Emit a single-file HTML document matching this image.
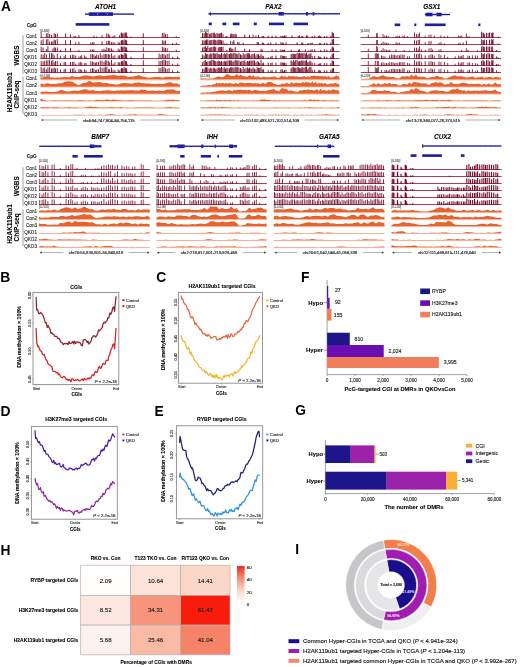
<!DOCTYPE html>
<html><head><meta charset="utf-8"><style>
html,body{margin:0;padding:0;background:#fff;overflow:hidden;}
svg{display:block;font-family:"Liberation Sans", sans-serif;}
</style></head><body>
<svg width="520" height="667" viewBox="0 0 520 667">
<defs><filter id="bl" x="0" y="0" width="1" height="1"><feGaussianBlur stdDeviation="0.5"/></filter></defs>
<rect width="520" height="667" fill="#fff"/>
<g filter="url(#bl)">
<text x="0.9" y="10.9" font-size="13.8" font-weight="bold">A</text><text x="26.8" y="26.9" font-size="4.7" font-weight="bold" fill="#111" stroke="#111" stroke-width="0.08">CpG</text><text x="37" y="38.3" font-size="4.6" text-anchor="end" fill="#111" stroke="#111" stroke-width="0.08">Con1</text><text x="37" y="80.3" font-size="4.6" text-anchor="end" fill="#111" stroke="#111" stroke-width="0.08">Con1</text><text x="37" y="45.25" font-size="4.6" text-anchor="end" fill="#111" stroke="#111" stroke-width="0.08">Con2</text><text x="37" y="87.4" font-size="4.6" text-anchor="end" fill="#111" stroke="#111" stroke-width="0.08">Con2</text><text x="37" y="52.2" font-size="4.6" text-anchor="end" fill="#111" stroke="#111" stroke-width="0.08">Con3</text><text x="37" y="94.5" font-size="4.6" text-anchor="end" fill="#111" stroke="#111" stroke-width="0.08">Con3</text><text x="37" y="59.15" font-size="4.6" text-anchor="end" fill="#111" stroke="#111" stroke-width="0.08">QKO1</text><text x="37" y="101.6" font-size="4.6" text-anchor="end" fill="#111" stroke="#111" stroke-width="0.08">QKO1</text><text x="37" y="66.1" font-size="4.6" text-anchor="end" fill="#111" stroke="#111" stroke-width="0.08">QKO2</text><text x="37" y="108.7" font-size="4.6" text-anchor="end" fill="#111" stroke="#111" stroke-width="0.08">QKO2</text><text x="37" y="73.05" font-size="4.6" text-anchor="end" fill="#111" stroke="#111" stroke-width="0.08">QKO3</text><text x="37" y="115.8" font-size="4.6" text-anchor="end" fill="#111" stroke="#111" stroke-width="0.08">QKO3</text><line x1="23" y1="35.3" x2="23" y2="73.95" stroke="#a0a0a0" stroke-width="1"/><line x1="23" y1="76.6" x2="23" y2="114.2" stroke="#a0a0a0" stroke-width="1"/><text x="18.7" y="55.5" font-size="6.4" text-anchor="middle" font-weight="bold" stroke="#000" stroke-width="0.08" transform="rotate(-90 18.7 55.5)">WGBS</text><text x="11.6" y="92.3" font-size="6.5" text-anchor="middle" font-weight="bold" stroke="#000" stroke-width="0.08" transform="rotate(-90 11.6 92.3)">H2AK119ub1</text><text x="19" y="94.5" font-size="6.5" text-anchor="middle" font-weight="bold" stroke="#000" stroke-width="0.08" transform="rotate(-90 19 94.5)">ChIP-seq</text><text x="105.6" y="8.7" font-size="6.4" text-anchor="middle" font-weight="bold" font-style="italic" stroke="#000" stroke-width="0.08">ATOH1</text><rect x="85" y="13.42" width="49" height="1.35" fill="#1c1c9c"/><rect x="88.8" y="12.3" width="24.2" height="3.6" fill="#1c1c9c"/><path d="M97.3 13.3l0.9 0.8l-0.9 0.8" stroke="#fff" stroke-width="0.5" fill="none"/><path d="M106.8 13.3l0.9 0.8l-0.9 0.8" stroke="#fff" stroke-width="0.5" fill="none"/><rect x="75.7" y="23.1" width="33.6" height="2.6" fill="#1c1c9c"/><text x="40.5" y="32" font-size="2.8" fill="#666" stroke="#666" stroke-width="0.14">[0-100]</text><text x="40.5" y="76.8" font-size="2.8" fill="#666" stroke="#666" stroke-width="0.14">[0-2.00]</text><line x1="40.5" y1="37.5" x2="180" y2="37.5" stroke="#b03c50" stroke-width="1"/><path d="M41.2 38v-5.7M46.4 38v-4.5M47.9 38v-5.1M49.6 38v-4M51.5 38v-3.3M54.2 38v-4.7M55.5 38v-4M57.3 38v-4.4M65.6 38v-4.7M70.5 38v-3.8M73.9 38v-2M75.7 38v-2M78.9 38v-2.8M93.9 38v-2.4M96.7 38v-1.6M102.1 38v-2.9M106.8 38v-4.7M108.4 38v-4.1M109.7 38v-2.9M113.1 38v-2.1M114.9 38v-2.8M119.6 38v-2.8M121.2 38v-5.4M122.7 38v-4.6M124.2 38v-5.3M125.9 38v-5.9M127.3 38v-1.7M131 38v-1.3M162.4 38v-4.9M164 38v-5.3M165.5 38v-3.8M167.2 38v-3.8M176.3 38v-1.7M143.3 38v-4.8M121.6 38v-5.2M122.9 38v-4M125.6 38v-5M126.6 38v-4.6" stroke="#740f2a" stroke-width="0.9" fill="none"/><line x1="40.5" y1="44.5" x2="180" y2="44.5" stroke="#b03c50" stroke-width="1"/><path d="M41.2 45v-4.6M43.1 45v-5.7M46.4 45v-5.6M47.9 45v-6.2M49.6 45v-3.5M51.5 45v-3.3M52.9 45v-3.7M54.2 45v-5.5M55.5 45v-4.7M57.3 45v-6M65.6 45v-4.9M70.5 45v-5M75.7 45v-2.7M78.9 45v-3.2M90.8 45v-2.6M92.5 45v-2.6M93.9 45v-2.8M102.1 45v-3.6M106.8 45v-4M108.4 45v-4.3M109.7 45v-4.2M111.5 45v-2.8M113.1 45v-2.9M114.9 45v-2.5M118.2 45v-2.8M119.6 45v-2.2M121.2 45v-4.2M122.7 45v-4.8M124.2 45v-5.6M125.9 45v-5.4M127.3 45v-1.2M162.4 45v-4.7M164 45v-4.3M165.5 45v-4.6M172.6 45v-2M176.3 45v-2.4M143.3 45v-4.9M121.6 45v-4.8M122.9 45v-4.4M125.6 45v-5M126.6 45v-4.1" stroke="#740f2a" stroke-width="0.9" fill="none"/><line x1="40.5" y1="51.5" x2="180" y2="51.5" stroke="#b03c50" stroke-width="1"/><path d="M41.2 52v-5.2M43.1 52v-4.4M46.4 52v-3M47.9 52v-5.9M52.9 52v-3.5M54.2 52v-4.8M55.5 52v-4.4M57.3 52v-4.5M60.5 52v-2M65.6 52v-3.8M70.5 52v-4M78.9 52v-2M90.8 52v-2.5M92.5 52v-2.6M93.9 52v-2.6M102.1 52v-2.6M104 52v-3.3M105.4 52v-2.1M106.8 52v-4.7M108.4 52v-3.8M109.7 52v-3.9M111.5 52v-3.5M113.1 52v-2.3M118.2 52v-3.4M119.6 52v-2.6M121.2 52v-5.6M122.7 52v-5.3M124.2 52v-5.7M125.9 52v-4.4M127.3 52v-1.5M131 52v-1.1M162.4 52v-5.1M164 52v-4.5M165.5 52v-4.2M167.2 52v-3.7M176.3 52v-2.2M143.3 52v-4.8M121.6 52v-5.1M122.9 52v-4.4M125.6 52v-5M126.6 52v-4.4" stroke="#740f2a" stroke-width="0.9" fill="none"/><line x1="40.5" y1="58.5" x2="180" y2="58.5" stroke="#b03c50" stroke-width="1"/><path d="M41.2 59v-4.6M43.1 59v-4.3M44.7 59v-5.9M46.4 59v-4.6M49.6 59v-6.2M51.5 59v-5.9M52.9 59v-5.4M54.2 59v-3.6M57.3 59v-5.3M60.5 59v-3.2M64.1 59v-2.8M65.6 59v-4.2M70.5 59v-3.9M72.4 59v-4.2M73.9 59v-4.3M75.7 59v-3.4M78.9 59v-2.3M80.3 59v-3.1M81.7 59v-3.7M84.4 59v-3.6M86 59v-2.4M90.8 59v-4.9M92.5 59v-5M93.9 59v-4.3M95.4 59v-3M96.7 59v-4.4M98.4 59v-3.9M100.3 59v-5.8M102.1 59v-3.6M104 59v-4.8M105.4 59v-4.9M106.8 59v-5M108.4 59v-5M109.7 59v-4.3M111.5 59v-5.4M113.1 59v-3.2M114.9 59v-3.8M118.2 59v-3.5M119.6 59v-3.8M121.2 59v-5.1M122.7 59v-4.1M124.2 59v-5.9M125.9 59v-5.6M127.3 59v-1.2M131 59v-2.4M159.1 59v-5.4M160.9 59v-4.4M162.4 59v-5.3M164 59v-5M165.5 59v-3.8M167.2 59v-5.1M169.1 59v-5.4M172.6 59v-2.2M177.7 59v-2.5M143.3 59v-5.5M121.6 59v-4.7M122.9 59v-4M125.6 59v-5.4M126.6 59v-4.5" stroke="#740f2a" stroke-width="0.9" fill="none"/><line x1="40.5" y1="65.5" x2="180" y2="65.5" stroke="#b03c50" stroke-width="1"/><path d="M41.2 66v-4.7M43.1 66v-4.7M44.7 66v-4.9M46.4 66v-5.6M47.9 66v-5.7M49.6 66v-6.2M51.5 66v-5.1M52.9 66v-5.9M54.2 66v-3.7M55.5 66v-5.1M57.3 66v-5M60.5 66v-2.8M64.1 66v-4M65.6 66v-4M70.5 66v-4M72.4 66v-4M73.9 66v-4.5M75.7 66v-2.3M78.9 66v-3.3M80.3 66v-4.2M81.7 66v-3.3M84.4 66v-2.8M86 66v-3.1M90.8 66v-4.9M92.5 66v-4.3M93.9 66v-4.1M95.4 66v-3.3M96.7 66v-3.9M98.4 66v-4.1M100.3 66v-5.4M102.1 66v-5.2M104 66v-4.3M105.4 66v-5.7M106.8 66v-5.8M108.4 66v-5M109.7 66v-3.6M111.5 66v-6.1M113.1 66v-2.4M114.9 66v-3.7M118.2 66v-3.9M119.6 66v-3.6M121.2 66v-4.1M122.7 66v-5.3M124.2 66v-6.2M125.9 66v-5M127.3 66v-1.6M131 66v-2.1M159.1 66v-5.1M160.9 66v-5.2M162.4 66v-5.7M164 66v-6.2M165.5 66v-5.7M167.2 66v-5M169.1 66v-5.5M172.6 66v-2.2M177.7 66v-2.5M143.3 66v-5.6M121.6 66v-4.9M122.9 66v-4M125.6 66v-4.9M126.6 66v-4.4" stroke="#740f2a" stroke-width="0.9" fill="none"/><line x1="40.5" y1="72.5" x2="180" y2="72.5" stroke="#b03c50" stroke-width="1"/><path d="M41.2 73v-6.1M43.1 73v-4.8M44.7 73v-5.5M46.4 73v-3.7M47.9 73v-5.5M49.6 73v-6.2M51.5 73v-4.5M52.9 73v-4.6M54.2 73v-5.3M55.5 73v-4.5M57.3 73v-4.9M60.5 73v-3.4M64.1 73v-3.8M65.6 73v-4.3M70.5 73v-4.3M72.4 73v-4.3M73.9 73v-4.8M75.7 73v-2.6M78.9 73v-3.8M80.3 73v-3.6M81.7 73v-3.4M84.4 73v-3.7M86 73v-2.8M90.8 73v-4.3M92.5 73v-4.8M93.9 73v-4.4M95.4 73v-2.8M96.7 73v-3.3M98.4 73v-4M100.3 73v-6.1M102.1 73v-4.8M104 73v-5.4M105.4 73v-6.2M106.8 73v-6.2M108.4 73v-4M109.7 73v-3.8M111.5 73v-5.5M113.1 73v-3.3M114.9 73v-2.9M118.2 73v-3.7M119.6 73v-2.5M121.2 73v-4M122.7 73v-4.8M124.2 73v-6.2M125.9 73v-5M127.3 73v-1.3M131 73v-2.2M159.1 73v-5M160.9 73v-5.1M162.4 73v-6.2M164 73v-5.9M165.5 73v-4.7M167.2 73v-4.1M169.1 73v-5M172.6 73v-2.7M177.7 73v-2.4M143.3 73v-5M121.6 73v-4.9M122.9 73v-4.3M125.6 73v-5M126.6 73v-4.3" stroke="#740f2a" stroke-width="0.9" fill="none"/><path d="M40.5 79.6L40.5 78L41.2 77.9L41.9 77.7L42.6 77.5L43.3 77.3L44 77.1L44.7 77L45.4 77L46.1 76.9L46.8 76.9L47.5 76.8L48.2 76.8L48.9 76.9L49.6 77.1L50.3 77.3L51 77.4L51.7 77.4L52.4 77.5L53.1 77.5L53.8 77.6L54.5 77.6L55.2 77.7L55.9 77.7L56.6 77.6L57.3 77.6L58 77.6L58.7 77.5L59.4 77.5L60.1 77.5L60.8 77.4L61.5 77.3L62.2 77.2L62.9 77.2L63.6 77.1L64.3 77L65 76.9L65.7 77L66.4 77.1L67.1 77.2L67.8 77.3L68.5 77.3L69.2 77.2L69.9 77L70.6 76.6L71.3 76.3L72 76.1L72.7 76.2L73.4 76.5L74.1 76.7L74.8 76.9L75.5 77L76.2 77.1L76.9 77.1L77.6 77.2L78.3 77.1L79 76.9L79.7 76.7L80.4 76.5L81.1 76.2L81.8 76L82.5 75.9L83.2 75.7L83.9 75.6L84.6 75.4L85.3 75.4L86 75.5L86.7 75.6L87.4 75.6L88.1 75.7L88.8 75.8L89.5 75.8L90.2 75.9L90.9 76.1L91.6 76.3L92.3 76.4L93 76.4L93.7 76.3L94.4 76.2L95.1 76.1L95.8 76L96.5 75.9L97.2 75.8L97.9 75.6L98.6 75.5L99.3 75.4L100 75.4L100.7 75.4L101.4 75.6L102.1 75.8L102.8 75.9L103.5 76L104.2 76L104.9 75.9L105.6 75.8L106.3 75.7L107 75.6L107.7 75.6L108.4 75.5L109.1 75.4L109.8 75.2L110.5 75.2L111.2 75.3L111.9 75.2L112.6 75.1L113.3 75L114 75L114.7 75.1L115.4 75.3L116.1 75.4L116.8 75.6L117.5 75.7L118.2 75.7L118.9 75.7L119.6 75.6L120.3 75.6L121 75.6L121.7 75.5L122.4 75.5L123.1 75.5L123.8 75.6L124.5 75.6L125.2 75.7L125.9 76.1L126.6 76.4L127.3 76.7L128 76.8L128.7 76.9L129.4 76.8L130.1 76.7L130.8 76.6L131.5 76.6L132.2 76.5L132.9 76.5L133.6 76.4L134.3 76.3L135 76.2L135.7 76.1L136.4 75.9L137.1 75.6L137.8 75.4L138.5 75.2L139.2 75.3L139.9 75.5L140.6 75.9L141.3 76.2L142 76.5L142.7 76.6L143.4 76.7L144.1 76.8L144.8 76.9L145.5 77.1L146.2 77.3L146.9 77.4L147.6 77.6L148.3 77.7L149 77.7L149.7 77.7L150.4 77.6L151.1 77.5L151.8 77.4L152.5 77.3L153.2 77.2L153.9 77.2L154.6 77.1L155.3 77.1L156 77L156.7 77L157.4 77L158.1 77L158.8 77.1L159.5 77.1L160.2 77.1L160.9 77.2L161.6 77.4L162.3 77.5L163 77.5L163.7 77.4L164.4 77.3L165.1 77.1L165.8 76.9L166.5 76.8L167.2 76.8L167.9 76.8L168.6 76.7L169.3 76.7L170 76.7L170.7 76.7L171.4 76.9L172.1 77L172.8 77L173.5 77L174.2 77L174.9 77L175.6 77L176.3 77L177 77L177.7 76.9L178.4 76.8L179.1 76.8L179.8 76.7L180 79.6Z" fill="#e8622f"/><line x1="40.5" y1="79.9" x2="180" y2="79.9" stroke="#ee9272" stroke-width="0.6"/><path d="M40.5 86.7L40.5 83.6L41.2 83.6L41.9 83.8L42.6 84.1L43.3 84.2L44 84.3L44.7 84.2L45.4 83.9L46.1 83.6L46.8 83.3L47.5 83.2L48.2 83.3L48.9 83.5L49.6 83.8L50.3 83.9L51 84L51.7 84.1L52.4 84.1L53.1 84.1L53.8 84.1L54.5 84.1L55.2 84.1L55.9 84L56.6 83.8L57.3 83.6L58 83.5L58.7 83.4L59.4 83.3L60.1 83.3L60.8 83.3L61.5 83.2L62.2 83L62.9 82.7L63.6 82.3L64.3 81.9L65 81.7L65.7 81.7L66.4 81.6L67.1 81.5L67.8 81.4L68.5 81.3L69.2 81.3L69.9 81.4L70.6 81.5L71.3 81.6L72 81.6L72.7 82L73.4 82.4L74.1 82.9L74.8 83.3L75.5 83.6L76.2 84L76.9 84.4L77.6 84.7L78.3 84.9L79 84.9L79.7 84.7L80.4 84.5L81.1 84.1L81.8 83.7L82.5 83.3L83.2 83.1L83.9 83L84.6 82.9L85.3 82.9L86 82.8L86.7 82.6L87.4 82.1L88.1 81.6L88.8 81.1L89.5 80.9L90.2 81L90.9 81.4L91.6 81.9L92.3 82.3L93 82.5L93.7 82.5L94.4 82.4L95.1 82.3L95.8 82.2L96.5 82.2L97.2 82.3L97.9 82.2L98.6 82.1L99.3 82.1L100 82L100.7 82.2L101.4 82.5L102.1 82.8L102.8 83.1L103.5 83.3L104.2 83.3L104.9 83.2L105.6 83.1L106.3 83L107 83L107.7 83.2L108.4 83.4L109.1 83.6L109.8 83.8L110.5 83.9L111.2 84L111.9 84L112.6 84.1L113.3 84.2L114 84.3L114.7 84.3L115.4 84.4L116.1 84.4L116.8 84.4L117.5 84.5L118.2 84.5L118.9 84.2L119.6 83.9L120.3 83.6L121 83.4L121.7 83.3L122.4 83.2L123.1 83.2L123.8 83.1L124.5 83L125.2 82.9L125.9 83L126.6 83.1L127.3 83.2L128 83.2L128.7 83.2L129.4 83.4L130.1 83.5L130.8 83.6L131.5 83.7L132.2 83.6L132.9 83.4L133.6 83.2L134.3 83L135 82.9L135.7 82.8L136.4 82.7L137.1 82.6L137.8 82.5L138.5 82.4L139.2 82.5L139.9 82.6L140.6 82.9L141.3 83.1L142 83.3L142.7 83.3L143.4 83.3L144.1 83.3L144.8 83.3L145.5 83.4L146.2 83.5L146.9 83.5L147.6 83.5L148.3 83.5L149 83.3L149.7 83.4L150.4 83.6L151.1 83.9L151.8 84.1L152.5 84.1L153.2 84.1L153.9 84.1L154.6 84L155.3 84L156 84L156.7 84L157.4 83.9L158.1 83.8L158.8 83.8L159.5 83.8L160.2 83.8L160.9 83.9L161.6 84L162.3 84L163 84L163.7 83.8L164.4 83.7L165.1 83.4L165.8 83.2L166.5 83L167.2 82.9L167.9 82.7L168.6 82.5L169.3 82.3L170 82.2L170.7 82.3L171.4 82.6L172.1 82.9L172.8 83.2L173.5 83.4L174.2 83.5L174.9 83.5L175.6 83.5L176.3 83.5L177 83.6L177.7 83.8L178.4 84L179.1 84.2L179.8 84.3L180 86.7Z" fill="#e8622f"/><line x1="40.5" y1="87" x2="180" y2="87" stroke="#ee9272" stroke-width="0.6"/><path d="M40.5 93.8L40.5 92L41.2 91.9L41.9 91.8L42.6 91.8L43.3 91.7L44 91.7L44.7 91.7L45.4 91.6L46.1 91.5L46.8 91.5L47.5 91.4L48.2 91.5L48.9 91.7L49.6 91.9L50.3 92L51 92.1L51.7 92.1L52.4 92.1L53.1 92.1L53.8 92L54.5 92L55.2 91.9L55.9 91.7L56.6 91.6L57.3 91.4L58 91.2L58.7 91L59.4 90.7L60.1 90.3L60.8 90L61.5 89.8L62.2 89.9L62.9 90.2L63.6 90.5L64.3 90.8L65 91L65.7 91.1L66.4 91.2L67.1 91.4L67.8 91.5L68.5 91.6L69.2 91.6L69.9 91.4L70.6 91.2L71.3 91L72 90.8L72.7 90.8L73.4 90.7L74.1 90.7L74.8 90.6L75.5 90.6L76.2 90.6L76.9 90.7L77.6 90.9L78.3 90.9L79 90.6L79.7 90.4L80.4 90.2L81.1 90.1L81.8 90L82.5 89.8L83.2 89.7L83.9 89.5L84.6 89.3L85.3 89.2L86 89.2L86.7 89.4L87.4 89.7L88.1 90L88.8 90.3L89.5 90.4L90.2 90.4L90.9 90.3L91.6 90.2L92.3 90.1L93 90L93.7 90.2L94.4 90.4L95.1 90.7L95.8 90.9L96.5 91L97.2 91L97.9 91L98.6 91L99.3 91L100 91L100.7 91L101.4 90.8L102.1 90.7L102.8 90.6L103.5 90.5L104.2 90.5L104.9 90.4L105.6 90.4L106.3 90.3L107 90.3L107.7 90.3L108.4 90.3L109.1 90.4L109.8 90.4L110.5 90.5L111.2 90.6L111.9 90.7L112.6 90.9L113.3 91L114 91.1L114.7 91.1L115.4 90.9L116.1 90.7L116.8 90.5L117.5 90.4L118.2 90.4L118.9 90.4L119.6 90.4L120.3 90.4L121 90.3L121.7 90.3L122.4 90.3L123.1 90.4L123.8 90.4L124.5 90.4L125.2 90.4L125.9 90.3L126.6 90.3L127.3 90.3L128 90.2L128.7 90.2L129.4 90.2L130.1 90.2L130.8 90.1L131.5 90.1L132.2 90.2L132.9 90.2L133.6 90.3L134.3 90.4L135 90.4L135.7 90.4L136.4 90.5L137.1 90.5L137.8 90.6L138.5 90.6L139.2 90.5L139.9 90.2L140.6 89.8L141.3 89.6L142 89.5L142.7 89.7L143.4 89.8L144.1 89.9L144.8 90L145.5 90.1L146.2 90.3L146.9 90.5L147.6 90.7L148.3 90.9L149 90.9L149.7 90.8L150.4 90.7L151.1 90.5L151.8 90.4L152.5 90.4L153.2 90.4L153.9 90.6L154.6 90.7L155.3 90.9L156 90.9L156.7 90.9L157.4 90.8L158.1 90.6L158.8 90.5L159.5 90.4L160.2 90.5L160.9 90.7L161.6 90.9L162.3 91L163 91L163.7 90.9L164.4 90.6L165.1 90.3L165.8 89.9L166.5 89.7L167.2 89.6L167.9 89.6L168.6 89.6L169.3 89.6L170 89.6L170.7 89.6L171.4 89.5L172.1 89.4L172.8 89.3L173.5 89.4L174.2 89.6L174.9 90L175.6 90.5L176.3 90.9L177 91L177.7 91L178.4 90.9L179.1 90.6L179.8 90.5L180 93.8Z" fill="#e8622f"/><line x1="40.5" y1="94.1" x2="180" y2="94.1" stroke="#ee9272" stroke-width="0.6"/><path d="M40.5 100.9L40.5 98.6L41.2 98.7L41.9 99.1L42.6 99.6L43.3 99.9L44 100.1L44.7 100.3L45.4 100.4L46.1 100.5L46.8 100.6L47.5 100.7L48.2 100.7L48.9 100.7L49.6 100.7L50.3 100.7L51 100.7L51.7 100.6L52.4 100.6L53.1 100.5L53.8 100.4L54.5 100.4L55.2 100.4L55.9 100.4L56.6 100.4L57.3 100.4L58 100.4L58.7 100.4L59.4 100.5L60.1 100.6L60.8 100.6L61.5 100.7L62.2 100.6L62.9 100.6L63.6 100.5L64.3 100.4L65 100.4L65.7 100.4L66.4 100.4L67.1 100.5L67.8 100.6L68.5 100.6L69.2 100.6L69.9 100.6L70.6 100.5L71.3 100.5L72 100.5L72.7 100.5L73.4 100.6L74.1 100.6L74.8 100.6L75.5 100.6L76.2 100.6L76.9 100.5L77.6 100.4L78.3 100.3L79 100.3L79.7 100.3L80.4 100.3L81.1 100.2L81.8 100.2L82.5 100.2L83.2 100.3L83.9 100.4L84.6 100.6L85.3 100.6L86 100.7L86.7 100.7L87.4 100.6L88.1 100.6L88.8 100.6L89.5 100.5L90.2 100.6L90.9 100.6L91.6 100.6L92.3 100.7L93 100.7L93.7 100.6L94.4 100.5L95.1 100.3L95.8 100.1L96.5 99.8L97.2 99.8L97.9 99.8L98.6 100L99.3 100.1L100 100.1L100.7 100.1L101.4 100.1L102.1 100.1L102.8 100.1L103.5 100.1L104.2 100.1L104.9 99.9L105.6 99.7L106.3 99.5L107 99.4L107.7 99.5L108.4 99.7L109.1 99.9L109.8 100L110.5 100L111.2 100L111.9 99.8L112.6 99.7L113.3 99.6L114 99.6L114.7 99.7L115.4 99.8L116.1 99.9L116.8 100L117.5 100.1L118.2 100.1L118.9 100.2L119.6 100.3L120.3 100.3L121 100.3L121.7 100.4L122.4 100.4L123.1 100.5L123.8 100.6L124.5 100.6L125.2 100.6L125.9 100.5L126.6 100.5L127.3 100.4L128 100.4L128.7 100.3L129.4 100.3L130.1 100.3L130.8 100.2L131.5 100.2L132.2 100.2L132.9 100.3L133.6 100.4L134.3 100.4L135 100.4L135.7 100.4L136.4 100.4L137.1 100.5L137.8 100.5L138.5 100.5L139.2 100.5L139.9 100.5L140.6 100.4L141.3 100.4L142 100.4L142.7 100.5L143.4 100.5L144.1 100.5L144.8 100.6L145.5 100.6L146.2 100.6L146.9 100.6L147.6 100.6L148.3 100.5L149 100.5L149.7 100.5L150.4 100.6L151.1 100.6L151.8 100.7L152.5 100.7L153.2 100.7L153.9 100.7L154.6 100.7L155.3 100.7L156 100.7L156.7 100.7L157.4 100.7L158.1 100.7L158.8 100.7L159.5 100.7L160.2 100.7L160.9 100.6L161.6 100.6L162.3 100.5L163 100.5L163.7 100.5L164.4 100.4L165.1 100.3L165.8 100.1L166.5 99.9L167.2 99.8L167.9 99.8L168.6 99.8L169.3 99.8L170 99.8L170.7 99.8L171.4 99.7L172.1 99.7L172.8 99.6L173.5 99.7L174.2 99.8L174.9 99.9L175.6 99.9L176.3 100L177 100.1L177.7 100.2L178.4 100.3L179.1 100.4L179.8 100.4L180 100.9Z" fill="#e8622f"/><line x1="40.5" y1="101.2" x2="180" y2="101.2" stroke="#ee9272" stroke-width="0.6"/><path d="M40.5 108L40.5 107.1L41.2 107.1L41.9 107.1L42.6 107.2L43.3 107.2L44 107.2L44.7 107.2L45.4 107.2L46.1 107.2L46.8 107.2L47.5 107.2L48.2 107.2L48.9 107.3L49.6 107.4L50.3 107.5L51 107.5L51.7 107.5L52.4 107.4L53.1 107.3L53.8 107.2L54.5 107.2L55.2 107.2L55.9 107.3L56.6 107.3L57.3 107.3L58 107.4L58.7 107.5L59.4 107.6L60.1 107.7L60.8 107.8L61.5 107.8L62.2 107.8L62.9 107.8L63.6 107.7L64.3 107.6L65 107.6L65.7 107.5L66.4 107.5L67.1 107.4L67.8 107.2L68.5 107.2L69.2 107.2L69.9 107.2L70.6 107.3L71.3 107.4L72 107.5L72.7 107.5L73.4 107.4L74.1 107.4L74.8 107.4L75.5 107.4L76.2 107.5L76.9 107.6L77.6 107.6L78.3 107.7L79 107.7L79.7 107.7L80.4 107.8L81.1 107.8L81.8 107.8L82.5 107.8L83.2 107.8L83.9 107.7L84.6 107.6L85.3 107.5L86 107.3L86.7 107.2L87.4 107L88.1 106.8L88.8 106.7L89.5 106.5L90.2 106.5L90.9 106.6L91.6 106.8L92.3 107L93 107.1L93.7 107.1L94.4 107.1L95.1 107.1L95.8 107.1L96.5 107.2L97.2 107.3L97.9 107.3L98.6 107.4L99.3 107.4L100 107.4L100.7 107.4L101.4 107.4L102.1 107.5L102.8 107.5L103.5 107.5L104.2 107.5L104.9 107.5L105.6 107.5L106.3 107.5L107 107.5L107.7 107.5L108.4 107.4L109.1 107.3L109.8 107.3L110.5 107.2L111.2 107.2L111.9 107.3L112.6 107.3L113.3 107.3L114 107.3L114.7 107.4L115.4 107.4L116.1 107.4L116.8 107.4L117.5 107.5L118.2 107.4L118.9 107.4L119.6 107.3L120.3 107.2L121 107.1L121.7 107.2L122.4 107.4L123.1 107.6L123.8 107.7L124.5 107.7L125.2 107.7L125.9 107.7L126.6 107.7L127.3 107.6L128 107.6L128.7 107.7L129.4 107.7L130.1 107.8L130.8 107.8L131.5 107.8L132.2 107.8L132.9 107.8L133.6 107.7L134.3 107.7L135 107.6L135.7 107.6L136.4 107.6L137.1 107.6L137.8 107.6L138.5 107.6L139.2 107.6L139.9 107.5L140.6 107.5L141.3 107.4L142 107.5L142.7 107.5L143.4 107.4L144.1 107.4L144.8 107.4L145.5 107.4L146.2 107.4L146.9 107.5L147.6 107.5L148.3 107.5L149 107.5L149.7 107.5L150.4 107.5L151.1 107.5L151.8 107.5L152.5 107.5L153.2 107.6L153.9 107.6L154.6 107.7L155.3 107.7L156 107.8L156.7 107.8L157.4 107.7L158.1 107.7L158.8 107.7L159.5 107.7L160.2 107.7L160.9 107.7L161.6 107.7L162.3 107.7L163 107.7L163.7 107.7L164.4 107.6L165.1 107.5L165.8 107.4L166.5 107.3L167.2 107.2L167.9 107.2L168.6 107.1L169.3 107.1L170 107.1L170.7 107.1L171.4 107.3L172.1 107.4L172.8 107.5L173.5 107.6L174.2 107.6L174.9 107.6L175.6 107.6L176.3 107.6L177 107.6L177.7 107.7L178.4 107.7L179.1 107.7L179.8 107.7L180 108Z" fill="#e8622f"/><line x1="40.5" y1="108.3" x2="180" y2="108.3" stroke="#ee9272" stroke-width="0.6"/><path d="M40.5 115.1L40.5 114.9L41.2 114.9L41.9 114.9L42.6 114.9L43.3 114.9L44 114.9L44.7 114.9L45.4 114.9L46.1 114.9L46.8 114.9L47.5 114.9L48.2 114.9L48.9 114.9L49.6 114.9L50.3 114.9L51 115L51.7 114.9L52.4 114.9L53.1 114.9L53.8 114.9L54.5 114.9L55.2 114.9L55.9 114.9L56.6 115L57.3 115L58 115L58.7 115L59.4 114.9L60.1 114.9L60.8 114.9L61.5 114.8L62.2 114.9L62.9 114.9L63.6 114.9L64.3 115L65 115L65.7 114.9L66.4 114.9L67.1 114.9L67.8 114.9L68.5 114.9L69.2 114.9L69.9 114.9L70.6 114.9L71.3 114.9L72 114.9L72.7 114.9L73.4 114.8L74.1 114.8L74.8 114.7L75.5 114.7L76.2 114.7L76.9 114.7L77.6 114.7L78.3 114.7L79 114.7L79.7 114.7L80.4 114.7L81.1 114.7L81.8 114.7L82.5 114.7L83.2 114.7L83.9 114.8L84.6 114.9L85.3 114.9L86 114.9L86.7 114.9L87.4 114.9L88.1 114.9L88.8 114.8L89.5 114.8L90.2 114.8L90.9 114.8L91.6 114.8L92.3 114.8L93 114.9L93.7 114.9L94.4 114.9L95.1 114.9L95.8 114.9L96.5 114.9L97.2 114.9L97.9 114.9L98.6 114.8L99.3 114.7L100 114.7L100.7 114.8L101.4 114.8L102.1 114.9L102.8 114.9L103.5 114.9L104.2 114.9L104.9 114.9L105.6 114.8L106.3 114.7L107 114.6L107.7 114.6L108.4 114.5L109.1 114.4L109.8 114.3L110.5 114.2L111.2 114.2L111.9 114.2L112.6 114.2L113.3 114.3L114 114.4L114.7 114.5L115.4 114.7L116.1 114.8L116.8 114.9L117.5 115L118.2 115L118.9 115L119.6 114.9L120.3 114.9L121 114.9L121.7 114.9L122.4 114.9L123.1 114.9L123.8 114.8L124.5 114.7L125.2 114.7L125.9 114.7L126.6 114.8L127.3 114.8L128 114.7L128.7 114.7L129.4 114.6L130.1 114.6L130.8 114.5L131.5 114.5L132.2 114.5L132.9 114.4L133.6 114.3L134.3 114.2L135 114.2L135.7 114.3L136.4 114.5L137.1 114.7L137.8 114.8L138.5 114.8L139.2 114.8L139.9 114.8L140.6 114.8L141.3 114.8L142 114.7L142.7 114.8L143.4 114.8L144.1 114.8L144.8 114.8L145.5 114.8L146.2 114.8L146.9 114.8L147.6 114.8L148.3 114.8L149 114.8L149.7 114.8L150.4 114.8L151.1 114.8L151.8 114.8L152.5 114.8L153.2 114.8L153.9 114.8L154.6 114.8L155.3 114.8L156 114.8L156.7 114.7L157.4 114.6L158.1 114.4L158.8 114.2L159.5 114L160.2 114L160.9 114.1L161.6 114.2L162.3 114.3L163 114.4L163.7 114.5L164.4 114.5L165.1 114.6L165.8 114.7L166.5 114.7L167.2 114.8L167.9 114.8L168.6 114.9L169.3 114.9L170 114.9L170.7 114.9L171.4 114.9L172.1 114.9L172.8 114.9L173.5 114.9L174.2 114.9L174.9 114.9L175.6 114.9L176.3 114.9L177 114.9L177.7 114.9L178.4 114.9L179.1 114.9L179.8 114.9L180 115.1Z" fill="#e8622f"/><line x1="40.5" y1="115.4" x2="180" y2="115.4" stroke="#ee9272" stroke-width="0.6"/><line x1="42" y1="120" x2="77.1" y2="120" stroke="#8a8f8f" stroke-width="0.7"/><line x1="140.3" y1="120" x2="178.5" y2="120" stroke="#8a8f8f" stroke-width="0.7"/><path d="M41 120l2.2 -1.1v2.2z" fill="#333"/><path d="M179.5 120l-2.2 -1.1v2.2z" fill="#333"/><text x="108.7" y="121.6" font-size="4.15" text-anchor="middle" fill="#111" stroke="#111" stroke-width="0.14">chr4:94,747,904-94,754,115</text><text x="273.4" y="8.7" font-size="6.4" text-anchor="middle" font-weight="bold" font-style="italic" stroke="#000" stroke-width="0.08">PAX2</text><rect x="209" y="13.12" width="131" height="1.35" fill="#1c1c9c"/><rect x="278.6" y="12" width="5.2" height="3.6" fill="#1c1c9c"/><rect x="306" y="12" width="2" height="3.6" fill="#1c1c9c"/><rect x="312.6" y="12" width="1.7" height="3.6" fill="#1c1c9c"/><path d="M213.5 13l-1 0.8l1 0.8M218.5 13l-1 0.8l1 0.8M223.5 13l-1 0.8l1 0.8M228.5 13l-1 0.8l1 0.8M233.5 13l-1 0.8l1 0.8M238.5 13l-1 0.8l1 0.8M243.5 13l-1 0.8l1 0.8M248.5 13l-1 0.8l1 0.8M253.5 13l-1 0.8l1 0.8M258.5 13l-1 0.8l1 0.8M263.5 13l-1 0.8l1 0.8M268.5 13l-1 0.8l1 0.8M273.5 13l-1 0.8l1 0.8M278.5 13l-1 0.8l1 0.8M283.5 13l-1 0.8l1 0.8M288.5 13l-1 0.8l1 0.8M293.5 13l-1 0.8l1 0.8M298.5 13l-1 0.8l1 0.8M303.5 13l-1 0.8l1 0.8M308.5 13l-1 0.8l1 0.8M313.5 13l-1 0.8l1 0.8M318.5 13l-1 0.8l1 0.8M323.5 13l-1 0.8l1 0.8M328.5 13l-1 0.8l1 0.8M333.5 13l-1 0.8l1 0.8" stroke="#6a6ad8" stroke-width="0.45" fill="none"/><path d="M208 13.8l3 -1.9v3.8z" fill="#1c1c9c"/><rect x="208.7" y="22.6" width="3.1" height="2.6" fill="#1c1c9c"/><rect x="222.4" y="22.6" width="3.8" height="2.6" fill="#1c1c9c"/><rect x="232.8" y="22.6" width="6.7" height="2.6" fill="#1c1c9c"/><rect x="253.8" y="22.6" width="3" height="2.6" fill="#1c1c9c"/><rect x="269" y="22.6" width="15" height="2.6" fill="#1c1c9c"/><rect x="293.5" y="22.6" width="14.5" height="2.6" fill="#1c1c9c"/><text x="200.4" y="32" font-size="2.8" fill="#666" stroke="#666" stroke-width="0.14">[0-100]</text><text x="200.4" y="76.8" font-size="2.8" fill="#666" stroke="#666" stroke-width="0.14">[0-2.00]</text><line x1="200.4" y1="37.5" x2="339.6" y2="37.5" stroke="#b03c50" stroke-width="1"/><path d="M202.6 38v-5.1M204.1 38v-4.9M205.4 38v-6.2M206.5 38v-5.4M207.8 38v-5M209.3 38v-4.3M210.7 38v-4.4M211.8 38v-5.2M213.3 38v-5.2M214.6 38v-5.4M215.7 38v-3.7M217.1 38v-5M218.2 38v-4.3M219.3 38v-4.5M220.3 38v-4.8M221.5 38v-5.2M223 38v-4M225.5 38v-1.5M226.8 38v-2.1M230.7 38v-4.2M231.7 38v-4.2M232.9 38v-4.2M233.9 38v-3.6M235.2 38v-4.3M236.3 38v-3.5M244.7 38v-3.3M249.5 38v-2.8M253.1 38v-3.3M255.9 38v-2.4M258.5 38v-3M262.3 38v-2M263.6 38v-1.9M268.2 38v-2.3M272.1 38v-2.3M276 38v-2.4M280.9 38v-2.2M282.3 38v-2.1M283.4 38v-1.9M284.5 38v-2.6M286 38v-2.6M292.1 38v-2.5M298.4 38v-1.8M299.6 38v-2.8M301.8 38v-2.1M302.8 38v-2M306.5 38v-2.7M307.7 38v-2.4M312.2 38v-2M314.7 38v-2.2M318.3 38v-2.2M319.3 38v-2.5M320.7 38v-1.8M324.3 38v-2M326.8 38v-2.1M330.8 38v-2.2M332.2 38v-6.1M333.5 38v-4.8M333 38v-4.5" stroke="#740f2a" stroke-width="0.95" fill="none"/><line x1="200.4" y1="44.5" x2="339.6" y2="44.5" stroke="#b03c50" stroke-width="1"/><path d="M202.6 45v-4.8M204.1 45v-4.5M205.4 45v-4.7M206.5 45v-5.4M207.8 45v-5.5M209.3 45v-4.6M210.7 45v-5M211.8 45v-5M213.3 45v-5.2M214.6 45v-5.5M215.7 45v-4.8M217.1 45v-4.6M218.2 45v-5.3M219.3 45v-5.3M220.3 45v-5.1M221.5 45v-4.7M223 45v-4.5M224.3 45v-1.7M226.8 45v-1.7M230.7 45v-4.1M232.9 45v-3.3M233.9 45v-4.8M237.7 45v-3M239 45v-2.7M243.2 45v-2.4M257.2 45v-3M258.5 45v-2.5M262.3 45v-2.5M263.6 45v-2.2M268.2 45v-2.1M270.8 45v-2.6M276 45v-2.3M280.9 45v-2.8M282.3 45v-2.5M283.4 45v-1.9M286 45v-2.6M297.1 45v-2.6M301.8 45v-2.4M302.8 45v-2.2M307.7 45v-1.7M308.9 45v-1.7M310.9 45v-2.1M312.2 45v-2.4M319.3 45v-1.9M320.7 45v-1.9M324.3 45v-2.2M326.8 45v-2.2M330.8 45v-2.4M332.2 45v-5.7M333.5 45v-6.2M333 45v-5.1" stroke="#740f2a" stroke-width="0.95" fill="none"/><line x1="200.4" y1="51.5" x2="339.6" y2="51.5" stroke="#b03c50" stroke-width="1"/><path d="M202.6 52v-4.6M204.1 52v-5.2M205.4 52v-5.9M206.5 52v-4.2M207.8 52v-6M209.3 52v-4.2M210.7 52v-4.7M211.8 52v-4.9M213.3 52v-5.3M214.6 52v-5.7M215.7 52v-4.9M218.2 52v-4.4M219.3 52v-5M220.3 52v-5M221.5 52v-5.1M223 52v-5.3M226.8 52v-1.9M229.5 52v-4.1M230.7 52v-4.5M231.7 52v-3.1M232.9 52v-3.3M235.2 52v-4.8M244.7 52v-3.3M249.5 52v-2.8M261 52v-3.3M262.3 52v-2.5M272.1 52v-2.5M276 52v-2.6M280.9 52v-2.5M282.3 52v-2.3M283.4 52v-2M284.5 52v-2.3M291.1 52v-2.4M298.4 52v-2.2M299.6 52v-2.7M305.3 52v-2.6M308.9 52v-1.5M310.9 52v-2.4M312.2 52v-2.6M314.7 52v-2.6M320.7 52v-2.1M324.3 52v-2.5M326.8 52v-2.3M330.8 52v-2.7M332.2 52v-5.5M333.5 52v-4.4M333 52v-4.7" stroke="#740f2a" stroke-width="0.95" fill="none"/><line x1="200.4" y1="58.5" x2="339.6" y2="58.5" stroke="#b03c50" stroke-width="1"/><path d="M202.6 59v-4.5M204.1 59v-3.4M205.4 59v-6.2M206.5 59v-4.9M207.8 59v-5M209.3 59v-4.6M210.7 59v-5.6M211.8 59v-5.3M213.3 59v-6.2M214.6 59v-5.6M215.7 59v-5.3M217.1 59v-6.2M218.2 59v-4.6M219.3 59v-5M220.3 59v-4.3M221.5 59v-6.1M223 59v-5M224.3 59v-6M225.5 59v-4.7M226.8 59v-6.2M228 59v-4.8M229.5 59v-5M230.7 59v-5.9M231.7 59v-5.3M232.9 59v-5.5M233.9 59v-6.1M235.2 59v-5.9M236.3 59v-5.2M237.7 59v-4.8M239 59v-6.1M240.5 59v-4.6M241.8 59v-3.9M243.2 59v-5.9M244.7 59v-4.5M246 59v-5.3M247.4 59v-5.6M248.4 59v-5.7M249.5 59v-5.5M250.9 59v-3.5M251.9 59v-4.8M253.1 59v-5M254.5 59v-5.8M255.9 59v-3.4M257.2 59v-5.1M258.5 59v-4.8M259.7 59v-3M261 59v-5.1M262.3 59v-3.2M263.6 59v-2.8M268.2 59v-2M270.8 59v-2.5M272.1 59v-3.2M276 59v-3.5M280.9 59v-3.8M282.3 59v-3.2M283.4 59v-3M284.5 59v-2.9M286 59v-2.9M291.1 59v-4.7M292.1 59v-5.4M293.4 59v-5.2M294.6 59v-5.2M295.7 59v-4.9M297.1 59v-6.1M298.4 59v-5.5M299.6 59v-6.2M300.7 59v-5.4M301.8 59v-5.9M302.8 59v-5.6M304 59v-5.8M305.3 59v-5.5M306.5 59v-6.2M307.7 59v-4M308.9 59v-5.2M309.9 59v-4.9M310.9 59v-5.8M312.2 59v-2.9M314.7 59v-3.1M318.3 59v-2.9M319.3 59v-2.3M320.7 59v-2.2M324.3 59v-2.6M326.8 59v-2.1M330.8 59v-2.5M332.2 59v-5.3M333.5 59v-5.8M333 59v-4.7" stroke="#740f2a" stroke-width="0.95" fill="none"/><line x1="200.4" y1="65.5" x2="339.6" y2="65.5" stroke="#b03c50" stroke-width="1"/><path d="M202.6 66v-3.8M204.1 66v-5M205.4 66v-6.1M206.5 66v-4M207.8 66v-4.4M209.3 66v-4.9M210.7 66v-5.3M211.8 66v-6.1M213.3 66v-6.2M214.6 66v-5.3M215.7 66v-4.6M217.1 66v-4.3M218.2 66v-5.4M219.3 66v-5M220.3 66v-4.3M221.5 66v-5M223 66v-4.4M224.3 66v-5.2M225.5 66v-4.4M226.8 66v-5.2M228 66v-5.6M229.5 66v-5.7M230.7 66v-5.6M231.7 66v-5.5M232.9 66v-4.1M233.9 66v-4.7M235.2 66v-6.1M236.3 66v-5.7M237.7 66v-5.5M239 66v-5.4M240.5 66v-4.3M241.8 66v-5.2M243.2 66v-5.2M244.7 66v-5.5M246 66v-4M247.4 66v-5M248.4 66v-4.4M249.5 66v-5.2M250.9 66v-5.6M251.9 66v-5.2M253.1 66v-5.6M254.5 66v-5.6M255.9 66v-3.5M257.2 66v-4.9M258.5 66v-4.2M259.7 66v-2.9M261 66v-6.2M262.3 66v-2.7M263.6 66v-3.5M268.2 66v-3.4M270.8 66v-2.9M272.1 66v-3.6M276 66v-3.4M280.9 66v-3.7M282.3 66v-3.6M283.4 66v-3.2M284.5 66v-3.4M286 66v-3M291.1 66v-5.3M292.1 66v-4.5M293.4 66v-6.2M294.6 66v-4.5M295.7 66v-5.9M297.1 66v-6M298.4 66v-4.3M299.6 66v-5.1M300.7 66v-4.7M301.8 66v-5.8M302.8 66v-5.2M304 66v-5.3M305.3 66v-5.1M306.5 66v-6.2M307.7 66v-3.6M308.9 66v-3.7M309.9 66v-5.4M310.9 66v-4.6M312.2 66v-3.2M314.7 66v-2.9M318.3 66v-2.1M319.3 66v-2.5M320.7 66v-2.9M324.3 66v-2.8M326.8 66v-2.8M330.8 66v-2.7M332.2 66v-5.5M333.5 66v-5M333 66v-4.7" stroke="#740f2a" stroke-width="0.95" fill="none"/><line x1="200.4" y1="72.5" x2="339.6" y2="72.5" stroke="#b03c50" stroke-width="1"/><path d="M202.6 73v-4.2M204.1 73v-4.2M205.4 73v-6M206.5 73v-5.7M207.8 73v-5.5M209.3 73v-4.5M210.7 73v-5.2M211.8 73v-4.6M213.3 73v-5.3M214.6 73v-5M215.7 73v-3.9M217.1 73v-4.8M218.2 73v-5.3M219.3 73v-5.3M220.3 73v-5.1M221.5 73v-6.1M223 73v-4.9M224.3 73v-5.7M225.5 73v-4.4M226.8 73v-5.1M228 73v-4.7M229.5 73v-4.7M230.7 73v-5.7M231.7 73v-5.7M232.9 73v-5.5M233.9 73v-4.9M235.2 73v-6.2M236.3 73v-5.8M237.7 73v-6.2M239 73v-5.3M240.5 73v-4.9M241.8 73v-3.7M243.2 73v-6.1M244.7 73v-4M246 73v-5.1M247.4 73v-5.6M248.4 73v-4.5M249.5 73v-5.3M250.9 73v-4.6M251.9 73v-4M253.1 73v-5.5M254.5 73v-4.3M255.9 73v-3.6M257.2 73v-5.7M258.5 73v-5.2M259.7 73v-5M261 73v-6.2M262.3 73v-3.6M263.6 73v-3.7M268.2 73v-2.8M270.8 73v-2.5M272.1 73v-2.8M276 73v-3.2M280.9 73v-3.6M282.3 73v-3.8M283.4 73v-1.7M284.5 73v-3M286 73v-3.3M291.1 73v-4.7M292.1 73v-5.6M293.4 73v-6.2M294.6 73v-5.2M295.7 73v-5.2M297.1 73v-5.7M298.4 73v-5.8M299.6 73v-5M300.7 73v-4.5M301.8 73v-5.6M302.8 73v-5.8M304 73v-5.1M305.3 73v-6.2M306.5 73v-6.2M307.7 73v-3.5M308.9 73v-5.2M309.9 73v-6.1M310.9 73v-6.2M312.2 73v-3.2M314.7 73v-2.9M318.3 73v-2.5M319.3 73v-3.1M320.7 73v-2.5M324.3 73v-2.9M326.8 73v-2.7M330.8 73v-3M332.2 73v-4.2M333.5 73v-4.9M333 73v-5" stroke="#740f2a" stroke-width="0.95" fill="none"/><path d="M200.4 79.6L200.4 78.4L201.1 78.3L201.8 78.2L202.5 78.3L203.2 78.4L203.9 78.4L204.6 78.5L205.3 78.5L206 78.5L206.7 78.4L207.4 78.5L208.1 78.5L208.8 78.5L209.5 78.4L210.2 78.5L210.9 78.5L211.6 78.5L212.3 78.5L213 78.5L213.7 78.3L214.4 77.9L215.1 77.7L215.8 77.4L216.5 77.1L217.2 76.8L217.9 76.5L218.6 76.6L219.3 76.8L220 76.9L220.7 77.1L221.4 77.1L222.1 77.3L222.8 77.3L223.5 77L224.2 76.4L224.9 76L225.6 75L226.3 74.6L227 74.4L227.7 74.3L228.4 74.5L229.1 74.8L229.8 75.2L230.5 75.9L231.2 75.9L231.9 75.9L232.6 75.9L233.3 75.9L234 76L234.7 75.7L235.4 75.3L236.1 75L236.8 74.1L237.5 74.1L238.2 75.4L238.9 76L239.6 75.3L240.3 74.6L241 74.9L241.7 75.4L242.4 75.7L243.1 76.1L243.8 76.3L244.5 76.2L245.2 76.1L245.9 76.4L246.6 76.9L247.3 76.7L248 76L248.7 75.7L249.4 75.4L250.1 75.2L250.8 75.9L251.5 76.5L252.2 76.2L252.9 75.3L253.6 75.5L254.3 76.4L255 76.8L255.7 76.8L256.4 76.8L257.1 76.5L257.8 76.2L258.5 76.4L259.2 77L259.9 77.2L260.6 77.4L261.3 77.4L262 77.1L262.7 76.7L263.4 76.7L264.1 76.7L264.8 76.8L265.5 77.1L266.2 77.2L266.9 77.2L267.6 77.2L268.3 77.2L269 77.2L269.7 77.2L270.4 77.1L271.1 77.1L271.8 77.1L272.5 77.1L273.2 76.7L273.9 76.2L274.6 76.4L275.3 76.5L276 76.9L276.7 77.6L277.4 77.7L278.1 77.7L278.8 77.7L279.5 77.3L280.2 76.7L280.9 76.3L281.6 75.7L282.3 75.7L283 76.5L283.7 76.8L284.4 76.5L285.1 76.1L285.8 76.6L286.5 77.3L287.2 77.3L287.9 76.5L288.6 76.1L289.3 76L290 76L290.7 76.2L291.4 76.6L292.1 76.5L292.8 76L293.5 76L294.2 76.4L294.9 76.5L295.6 76.4L296.3 76.2L297 76.4L297.7 76.7L298.4 76.8L299.1 76.9L299.8 76.9L300.5 77L301.2 77.1L301.9 76.9L302.6 76.5L303.3 76.4L304 76.1L304.7 76.2L305.4 77L306.1 77.3L306.8 76.8L307.5 76.1L308.2 76.5L308.9 77.1L309.6 77.1L310.3 76.4L311 76.1L311.7 76L312.4 75.9L313.1 75.7L313.8 75.5L314.5 75.6L315.2 76L315.9 76.1L316.6 76.1L317.3 76.1L318 76.1L318.7 76.1L319.4 76.2L320.1 76.2L320.8 76.2L321.5 76.2L322.2 76.3L322.9 76.3L323.6 76.4L324.3 76.3L325 76.1L325.7 76.3L326.4 76.9L327.1 77L327.8 76.3L328.5 76L329.2 76.7L329.9 77.3L330.6 77.3L331.3 77.4L332 77.4L332.7 77.3L333.4 77.3L334.1 76.8L334.8 76.3L335.5 75.9L336.2 75.5L336.9 75.7L337.6 76.6L338.3 76.6L339 75.6L339.6 79.6Z" fill="#e8622f"/><line x1="200.4" y1="79.9" x2="339.6" y2="79.9" stroke="#ee9272" stroke-width="0.6"/><path d="M200.4 86.7L200.4 86L201.1 85.9L201.8 85.7L202.5 85.7L203.2 85.6L203.9 85.5L204.6 85.6L205.3 85.7L206 85.5L206.7 85.4L207.4 85.3L208.1 85.1L208.8 85L209.5 85L210.2 85L210.9 85.2L211.6 85.3L212.3 84.9L213 84.2L213.7 84L214.4 84.4L215.1 84.2L215.8 83.2L216.5 82.4L217.2 82.9L217.9 83.5L218.6 83.4L219.3 83.1L220 83.1L220.7 83.4L221.4 83.5L222.1 83L222.8 82.6L223.5 83.1L224.2 83.7L224.9 83.5L225.6 82.9L226.3 82.9L227 83.5L227.7 83.8L228.4 83.3L229.1 82.8L229.8 83L230.5 83.2L231.2 83.3L231.9 83.6L232.6 83.7L233.3 83.8L234 83.9L234.7 83.5L235.4 82.7L236.1 83L236.8 83.7L237.5 83.9L238.2 83.7L238.9 83.6L239.6 83L240.3 82.4L241 82.5L241.7 82.6L242.4 82.7L243.1 83L243.8 83.1L244.5 83.2L245.2 83.3L245.9 83.2L246.6 83L247.3 83L248 83L248.7 83L249.4 83L250.1 83L250.8 83.1L251.5 83.1L252.2 83.3L252.9 83.7L253.6 83.6L254.3 83.1L255 82.9L255.7 83.3L256.4 83.6L257.1 83.4L257.8 83.1L258.5 83.3L259.2 83.9L259.9 84L260.6 83.9L261.3 83.7L262 83.2L262.7 82.5L263.4 82.9L264.1 83.6L264.8 83.7L265.5 83.7L266.2 83.6L266.9 82.7L267.6 81.9L268.3 81.9L269 81.9L269.7 82L270.4 81.9L271.1 82L271.8 82.4L272.5 82.6L273.2 83.2L273.9 83.8L274.6 83.9L275.3 84L276 84.4L276.7 84.8L277.4 84.9L278.1 85L278.8 85L279.5 84.8L280.2 84.6L280.9 84.3L281.6 83.8L282.3 83.6L283 83.8L283.7 83.9L284.4 83.7L285.1 83.5L285.8 83.2L286.5 82.6L287.2 82.7L287.9 83.8L288.6 84L289.3 83.9L290 83.8L290.7 83L291.4 81.8L292.1 82.1L292.8 83.4L293.5 83.5L294.2 83.2L294.9 83L295.6 82.7L296.3 82.5L297 82.7L297.7 83.2L298.4 83.2L299.1 83L299.8 83L300.5 83.2L301.2 83.4L301.9 82.8L302.6 81.8L303.3 82.1L304 83L304.7 83L305.4 82.3L306.1 81.8L306.8 82.1L307.5 82.5L308.2 82.4L308.9 82.3L309.6 82.5L310.3 83.1L311 83.2L311.7 82.1L312.4 81.1L313.1 82.2L313.8 83.4L314.5 83.1L315.2 81.7L315.9 81.7L316.6 83.1L317.3 83.7L318 83.4L318.7 83.1L319.4 83.1L320.1 83.2L320.8 83.2L321.5 83.1L322.2 83.1L322.9 83.6L323.6 84L324.3 83.5L325 82.8L325.7 83.1L326.4 83.9L327.1 84.2L327.8 84.3L328.5 84.4L329.2 84L329.9 83.5L330.6 83.5L331.3 83.6L332 83.6L332.7 83.7L333.4 83.7L334.1 83.3L334.8 83L335.5 83.1L336.2 83.1L336.9 83.4L337.6 84L338.3 84.1L339 83.4L339.6 86.7Z" fill="#e8622f"/><line x1="200.4" y1="87" x2="339.6" y2="87" stroke="#ee9272" stroke-width="0.6"/><path d="M200.4 93.8L200.4 92.9L201.1 92.8L201.8 92.6L202.5 92.6L203.2 92.5L203.9 92.5L204.6 92.8L205.3 92.8L206 92.6L206.7 92.3L207.4 92.3L208.1 92.4L208.8 92.4L209.5 92.3L210.2 92.3L210.9 92.2L211.6 92.2L212.3 92.1L213 91.8L213.7 91.6L214.4 91.8L215.1 91.6L215.8 91.4L216.5 91.2L217.2 91.1L217.9 91L218.6 90.9L219.3 90.5L220 90.5L220.7 90.6L221.4 90.7L222.1 90.3L222.8 90L223.5 90.5L224.2 91L224.9 91.1L225.6 91.1L226.3 91.1L227 90.7L227.7 90.4L228.4 90.2L229.1 89.9L229.8 90.2L230.5 90.6L231.2 90.8L231.9 91.2L232.6 91.3L233.3 90.4L234 89.6L234.7 90L235.4 90.4L236.1 90.2L236.8 89.8L237.5 89.7L238.2 89.9L238.9 90L239.6 89.8L240.3 89.6L241 89.7L241.7 89.9L242.4 89.9L243.1 90L243.8 90.1L244.5 89.9L245.2 89.9L245.9 90L246.6 90.3L247.3 90.2L248 89.8L248.7 89.7L249.4 89.8L250.1 89.8L250.8 90.6L251.5 91.3L252.2 91.1L252.9 90.8L253.6 90.5L254.3 89.9L255 89.7L255.7 90L256.4 90.2L257.1 90.3L257.8 90.3L258.5 90.4L259.2 90.7L259.9 90.8L260.6 91.1L261.3 91.2L262 90.9L262.7 90.6L263.4 90.8L264.1 91.2L264.8 91.2L265.5 91L266.2 90.9L266.9 90.6L267.6 90.3L268.3 90.2L269 90.2L269.7 90L270.4 89.7L271.1 89.5L271.8 89.5L272.5 89.5L273.2 89.2L273.9 88.8L274.6 89.4L275.3 90.1L276 90.5L276.7 90.7L277.4 90.7L278.1 91L278.8 91.2L279.5 90.7L280.2 89.8L280.9 89.1L281.6 88.2L282.3 88.1L283 88.5L283.7 88.8L284.4 88.8L285.1 88.8L285.8 88.8L286.5 88.7L287.2 89.2L287.9 90.5L288.6 91L289.3 90.7L290 90.6L290.7 90.4L291.4 90.1L292.1 90.4L292.8 91.2L293.5 91.3L294.2 91.2L294.9 91.2L295.6 91.5L296.3 91.7L297 91.8L297.7 91.8L298.4 91.7L299.1 90.8L299.8 90.4L300.5 90.5L301.2 90.6L301.9 90.4L302.6 90.3L303.3 90.1L304 89.9L304.7 89.8L305.4 90.1L306.1 90.3L306.8 89.8L307.5 89.4L308.2 89.4L308.9 89.4L309.6 89.5L310.3 89.9L311 90L311.7 90L312.4 90L313.1 90.2L313.8 90.6L314.5 90.5L315.2 90.1L315.9 90L316.6 89.3L317.3 89L318 90L318.7 90.9L319.4 90.3L320.1 88.9L320.8 89L321.5 90.2L322.2 90.5L322.9 90.2L323.6 89.9L324.3 90.1L325 90.3L325.7 90.5L326.4 90.8L327.1 90.8L327.8 90.1L328.5 89.6L329.2 90.2L329.9 90.6L330.6 90.5L331.3 90.2L332 89.9L332.7 89.3L333.4 89L334.1 89.6L334.8 89.9L335.5 90L336.2 90.1L336.9 90.2L337.6 90.5L338.3 90.6L339 90.7L339.6 93.8Z" fill="#e8622f"/><line x1="200.4" y1="94.1" x2="339.6" y2="94.1" stroke="#ee9272" stroke-width="0.6"/><path d="M200.4 100.9L200.4 100.5L201.1 100.6L201.8 100.6L202.5 100.7L203.2 100.7L203.9 100.7L204.6 100.7L205.3 100.7L206 100.6L206.7 100.6L207.4 100.5L208.1 100.3L208.8 100.2L209.5 100.4L210.2 100.4L210.9 100.3L211.6 100.2L212.3 100.3L213 100.3L213.7 100.4L214.4 100.4L215.1 100.4L215.8 99.9L216.5 99.5L217.2 99.7L217.9 99.9L218.6 99.9L219.3 99.9L220 100L220.7 100L221.4 100.1L222.1 100.4L222.8 100.5L223.5 100.3L224.2 100L224.9 100L225.6 100L226.3 100.1L227 100.4L227.7 100.5L228.4 100.3L229.1 100.1L229.8 100.1L230.5 100.1L231.2 100.2L231.9 100.5L232.6 100.5L233.3 100.3L234 100.1L234.7 100.4L235.4 100.6L236.1 100.6L236.8 100.4L237.5 100.3L238.2 100.2L238.9 100.2L239.6 100.5L240.3 100.6L241 100.6L241.7 100.6L242.4 100.6L243.1 100.7L243.8 100.7L244.5 100.6L245.2 100.6L245.9 100.7L246.6 100.7L247.3 100.7L248 100.6L248.7 100.6L249.4 100.7L250.1 100.7L250.8 100.7L251.5 100.7L252.2 100.6L252.9 100.5L253.6 100.5L254.3 100.5L255 100.6L255.7 100.5L256.4 100.5L257.1 100.4L257.8 100.4L258.5 100.3L259.2 100.2L259.9 100.1L260.6 99.8L261.3 99.6L262 99.6L262.7 99.6L263.4 99.6L264.1 99.6L264.8 99.6L265.5 99.5L266.2 99.5L266.9 99.9L267.6 100.1L268.3 99.9L269 99.7L269.7 99.9L270.4 100.3L271.1 100.4L271.8 100.4L272.5 100.5L273.2 100.4L273.9 100.3L274.6 100.3L275.3 100.3L276 100.4L276.7 100.5L277.4 100.5L278.1 100.4L278.8 100.2L279.5 100.4L280.2 100.6L280.9 100.6L281.6 100.4L282.3 100.4L283 100.4L283.7 100.5L284.4 100.5L285.1 100.5L285.8 100.5L286.5 100.5L287.2 100.6L287.9 100.7L288.6 100.7L289.3 100.6L290 100.6L290.7 100.5L291.4 100.5L292.1 100.5L292.8 100.4L293.5 100.4L294.2 100.4L294.9 100.4L295.6 100.5L296.3 100.6L297 100.6L297.7 100.6L298.4 100.6L299.1 100.6L299.8 100.6L300.5 100.6L301.2 100.5L301.9 100.5L302.6 100.4L303.3 100.3L304 100.1L304.7 100L305.4 100.3L306.1 100.4L306.8 100.4L307.5 100.3L308.2 100.2L308.9 99.7L309.6 99.6L310.3 99.3L311 99.3L311.7 99.9L312.4 100.1L313.1 99.9L313.8 99.4L314.5 99.6L315.2 100.1L315.9 100.1L316.6 99.7L317.3 99.4L318 99.7L318.7 99.9L319.4 100.1L320.1 100.4L320.8 100.4L321.5 100.4L322.2 100.4L322.9 100.2L323.6 100.1L324.3 100.2L325 100.1L325.7 100.3L326.4 100.6L327.1 100.6L327.8 100.6L328.5 100.5L329.2 100.6L329.9 100.6L330.6 100.5L331.3 100.3L332 100.2L332.7 100.2L333.4 100.2L334.1 100.4L334.8 100.5L335.5 100.4L336.2 100.3L336.9 100.4L337.6 100.5L338.3 100.6L339 100.4L339.6 100.9Z" fill="#e8622f"/><line x1="200.4" y1="101.2" x2="339.6" y2="101.2" stroke="#ee9272" stroke-width="0.6"/><path d="M200.4 108L200.4 107.6L201.1 107.6L201.8 107.5L202.5 107.4L203.2 107.3L203.9 107.3L204.6 107.5L205.3 107.6L206 107.5L206.7 107.4L207.4 107.3L208.1 107.3L208.8 107.3L209.5 107.2L210.2 107.1L210.9 107.2L211.6 107.2L212.3 107.4L213 107.6L213.7 107.5L214.4 107.1L215.1 107L215.8 107.4L216.5 107.5L217.2 107.4L217.9 107.2L218.6 107.3L219.3 107.5L220 107.5L220.7 107.2L221.4 107.1L222.1 107.1L222.8 107.1L223.5 107.2L224.2 107.2L224.9 107.3L225.6 107.3L226.3 107.4L227 107.3L227.7 107.3L228.4 107.4L229.1 107.5L229.8 107.5L230.5 107.4L231.2 107.4L231.9 107.6L232.6 107.7L233.3 107.7L234 107.7L234.7 107.7L235.4 107.7L236.1 107.7L236.8 107.7L237.5 107.7L238.2 107.6L238.9 107.6L239.6 107.6L240.3 107.6L241 107.7L241.7 107.8L242.4 107.8L243.1 107.7L243.8 107.7L244.5 107.6L245.2 107.6L245.9 107.7L246.6 107.8L247.3 107.8L248 107.7L248.7 107.7L249.4 107.8L250.1 107.8L250.8 107.8L251.5 107.8L252.2 107.8L252.9 107.8L253.6 107.8L254.3 107.8L255 107.8L255.7 107.8L256.4 107.9L257.1 107.8L257.8 107.8L258.5 107.8L259.2 107.7L259.9 107.7L260.6 107.8L261.3 107.8L262 107.8L262.7 107.8L263.4 107.8L264.1 107.7L264.8 107.7L265.5 107.8L266.2 107.8L266.9 107.8L267.6 107.8L268.3 107.8L269 107.8L269.7 107.8L270.4 107.9L271.1 107.8L271.8 107.7L272.5 107.6L273.2 107.7L273.9 107.7L274.6 107.7L275.3 107.6L276 107.6L276.7 107.6L277.4 107.6L278.1 107.7L278.8 107.7L279.5 107.7L280.2 107.6L280.9 107.7L281.6 107.8L282.3 107.8L283 107.7L283.7 107.7L284.4 107.7L285.1 107.6L285.8 107.7L286.5 107.8L287.2 107.8L287.9 107.7L288.6 107.6L289.3 107.6L290 107.5L290.7 107.7L291.4 107.8L292.1 107.8L292.8 107.8L293.5 107.8L294.2 107.8L294.9 107.8L295.6 107.8L296.3 107.8L297 107.8L297.7 107.8L298.4 107.7L299.1 107.6L299.8 107.6L300.5 107.7L301.2 107.8L301.9 107.8L302.6 107.7L303.3 107.7L304 107.6L304.7 107.5L305.4 107.4L306.1 107.4L306.8 107.6L307.5 107.7L308.2 107.6L308.9 107.3L309.6 107.2L310.3 107.3L311 107.3L311.7 107.4L312.4 107.5L313.1 107.5L313.8 107.4L314.5 107.5L315.2 107.6L315.9 107.7L316.6 107.6L317.3 107.6L318 107.7L318.7 107.7L319.4 107.7L320.1 107.5L320.8 107.5L321.5 107.6L322.2 107.7L322.9 107.8L323.6 107.8L324.3 107.8L325 107.8L325.7 107.8L326.4 107.7L327.1 107.7L327.8 107.8L328.5 107.8L329.2 107.7L329.9 107.7L330.6 107.7L331.3 107.7L332 107.7L332.7 107.6L333.4 107.6L334.1 107.7L334.8 107.7L335.5 107.7L336.2 107.7L336.9 107.6L337.6 107.2L338.3 107L339 107.1L339.6 108Z" fill="#e8622f"/><line x1="200.4" y1="108.3" x2="339.6" y2="108.3" stroke="#ee9272" stroke-width="0.6"/><path d="M200.4 115.1L200.4 114.7L201.1 114.7L201.8 114.8L202.5 114.8L203.2 114.9L203.9 114.9L204.6 114.8L205.3 114.8L206 114.8L206.7 114.8L207.4 114.8L208.1 114.8L208.8 114.7L209.5 114.6L210.2 114.6L210.9 114.5L211.6 114.4L212.3 114.5L213 114.7L213.7 114.6L214.4 114.4L215.1 114.4L215.8 114.6L216.5 114.7L217.2 114.6L217.9 114.5L218.6 114.5L219.3 114.4L220 114.4L220.7 114.5L221.4 114.5L222.1 114.7L222.8 114.8L223.5 114.7L224.2 114.6L224.9 114.6L225.6 114.7L226.3 114.8L227 114.7L227.7 114.7L228.4 114.7L229.1 114.7L229.8 114.8L230.5 114.9L231.2 114.9L231.9 114.9L232.6 114.9L233.3 114.9L234 114.9L234.7 114.9L235.4 114.7L236.1 114.8L236.8 114.9L237.5 114.9L238.2 114.9L238.9 114.9L239.6 114.9L240.3 114.9L241 114.9L241.7 114.9L242.4 114.9L243.1 114.9L243.8 114.9L244.5 114.8L245.2 114.7L245.9 114.8L246.6 114.9L247.3 114.8L248 114.7L248.7 114.7L249.4 114.8L250.1 114.8L250.8 114.8L251.5 114.7L252.2 114.7L252.9 114.7L253.6 114.7L254.3 114.8L255 114.9L255.7 114.8L256.4 114.8L257.1 114.8L257.8 114.8L258.5 114.8L259.2 114.9L259.9 114.9L260.6 114.9L261.3 114.9L262 114.9L262.7 114.7L263.4 114.8L264.1 114.9L264.8 114.9L265.5 114.9L266.2 114.9L266.9 114.9L267.6 114.9L268.3 114.9L269 114.7L269.7 114.7L270.4 114.8L271.1 114.8L271.8 114.8L272.5 114.8L273.2 114.8L273.9 114.8L274.6 114.7L275.3 114.6L276 114.6L276.7 114.8L277.4 114.9L278.1 114.7L278.8 114.6L279.5 114.7L280.2 114.8L280.9 114.8L281.6 114.8L282.3 114.8L283 114.7L283.7 114.7L284.4 114.8L285.1 114.8L285.8 114.8L286.5 114.8L287.2 114.8L287.9 114.8L288.6 114.8L289.3 114.9L290 114.9L290.7 114.9L291.4 114.9L292.1 114.9L292.8 114.9L293.5 114.9L294.2 114.8L294.9 114.8L295.6 114.8L296.3 114.8L297 114.8L297.7 114.9L298.4 114.9L299.1 114.9L299.8 114.9L300.5 114.8L301.2 114.8L301.9 114.8L302.6 114.8L303.3 114.8L304 114.9L304.7 114.9L305.4 114.8L306.1 114.8L306.8 114.7L307.5 114.7L308.2 114.8L308.9 114.9L309.6 114.9L310.3 114.8L311 114.8L311.7 114.8L312.4 114.9L313.1 114.9L313.8 114.9L314.5 114.9L315.2 114.9L315.9 114.9L316.6 114.9L317.3 114.8L318 114.7L318.7 114.7L319.4 114.7L320.1 114.8L320.8 114.7L321.5 114.6L322.2 114.6L322.9 114.7L323.6 114.8L324.3 114.6L325 114.3L325.7 114.3L326.4 114.3L327.1 114.3L327.8 114.4L328.5 114.5L329.2 114.6L329.9 114.7L330.6 114.7L331.3 114.8L332 114.8L332.7 114.7L333.4 114.7L334.1 114.7L334.8 114.8L335.5 114.8L336.2 114.9L336.9 114.9L337.6 114.8L338.3 114.8L339 114.7L339.6 115.1Z" fill="#e8622f"/><line x1="200.4" y1="115.4" x2="339.6" y2="115.4" stroke="#ee9272" stroke-width="0.6"/><line x1="201.9" y1="120" x2="234.7" y2="120" stroke="#8a8f8f" stroke-width="0.7"/><line x1="304.5" y1="120" x2="338.1" y2="120" stroke="#8a8f8f" stroke-width="0.7"/><path d="M200.9 120l2.2 -1.1v2.2z" fill="#333"/><path d="M339.1 120l-2.2 -1.1v2.2z" fill="#333"/><text x="269.6" y="121.6" font-size="4.15" text-anchor="middle" fill="#111" stroke="#111" stroke-width="0.14">chr10:102,493,521-102,514,109</text><text x="431.7" y="8.7" font-size="6.4" text-anchor="middle" font-weight="bold" font-style="italic" stroke="#000" stroke-width="0.08">GSX1</text><rect x="425.4" y="13.82" width="24.6" height="1.35" fill="#1c1c9c"/><rect x="426.4" y="12.7" width="6.1" height="3.6" fill="#1c1c9c"/><rect x="436.5" y="12.7" width="5.1" height="3.6" fill="#1c1c9c"/><path d="M424.3 14.5l2.6 -1.9v3.8z" fill="#1c1c9c"/><rect x="394.7" y="23.5" width="5.5" height="2.6" fill="#1c1c9c"/><rect x="414.3" y="23.5" width="2" height="2.6" fill="#1c1c9c"/><rect x="424.8" y="23.5" width="20.8" height="2.6" fill="#1c1c9c"/><rect x="478.3" y="23.5" width="2.1" height="2.6" fill="#1c1c9c"/><text x="360.8" y="32" font-size="2.8" fill="#666" stroke="#666" stroke-width="0.14">[0-100]</text><text x="360.8" y="76.8" font-size="2.8" fill="#666" stroke="#666" stroke-width="0.14">[0-2.00]</text><line x1="360.8" y1="37.5" x2="501" y2="37.5" stroke="#b03c50" stroke-width="1"/><path d="M368.3 38v-3.5M376.7 38v-4.8M383.1 38v-3.9M384.9 38v-2.5M386.5 38v-2.4M388.2 38v-2.1M396.1 38v-2.2M397.8 38v-2.3M399.5 38v-2.2M402.8 38v-2.3M404.2 38v-2.6M407.6 38v-1.9M414.5 38v-5.5M416.5 38v-3.9M418.2 38v-3.9M419.6 38v-5.4M425.2 38v-2.1M429 38v-3.2M431 38v-3.4M434.3 38v-2.2M440.9 38v-2.6M444.4 38v-1.8M447.7 38v-2.3M458.6 38v-2.4M460.2 38v-2.2M461.7 38v-2.5M466.4 38v-4.5M467.9 38v-1.7M469.5 38v-1.5M481.5 38v-6.2M482.9 38v-5.5M484.6 38v-4.3M488.1 38v-5M489.7 38v-5.6M491.6 38v-5M493.1 38v-5.5M498.1 38v-1.6M377.3 38v-4.8M483.5 38v-4.8M486.5 38v-5.1M489.5 38v-5M492.5 38v-5.3" stroke="#740f2a" stroke-width="0.85" fill="none"/><line x1="360.8" y1="44.5" x2="501" y2="44.5" stroke="#b03c50" stroke-width="1"/><path d="M376.7 45v-4.9M381.5 45v-1.7M383.1 45v-3.4M384.9 45v-2.4M386.5 45v-2.1M388.2 45v-2.1M396.1 45v-2.7M397.8 45v-2.4M399.5 45v-2.2M414.5 45v-5.2M416.5 45v-4.4M418.2 45v-5.1M419.6 45v-5.4M425.2 45v-2.7M429 45v-3.9M431 45v-4.1M439 45v-2.4M440.9 45v-2.8M444.4 45v-1.6M458.6 45v-1.8M460.2 45v-2.3M463.2 45v-2.5M466.4 45v-4.3M481.5 45v-5.7M482.9 45v-5M484.6 45v-5.4M486.6 45v-4.9M489.7 45v-4.8M491.6 45v-5.8M493.1 45v-5.9M498.1 45v-1.4M377.3 45v-5.1M483.5 45v-4.6M486.5 45v-4.9M489.5 45v-5.5M492.5 45v-4.8" stroke="#740f2a" stroke-width="0.85" fill="none"/><line x1="360.8" y1="51.5" x2="501" y2="51.5" stroke="#b03c50" stroke-width="1"/><path d="M368.3 52v-3.3M376.7 52v-6.2M381.5 52v-1.9M383.1 52v-3.8M384.9 52v-2.6M386.5 52v-2.3M388.2 52v-1.8M389.7 52v-2.3M396.1 52v-2.6M404.2 52v-2.2M409.4 52v-1.4M414.5 52v-4.5M416.5 52v-4.3M418.2 52v-3.4M419.6 52v-5.5M421.4 52v-2.5M425.2 52v-2.2M429 52v-3.6M431 52v-4M432.5 52v-2.4M439 52v-2.4M440.9 52v-2.8M461.7 52v-2.1M466.4 52v-3.8M467.9 52v-2M477.5 52v-1.7M481.5 52v-5.5M482.9 52v-6.2M484.6 52v-5.1M486.6 52v-5.8M488.1 52v-5.3M489.7 52v-5.8M491.6 52v-5.3M496.6 52v-2M377.3 52v-5M483.5 52v-5.2M486.5 52v-5.2M489.5 52v-4.9M492.5 52v-5.4" stroke="#740f2a" stroke-width="0.85" fill="none"/><line x1="360.8" y1="58.5" x2="501" y2="58.5" stroke="#b03c50" stroke-width="1"/><path d="M368.3 59v-5.3M375.3 59v-5.7M376.7 59v-5.9M378.3 59v-5.7M381.5 59v-3.4M383.1 59v-3M384.9 59v-2.7M389.7 59v-3.7M391.6 59v-4.6M393.1 59v-4.2M394.6 59v-4.4M396.1 59v-3.5M397.8 59v-3.8M399.5 59v-3.7M400.9 59v-4.3M402.8 59v-4.4M404.2 59v-4.2M407.6 59v-2.8M409.4 59v-2.8M414.5 59v-5.4M416.5 59v-5M418.2 59v-5.1M419.6 59v-5.7M421.4 59v-4.7M425.2 59v-3.6M429 59v-3.8M431 59v-4.7M432.5 59v-4.4M434.3 59v-3.4M439 59v-4.9M440.9 59v-3.9M444.4 59v-3.9M447.7 59v-2.3M455.1 59v-2.7M458.6 59v-3.5M460.2 59v-2.9M461.7 59v-3.3M463.2 59v-4M467.9 59v-3.4M469.5 59v-3.1M472.4 59v-3.7M475.5 59v-3.5M477.5 59v-3.4M481.5 59v-6.2M482.9 59v-5.3M484.6 59v-5.9M486.6 59v-5.1M488.1 59v-6.2M489.7 59v-5.4M491.6 59v-5.2M493.1 59v-5.1M496.6 59v-2.7M498.1 59v-1.7M377.3 59v-5M483.5 59v-4.7M486.5 59v-4.9M489.5 59v-5.1M492.5 59v-4.8" stroke="#740f2a" stroke-width="0.85" fill="none"/><line x1="360.8" y1="65.5" x2="501" y2="65.5" stroke="#b03c50" stroke-width="1"/><path d="M368.3 66v-4.8M375.3 66v-5.1M378.3 66v-5.1M381.5 66v-3.3M383.1 66v-3.6M384.9 66v-2.9M386.5 66v-2.9M388.2 66v-2.9M389.7 66v-3.9M391.6 66v-3.8M393.1 66v-3.7M394.6 66v-2.9M396.1 66v-3.3M397.8 66v-3.3M399.5 66v-3.8M400.9 66v-4.1M402.8 66v-3.8M404.2 66v-3.8M407.6 66v-3.2M409.4 66v-2.7M414.5 66v-5.5M416.5 66v-4.4M418.2 66v-4.5M419.6 66v-4.8M421.4 66v-3.8M425.2 66v-4.9M429 66v-4.5M431 66v-4.8M432.5 66v-4.1M434.3 66v-4.1M439 66v-4.6M440.9 66v-4.1M444.4 66v-4M447.7 66v-3M455.1 66v-2.2M458.6 66v-3.8M460.2 66v-2.7M461.7 66v-3.7M463.2 66v-3.9M467.9 66v-3.4M469.5 66v-3.6M472.4 66v-3M475.5 66v-2.8M477.5 66v-2.4M481.5 66v-5.1M482.9 66v-6M484.6 66v-4.7M486.6 66v-6M488.1 66v-5.8M489.7 66v-4.1M491.6 66v-5.9M493.1 66v-5.9M496.6 66v-2.1M498.1 66v-2M377.3 66v-5M483.5 66v-4.6M486.5 66v-5M489.5 66v-4.8M492.5 66v-5.3" stroke="#740f2a" stroke-width="0.85" fill="none"/><line x1="360.8" y1="72.5" x2="501" y2="72.5" stroke="#b03c50" stroke-width="1"/><path d="M368.3 73v-6M375.3 73v-5.7M376.7 73v-5M378.3 73v-6.2M381.5 73v-3.1M384.9 73v-2.9M386.5 73v-3M388.2 73v-2.3M389.7 73v-3.3M391.6 73v-4.1M393.1 73v-4.3M394.6 73v-3.9M396.1 73v-3.9M397.8 73v-3.9M399.5 73v-4M400.9 73v-3.5M402.8 73v-4.6M404.2 73v-4.5M407.6 73v-2.8M409.4 73v-3M414.5 73v-5.3M416.5 73v-4.9M418.2 73v-5.4M419.6 73v-4.6M421.4 73v-4.6M425.2 73v-4.9M429 73v-3.6M431 73v-4.7M432.5 73v-3.9M434.3 73v-4M439 73v-3.8M440.9 73v-4.2M444.4 73v-3.6M447.7 73v-3.1M455.1 73v-2.3M458.6 73v-3.5M460.2 73v-3.5M461.7 73v-3.6M463.2 73v-3M467.9 73v-2.7M469.5 73v-3.2M472.4 73v-3.8M475.5 73v-2.1M477.5 73v-2.8M481.5 73v-6M482.9 73v-4.8M484.6 73v-5.2M486.6 73v-6.1M488.1 73v-6.2M489.7 73v-4.5M491.6 73v-5.4M493.1 73v-5.2M496.6 73v-2.8M498.1 73v-1.1M377.3 73v-5.2M483.5 73v-4.9M486.5 73v-4.6M489.5 73v-5.6M492.5 73v-5.2" stroke="#740f2a" stroke-width="0.85" fill="none"/><path d="M360.8 79.6L360.8 78.9L361.5 78.9L362.2 78.9L362.9 78.9L363.6 78.9L364.3 78.8L365 78.8L365.7 78.8L366.4 78.8L367.1 78.8L367.8 78.8L368.5 78.7L369.2 78.5L369.9 78.2L370.6 77.8L371.3 77.2L372 76.8L372.7 76.5L373.4 76.2L374.1 75.9L374.8 76.3L375.5 76.7L376.2 76.9L376.9 76.9L377.6 76.9L378.3 76.8L379 76.7L379.7 76.5L380.4 76.3L381.1 76.1L381.8 75.6L382.5 75.2L383.2 75.2L383.9 75.7L384.6 76.2L385.3 76.3L386 76.5L386.7 76.7L387.4 76.8L388.1 76.8L388.8 76.7L389.5 76.7L390.2 76.8L390.9 76.9L391.6 76.9L392.3 77L393 77L393.7 77L394.4 77.3L395.1 77.6L395.8 77.9L396.5 78.1L397.2 78.2L397.9 78.4L398.6 78.5L399.3 78.3L400 77.7L400.7 77.2L401.4 76.8L402.1 76.6L402.8 76.2L403.5 76.2L404.2 76.5L404.9 76.6L405.6 76.5L406.3 76.2L407 76L407.7 76.2L408.4 76.5L409.1 76.7L409.8 76.4L410.5 75.5L411.2 74.8L411.9 74.9L412.6 75.7L413.3 76.3L414 76.3L414.7 75.6L415.4 74.9L416.1 74.9L416.8 75.6L417.5 76.4L418.2 76.6L418.9 76.7L419.6 76.7L420.3 76.7L421 76.7L421.7 76.7L422.4 76.7L423.1 76.8L423.8 76.8L424.5 77L425.2 77.3L425.9 77.6L426.6 77.9L427.3 78.1L428 78.4L428.7 78.1L429.4 77.8L430.1 77.5L430.8 77.2L431.5 76.9L432.2 76.9L432.9 77.1L433.6 77.1L434.3 76.8L435 76.4L435.7 76.2L436.4 76.1L437.1 76.1L437.8 76L438.5 76.3L439.2 76.8L439.9 77L440.6 77.1L441.3 77.3L442 77.4L442.7 77.6L443.4 77.9L444.1 78.2L444.8 78.4L445.5 78.6L446.2 78.6L446.9 78.4L447.6 78.1L448.3 77.7L449 77.3L449.7 77L450.4 76.7L451.1 76.6L451.8 76.3L452.5 75.9L453.2 75.6L453.9 75.5L454.6 75.5L455.3 75.4L456 75.6L456.7 76.1L457.4 76.5L458.1 76.5L458.8 76.3L459.5 76.2L460.2 76.2L460.9 76.3L461.6 76.3L462.3 76.4L463 76.7L463.7 76.9L464.4 77.1L465.1 77.2L465.8 77.4L466.5 77.5L467.2 77.4L467.9 77.2L468.6 77.2L469.3 77.2L470 77L470.7 76.8L471.4 76.7L472.1 76.6L472.8 76.6L473.5 76.7L474.2 77.3L474.9 77.7L475.6 77.7L476.3 77.6L477 77.4L477.7 77.3L478.4 77.3L479.1 77.2L479.8 77.2L480.5 77L481.2 76.6L481.9 76.5L482.6 77L483.3 77.5L484 77.8L484.7 77.7L485.4 77.6L486.1 77.5L486.8 77.4L487.5 77.2L488.2 77L488.9 77L489.6 77.1L490.3 77.1L491 77.1L491.7 77.5L492.4 77.8L493.1 77.8L493.8 77.6L494.5 77.3L495.2 77.1L495.9 77.1L496.6 77L497.3 76.9L498 77.2L498.7 77.6L499.4 77.7L500.1 77.5L500.8 77.1L501 79.6Z" fill="#e8622f"/><line x1="360.8" y1="79.9" x2="501" y2="79.9" stroke="#ee9272" stroke-width="0.6"/><path d="M360.8 86.7L360.8 86L361.5 86L362.2 86L362.9 86L363.6 86L364.3 86.1L365 86.2L365.7 86.2L366.4 86.1L367.1 86.1L367.8 86.1L368.5 85.9L369.2 85.7L369.9 85.5L370.6 85.1L371.3 84.7L372 84.3L372.7 84L373.4 83.6L374.1 83.3L374.8 83.7L375.5 84.2L376.2 84.4L376.9 84.2L377.6 83.6L378.3 83.3L379 83.6L379.7 84.1L380.4 84.5L381.1 84.5L381.8 84.4L382.5 84.2L383.2 84.1L383.9 83.8L384.6 83.3L385.3 83.2L386 83.6L386.7 84L387.4 84L388.1 83.6L388.8 83L389.5 82.7L390.2 83.2L390.9 83.9L391.6 84.2L392.3 84.1L393 84L393.7 83.9L394.4 83.9L395.1 83.8L395.8 83.8L396.5 84.2L397.2 84.6L397.9 85L398.6 85.4L399.3 85.6L400 85.5L400.7 85.3L401.4 85L402.1 84.6L402.8 84.3L403.5 84.1L404.2 83.9L404.9 83.9L405.6 84.1L406.3 84.4L407 84.5L407.7 84.2L408.4 83.3L409.1 82.6L409.8 82.9L410.5 83.6L411.2 84.1L411.9 83.8L412.6 82.9L413.3 82L414 81.8L414.7 82L415.4 82.2L416.1 82.3L416.8 82.4L417.5 82.4L418.2 82.5L418.9 82.8L419.6 83.1L420.3 83.2L421 83.3L421.7 83.4L422.4 83.5L423.1 83.4L423.8 83.2L424.5 83.3L425.2 83.5L425.9 83.4L426.6 83.6L427.3 84.2L428 85.1L428.7 85.1L429.4 84.8L430.1 84.3L430.8 83.7L431.5 83.3L432.2 83L432.9 82.9L433.6 82.9L434.3 82.6L435 82.2L435.7 82.1L436.4 82.3L437.1 82.7L437.8 82.8L438.5 82.7L439.2 82.4L439.9 82.3L440.6 82.4L441.3 82.6L442 82.8L442.7 83.2L443.4 83.8L444.1 84.2L444.8 84.5L445.5 84.5L446.2 84.4L446.9 83.8L447.6 83.9L448.3 84.2L449 84L449.7 83.2L450.4 82.3L451.1 82L451.8 82.6L452.5 83.5L453.2 83.8L453.9 83.9L454.6 83.9L455.3 84L456 84L456.7 84.1L457.4 84.2L458.1 84.2L458.8 83.9L459.5 83.6L460.2 83.5L460.9 83.2L461.6 82.8L462.3 82.7L463 82.8L463.7 82.8L464.4 82.8L465.1 83L465.8 83.2L466.5 83.3L467.2 83.5L467.9 83.8L468.6 84L469.3 84.1L470 84.3L470.7 84.2L471.4 84.1L472.1 84L472.8 83.9L473.5 83.9L474.2 84L474.9 84.1L475.6 84.1L476.3 83.9L477 83.8L477.7 83.8L478.4 83.8L479.1 83.8L479.8 83.9L480.5 84.3L481.2 84.7L481.9 84.9L482.6 84.6L483.3 84L484 83.6L484.7 83.9L485.4 84.5L486.1 84.8L486.8 84.6L487.5 84L488.2 83.5L488.9 83.6L489.6 84.1L490.3 84.5L491 84.5L491.7 84.4L492.4 84.4L493.1 84.3L493.8 83.7L494.5 82.7L495.2 82.4L495.9 83.1L496.6 83.7L497.3 84.1L498 84.1L498.7 84.2L499.4 84.2L500.1 84.2L500.8 84L501 86.7Z" fill="#e8622f"/><line x1="360.8" y1="87" x2="501" y2="87" stroke="#ee9272" stroke-width="0.6"/><path d="M360.8 93.8L360.8 93.3L361.5 93.3L362.2 93.1L362.9 93.1L363.6 93L364.3 93L365 93L365.7 92.9L366.4 92.9L367.1 92.8L367.8 92.8L368.5 92.6L369.2 92.5L369.9 92.2L370.6 91.5L371.3 90.7L372 90.1L372.7 90L373.4 90.1L374.1 90L374.8 90.1L375.5 90.3L376.2 90.4L376.9 90.6L377.6 90.9L378.3 91L379 91.1L379.7 91.1L380.4 91.1L381.1 91.1L381.8 91L382.5 91L383.2 90.9L383.9 90.5L384.6 90.2L385.3 90.2L386 90.6L386.7 91L387.4 91.1L388.1 91.1L388.8 90.9L389.5 91L390.2 91.3L390.9 91.8L391.6 92L392.3 92L393 91.8L393.7 91.7L394.4 91.8L395.1 91.9L395.8 92L396.5 92.2L397.2 92.5L397.9 92.7L398.6 92.9L399.3 92.8L400 92.5L400.7 92.2L401.4 92.1L402.1 92.1L402.8 91.9L403.5 91.6L404.2 91.4L404.9 91.3L405.6 91.3L406.3 91.3L407 91.2L407.7 91.1L408.4 90.9L409.1 90.8L409.8 90.4L410.5 89.7L411.2 88.9L411.9 88.9L412.6 89.5L413.3 90L414 89.8L414.7 89L415.4 88.2L416.1 88.1L416.8 88.4L417.5 88.9L418.2 89.1L418.9 89.7L419.6 90.3L420.3 90.7L421 90.7L421.7 90.7L422.4 90.8L423.1 90.9L423.8 91L424.5 91.3L425.2 91.6L425.9 91.9L426.6 92.2L427.3 92.4L428 92.5L428.7 91.9L429.4 91.5L430.1 91.3L430.8 91.1L431.5 90.8L432.2 90.5L432.9 90.6L433.6 90.5L434.3 90.4L435 90.3L435.7 90.2L436.4 90.3L437.1 90.5L437.8 90.6L438.5 90.8L439.2 91L439.9 91.1L440.6 91L441.3 90.8L442 90.7L442.7 90.9L443.4 90.9L444.1 91L444.8 91.3L445.5 91.7L446.2 91.8L446.9 91.4L447.6 91.4L448.3 91.6L449 91.4L449.7 90.8L450.4 90L451.1 89.7L451.8 89.6L452.5 89.4L453.2 89.3L453.9 89.3L454.6 89.4L455.3 89.5L456 89.3L456.7 88.8L457.4 88.5L458.1 88.6L458.8 89.4L459.5 90L460.2 90.1L460.9 90.3L461.6 90.4L462.3 90.4L463 90.4L463.7 90.3L464.4 90.3L465.1 90.7L465.8 91.2L466.5 91.4L467.2 91.1L467.9 90.5L468.6 90.2L469.3 90.6L470 91.1L470.7 91.2L471.4 91.1L472.1 90.9L472.8 90.7L473.5 90.6L474.2 90.7L474.9 90.8L475.6 90.8L476.3 90.7L477 90.7L477.7 90.6L478.4 90.8L479.1 90.9L479.8 91L480.5 90.8L481.2 90.5L481.9 90.4L482.6 90.4L483.3 90.4L484 90.4L484.7 90.3L485.4 90.2L486.1 90.2L486.8 90.3L487.5 90.7L488.2 90.9L488.9 90.9L489.6 90.9L490.3 90.9L491 90.8L491.7 90.7L492.4 90.5L493.1 90.4L493.8 90L494.5 89.6L495.2 89.5L495.9 90.2L496.6 90.9L497.3 91.2L498 91.4L498.7 91.7L499.4 91.9L500.1 91.9L500.8 91.7L501 93.8Z" fill="#e8622f"/><line x1="360.8" y1="94.1" x2="501" y2="94.1" stroke="#ee9272" stroke-width="0.6"/><path d="M360.8 100.9L360.8 100.5L361.5 100.6L362.2 100.7L362.9 100.7L363.6 100.7L364.3 100.6L365 100.5L365.7 100.5L366.4 100.5L367.1 100.5L367.8 100.5L368.5 100.6L369.2 100.6L369.9 100.6L370.6 100.6L371.3 100.6L372 100.6L372.7 100.6L373.4 100.7L374.1 100.7L374.8 100.6L375.5 100.6L376.2 100.5L376.9 100.4L377.6 100.3L378.3 100.2L379 100.3L379.7 100.4L380.4 100.4L381.1 100.4L381.8 100.4L382.5 100.4L383.2 100.4L383.9 100.4L384.6 100.4L385.3 100.4L386 100.2L386.7 100L387.4 99.9L388.1 100.1L388.8 100.4L389.5 100.4L390.2 100.4L390.9 100.3L391.6 100.3L392.3 100.4L393 100.4L393.7 100.4L394.4 100.4L395.1 100.4L395.8 100.3L396.5 100.3L397.2 100.2L397.9 100.2L398.6 100.2L399.3 100.2L400 100.2L400.7 100.3L401.4 100.4L402.1 100.5L402.8 100.5L403.5 100.5L404.2 100.4L404.9 100.3L405.6 100.4L406.3 100.6L407 100.6L407.7 100.6L408.4 100.4L409.1 100.3L409.8 100.3L410.5 100.4L411.2 100.4L411.9 100.4L412.6 100.4L413.3 100.4L414 100.3L414.7 100.3L415.4 100.2L416.1 100.2L416.8 100.3L417.5 100.3L418.2 100.3L418.9 100.2L419.6 100L420.3 99.9L421 100.1L421.7 100.2L422.4 100.3L423.1 100.2L423.8 99.9L424.5 99.7L425.2 99.7L425.9 99.7L426.6 99.7L427.3 99.8L428 100.2L428.7 100.3L429.4 100.3L430.1 100.3L430.8 100.2L431.5 100.2L432.2 100.1L432.9 100L433.6 100L434.3 100L435 100L435.7 100L436.4 100L437.1 100.1L437.8 100.1L438.5 100.2L439.2 100.4L439.9 100.4L440.6 100.4L441.3 100.1L442 99.8L442.7 99.9L443.4 100.1L444.1 100.3L444.8 100.3L445.5 100.3L446.2 100.3L446.9 100.3L447.6 100.1L448.3 99.7L449 99.6L449.7 99.7L450.4 100L451.1 100.1L451.8 100.2L452.5 100.4L453.2 100.5L453.9 100.5L454.6 100.6L455.3 100.6L456 100.7L456.7 100.7L457.4 100.6L458.1 100.6L458.8 100.6L459.5 100.6L460.2 100.6L460.9 100.7L461.6 100.7L462.3 100.7L463 100.7L463.7 100.6L464.4 100.6L465.1 100.6L465.8 100.6L466.5 100.6L467.2 100.5L467.9 100.4L468.6 100.3L469.3 100.4L470 100.5L470.7 100.5L471.4 100.6L472.1 100.6L472.8 100.6L473.5 100.6L474.2 100.5L474.9 100.5L475.6 100.5L476.3 100.6L477 100.6L477.7 100.6L478.4 100.6L479.1 100.6L479.8 100.6L480.5 100.6L481.2 100.4L481.9 100.3L482.6 100.3L483.3 100.4L484 100.5L484.7 100.5L485.4 100.6L486.1 100.6L486.8 100.6L487.5 100.6L488.2 100.7L488.9 100.7L489.6 100.7L490.3 100.7L491 100.7L491.7 100.7L492.4 100.6L493.1 100.6L493.8 100.6L494.5 100.6L495.2 100.6L495.9 100.5L496.6 100.4L497.3 100.3L498 100.4L498.7 100.5L499.4 100.5L500.1 100.5L500.8 100.5L501 100.9Z" fill="#e8622f"/><line x1="360.8" y1="101.2" x2="501" y2="101.2" stroke="#ee9272" stroke-width="0.6"/><path d="M360.8 108L360.8 107.5L361.5 107.6L362.2 107.7L362.9 107.7L363.6 107.7L364.3 107.7L365 107.7L365.7 107.7L366.4 107.8L367.1 107.8L367.8 107.8L368.5 107.7L369.2 107.7L369.9 107.7L370.6 107.6L371.3 107.5L372 107.4L372.7 107.5L373.4 107.5L374.1 107.5L374.8 107.6L375.5 107.7L376.2 107.7L376.9 107.7L377.6 107.6L378.3 107.5L379 107.5L379.7 107.5L380.4 107.5L381.1 107.6L381.8 107.7L382.5 107.8L383.2 107.8L383.9 107.7L384.6 107.6L385.3 107.6L386 107.7L386.7 107.7L387.4 107.7L388.1 107.8L388.8 107.8L389.5 107.8L390.2 107.8L390.9 107.8L391.6 107.8L392.3 107.8L393 107.8L393.7 107.7L394.4 107.8L395.1 107.8L395.8 107.8L396.5 107.8L397.2 107.7L397.9 107.6L398.6 107.6L399.3 107.7L400 107.8L400.7 107.8L401.4 107.7L402.1 107.5L402.8 107.5L403.5 107.6L404.2 107.8L404.9 107.8L405.6 107.8L406.3 107.7L407 107.7L407.7 107.7L408.4 107.7L409.1 107.7L409.8 107.6L410.5 107.3L411.2 107.1L411.9 107.1L412.6 107.3L413.3 107.4L414 107.4L414.7 107.1L415.4 106.8L416.1 106.7L416.8 107L417.5 107.3L418.2 107.5L418.9 107.6L419.6 107.6L420.3 107.7L421 107.7L421.7 107.7L422.4 107.7L423.1 107.8L423.8 107.8L424.5 107.8L425.2 107.8L425.9 107.8L426.6 107.8L427.3 107.8L428 107.8L428.7 107.8L429.4 107.8L430.1 107.8L430.8 107.8L431.5 107.8L432.2 107.8L432.9 107.8L433.6 107.7L434.3 107.7L435 107.6L435.7 107.6L436.4 107.5L437.1 107.2L437.8 107.1L438.5 107.2L439.2 107.3L439.9 107.4L440.6 107.4L441.3 107.3L442 107.2L442.7 107.1L443.4 107L444.1 106.8L444.8 106.8L445.5 107L446.2 107.1L446.9 107.1L447.6 107L448.3 106.8L449 106.8L449.7 107.1L450.4 107.4L451.1 107.4L451.8 107.4L452.5 107.2L453.2 107.2L453.9 107.1L454.6 107.1L455.3 107L456 107.2L456.7 107.4L457.4 107.5L458.1 107.6L458.8 107.6L459.5 107.7L460.2 107.6L460.9 107.5L461.6 107.2L462.3 107.2L463 107.3L463.7 107.3L464.4 107.4L465.1 107.5L465.8 107.6L466.5 107.7L467.2 107.7L467.9 107.7L468.6 107.7L469.3 107.7L470 107.7L470.7 107.7L471.4 107.6L472.1 107.6L472.8 107.6L473.5 107.6L474.2 107.6L474.9 107.6L475.6 107.6L476.3 107.4L477 107.1L477.7 107L478.4 107L479.1 107.1L479.8 107.1L480.5 106.9L481.2 106.8L481.9 106.7L482.6 106.8L483.3 107L484 107.1L484.7 107L485.4 106.8L486.1 106.7L486.8 106.8L487.5 107L488.2 107.1L488.9 107.1L489.6 107.2L490.3 107.3L491 107.3L491.7 107.3L492.4 107.3L493.1 107.3L493.8 107.2L494.5 107.1L495.2 107.1L495.9 107.2L496.6 107.3L497.3 107.4L498 107.5L498.7 107.5L499.4 107.6L500.1 107.6L500.8 107.7L501 108Z" fill="#e8622f"/><line x1="360.8" y1="108.3" x2="501" y2="108.3" stroke="#ee9272" stroke-width="0.6"/><path d="M360.8 115.1L360.8 114.3L361.5 114.4L362.2 114.4L362.9 114.4L363.6 114.5L364.3 114.6L365 114.6L365.7 114.6L366.4 114.4L367.1 114.1L367.8 114L368.5 114L369.2 114L369.9 114L370.6 114.2L371.3 114.4L372 114.4L372.7 114.2L373.4 113.9L374.1 113.8L374.8 114L375.5 114.1L376.2 114.3L376.9 114.4L377.6 114.7L378.3 114.8L379 114.8L379.7 114.8L380.4 114.8L381.1 114.8L381.8 114.9L382.5 114.9L383.2 114.9L383.9 114.9L384.6 114.9L385.3 114.9L386 114.9L386.7 114.9L387.4 114.9L388.1 114.9L388.8 114.8L389.5 114.8L390.2 114.8L390.9 114.9L391.6 114.9L392.3 114.9L393 114.9L393.7 114.9L394.4 114.9L395.1 114.8L395.8 114.8L396.5 114.8L397.2 114.9L397.9 114.9L398.6 115L399.3 115L400 115L400.7 115L401.4 115L402.1 115L402.8 115L403.5 114.9L404.2 114.8L404.9 114.8L405.6 114.9L406.3 114.9L407 114.9L407.7 115L408.4 115L409.1 115L409.8 115L410.5 115L411.2 115L411.9 115L412.6 114.9L413.3 114.9L414 114.9L414.7 114.8L415.4 114.7L416.1 114.7L416.8 114.8L417.5 114.9L418.2 114.9L418.9 114.9L419.6 114.8L420.3 114.7L421 114.8L421.7 114.8L422.4 114.8L423.1 114.8L423.8 114.6L424.5 114.5L425.2 114.6L425.9 114.6L426.6 114.7L427.3 114.7L428 114.8L428.7 114.9L429.4 114.9L430.1 114.9L430.8 114.9L431.5 114.9L432.2 114.9L432.9 114.8L433.6 114.8L434.3 114.9L435 114.9L435.7 114.9L436.4 114.9L437.1 114.9L437.8 114.9L438.5 114.9L439.2 114.8L439.9 114.7L440.6 114.8L441.3 114.9L442 114.9L442.7 114.9L443.4 114.9L444.1 114.8L444.8 114.7L445.5 114.6L446.2 114.5L446.9 114.4L447.6 114.3L448.3 114.3L449 114.2L449.7 114.3L450.4 114.3L451.1 114.4L451.8 114.5L452.5 114.7L453.2 114.8L453.9 114.8L454.6 114.8L455.3 114.9L456 114.9L456.7 114.8L457.4 114.8L458.1 114.8L458.8 114.8L459.5 114.9L460.2 114.9L460.9 114.8L461.6 114.8L462.3 114.7L463 114.8L463.7 114.9L464.4 114.9L465.1 114.8L465.8 114.6L466.5 114.4L467.2 114.3L467.9 114.3L468.6 114.2L469.3 114.1L470 113.9L470.7 113.7L471.4 113.9L472.1 114.3L472.8 114.6L473.5 114.6L474.2 114.6L474.9 114.5L475.6 114.6L476.3 114.6L477 114.6L477.7 114.7L478.4 114.8L479.1 114.9L479.8 114.9L480.5 114.9L481.2 115L481.9 115L482.6 114.9L483.3 114.9L484 114.9L484.7 114.9L485.4 114.9L486.1 115L486.8 115L487.5 115L488.2 115L488.9 114.9L489.6 114.9L490.3 114.8L491 114.8L491.7 114.8L492.4 114.9L493.1 114.9L493.8 114.9L494.5 114.8L495.2 114.8L495.9 114.8L496.6 114.8L497.3 114.8L498 114.9L498.7 114.9L499.4 115L500.1 115L500.8 115L501 115.1Z" fill="#e8622f"/><line x1="360.8" y1="115.4" x2="501" y2="115.4" stroke="#ee9272" stroke-width="0.6"/><line x1="362.3" y1="120" x2="400.3" y2="120" stroke="#8a8f8f" stroke-width="0.7"/><line x1="465.7" y1="120" x2="499.5" y2="120" stroke="#8a8f8f" stroke-width="0.7"/><path d="M361.3 120l2.2 -1.1v2.2z" fill="#333"/><path d="M500.5 120l-2.2 -1.1v2.2z" fill="#333"/><text x="433" y="121.6" font-size="4.15" text-anchor="middle" fill="#111" stroke="#111" stroke-width="0.14">chr13:28,360,077-28,373,515</text><text x="26.8" y="158.2" font-size="4.7" font-weight="bold" fill="#111" stroke="#111" stroke-width="0.08">CpG</text><text x="37" y="170.3" font-size="4.6" text-anchor="end" fill="#111" stroke="#111" stroke-width="0.08">Con1</text><text x="37" y="213" font-size="4.6" text-anchor="end" fill="#111" stroke="#111" stroke-width="0.08">Con1</text><text x="37" y="177.25" font-size="4.6" text-anchor="end" fill="#111" stroke="#111" stroke-width="0.08">Con2</text><text x="37" y="220" font-size="4.6" text-anchor="end" fill="#111" stroke="#111" stroke-width="0.08">Con2</text><text x="37" y="184.2" font-size="4.6" text-anchor="end" fill="#111" stroke="#111" stroke-width="0.08">Con3</text><text x="37" y="227" font-size="4.6" text-anchor="end" fill="#111" stroke="#111" stroke-width="0.08">Con3</text><text x="37" y="191.15" font-size="4.6" text-anchor="end" fill="#111" stroke="#111" stroke-width="0.08">QKO1</text><text x="37" y="234" font-size="4.6" text-anchor="end" fill="#111" stroke="#111" stroke-width="0.08">QKO1</text><text x="37" y="198.1" font-size="4.6" text-anchor="end" fill="#111" stroke="#111" stroke-width="0.08">QKO2</text><text x="37" y="241" font-size="4.6" text-anchor="end" fill="#111" stroke="#111" stroke-width="0.08">QKO2</text><text x="37" y="205.05" font-size="4.6" text-anchor="end" fill="#111" stroke="#111" stroke-width="0.08">QKO3</text><text x="37" y="248" font-size="4.6" text-anchor="end" fill="#111" stroke="#111" stroke-width="0.08">QKO3</text><line x1="23" y1="167.3" x2="23" y2="205.95" stroke="#a0a0a0" stroke-width="1"/><line x1="23" y1="209.3" x2="23" y2="246.4" stroke="#a0a0a0" stroke-width="1"/><text x="18.7" y="186.2" font-size="6.4" text-anchor="middle" font-weight="bold" stroke="#000" stroke-width="0.08" transform="rotate(-90 18.7 186.2)">WGBS</text><text x="11.6" y="224" font-size="6.5" text-anchor="middle" font-weight="bold" stroke="#000" stroke-width="0.08" transform="rotate(-90 11.6 224)">H2AK119ub1</text><text x="19" y="227.4" font-size="6.5" text-anchor="middle" font-weight="bold" stroke="#000" stroke-width="0.08" transform="rotate(-90 19 227.4)">ChIP-seq</text><text x="100.2" y="138.8" font-size="6.4" text-anchor="middle" font-weight="bold" font-style="italic" stroke="#000" stroke-width="0.08">BMP7</text><rect x="39.2" y="145.62" width="62.1" height="1.35" fill="#1c1c9c"/><rect x="94.6" y="145.2" width="6.7" height="2.2" fill="#1c1c9c"/><rect x="89.8" y="144.5" width="4.8" height="3.6" fill="#1c1c9c"/><path d="M43.7 145.5l-1 0.8l1 0.8M48.7 145.5l-1 0.8l1 0.8M53.7 145.5l-1 0.8l1 0.8M58.7 145.5l-1 0.8l1 0.8M63.7 145.5l-1 0.8l1 0.8M68.7 145.5l-1 0.8l1 0.8M73.7 145.5l-1 0.8l1 0.8M78.7 145.5l-1 0.8l1 0.8M83.7 145.5l-1 0.8l1 0.8M88.7 145.5l-1 0.8l1 0.8M93.7 145.5l-1 0.8l1 0.8M98.7 145.5l-1 0.8l1 0.8" stroke="#6a6ad8" stroke-width="0.45" fill="none"/><rect x="72.5" y="155" width="5.2" height="2.6" fill="#1c1c9c"/><rect x="84" y="155" width="18.7" height="2.6" fill="#1c1c9c"/><text x="39" y="162" font-size="2.8" fill="#666" stroke="#666" stroke-width="0.14">[0-100]</text><text x="39" y="207.9" font-size="2.8" fill="#666" stroke="#666" stroke-width="0.14">[0-2.00]</text><line x1="39" y1="169.5" x2="150" y2="169.5" stroke="#b03c50" stroke-width="1"/><path d="M39.7 170v-4.9M42.1 170v-4.1M43.8 170v-3.6M45.6 170v-5.1M47.9 170v-5.1M52.1 170v-5.3M54.3 170v-5.5M60.3 170v-2.1M66.1 170v-5.1M68.5 170v-4.1M70.8 170v-6M72.7 170v-5.9M74.9 170v-1.3M77 170v-2.2M85.4 170v-2.2M95.1 170v-1.7M97.3 170v-1.6M99.2 170v-1.8M101.5 170v-3.9M103.9 170v-4.8M106.3 170v-4.5M108.5 170v-5.7M110.6 170v-4.9M112.5 170v-5.2M115 170v-4.4M117.5 170v-5.3M122 170v-4.6M124.3 170v-3.3M126.7 170v-4.1M128.8 170v-3.4M132.7 170v-3.3M134.9 170v-3.5M141.2 170v-5.9M143.2 170v-5.2" stroke="#740f2a" stroke-width="0.8" fill="none"/><line x1="39" y1="176.5" x2="150" y2="176.5" stroke="#b03c50" stroke-width="1"/><path d="M39.7 177v-6M42.1 177v-4.9M43.8 177v-4.7M45.6 177v-6.1M47.9 177v-4.8M52.1 177v-6.2M54.3 177v-5.3M60.3 177v-2.3M66.1 177v-5.2M68.5 177v-3.9M70.8 177v-5.5M72.7 177v-6.2M74.9 177v-1.3M81.3 177v-2.1M83.2 177v-2.4M85.4 177v-2.1M91.5 177v-1.5M93.3 177v-1.2M99.2 177v-1.8M101.5 177v-5.1M103.9 177v-4.8M106.3 177v-4.3M108.5 177v-5.5M110.6 177v-5.8M115 177v-3.9M117.5 177v-5.5M122 177v-4.1M124.3 177v-3.6M126.7 177v-4.3M128.8 177v-3.8M130.8 177v-3.8M132.7 177v-3.3M134.9 177v-3.7M141.2 177v-5.1M143.2 177v-5.7" stroke="#740f2a" stroke-width="0.8" fill="none"/><line x1="39" y1="183.5" x2="150" y2="183.5" stroke="#b03c50" stroke-width="1"/><path d="M39.7 184v-5.1M42.1 184v-3.5M43.8 184v-4.8M45.6 184v-6M47.9 184v-4M52.1 184v-6M54.3 184v-5.6M60.3 184v-2.1M66.1 184v-5.6M68.5 184v-4.5M70.8 184v-6.2M72.7 184v-4.9M81.3 184v-1.6M83.2 184v-1.8M87.4 184v-2M91.5 184v-2.2M97.3 184v-2M101.5 184v-5.6M103.9 184v-5.7M106.3 184v-4.4M108.5 184v-5.1M110.6 184v-3.7M112.5 184v-6M115 184v-3.5M117.5 184v-4.9M122 184v-4.9M124.3 184v-4.7M126.7 184v-3.7M128.8 184v-4M130.8 184v-4.8M132.7 184v-3.3M134.9 184v-4.1M141.2 184v-5M143.2 184v-5.5" stroke="#740f2a" stroke-width="0.8" fill="none"/><line x1="39" y1="190.5" x2="150" y2="190.5" stroke="#b03c50" stroke-width="1"/><path d="M39.7 191v-6.1M42.1 191v-3.5M43.8 191v-4.3M45.6 191v-5.7M47.9 191v-4.7M52.1 191v-6.1M54.3 191v-4.9M60.3 191v-2.2M66.1 191v-4.8M68.5 191v-4.2M70.8 191v-4.4M72.7 191v-5.4M74.9 191v-3.1M77 191v-3.3M81.3 191v-2.8M83.2 191v-4.2M85.4 191v-4.2M87.4 191v-3M91.5 191v-3.9M93.3 191v-3.1M95.1 191v-3.3M97.3 191v-3.8M99.2 191v-2.6M101.5 191v-3.3M103.9 191v-3.7M106.3 191v-4.6M108.5 191v-5.8M110.6 191v-5.7M112.5 191v-4.5M115 191v-5.5M117.5 191v-5.6M122 191v-4.2M124.3 191v-4.5M126.7 191v-3.6M128.8 191v-3.6M130.8 191v-4.7M132.7 191v-4.4M134.9 191v-4.3M141.2 191v-6M143.2 191v-5.7" stroke="#740f2a" stroke-width="0.8" fill="none"/><line x1="39" y1="197.5" x2="150" y2="197.5" stroke="#b03c50" stroke-width="1"/><path d="M39.7 198v-5M42.1 198v-3.5M43.8 198v-4.9M45.6 198v-6.1M47.9 198v-5.3M52.1 198v-6.2M54.3 198v-5.2M60.3 198v-2.2M66.1 198v-4.9M68.5 198v-4.7M70.8 198v-5.9M72.7 198v-4.5M74.9 198v-3.4M77 198v-3M81.3 198v-3.4M83.2 198v-3.9M85.4 198v-4M87.4 198v-2.6M91.5 198v-3.6M93.3 198v-2.2M95.1 198v-4.1M97.3 198v-4.1M99.2 198v-3.7M101.5 198v-3.7M103.9 198v-4.8M106.3 198v-3.4M108.5 198v-4.9M110.6 198v-5.4M112.5 198v-4.9M115 198v-5.4M117.5 198v-3.9M122 198v-4.6M124.3 198v-4.4M126.7 198v-4.1M128.8 198v-4.4M130.8 198v-3.9M132.7 198v-3.3M134.9 198v-3.5M141.2 198v-6.2M143.2 198v-5.4" stroke="#740f2a" stroke-width="0.8" fill="none"/><line x1="39" y1="204.5" x2="150" y2="204.5" stroke="#b03c50" stroke-width="1"/><path d="M39.7 205v-5.1M42.1 205v-5.1M43.8 205v-5.5M45.6 205v-5.7M47.9 205v-4M52.1 205v-5.6M54.3 205v-5.4M60.3 205v-1.9M66.1 205v-5.8M68.5 205v-5M70.8 205v-6.1M72.7 205v-4.6M74.9 205v-2.6M77 205v-3.6M81.3 205v-3.4M83.2 205v-4.2M85.4 205v-4.2M87.4 205v-3.1M91.5 205v-3.5M93.3 205v-3.5M95.1 205v-3.7M97.3 205v-3M99.2 205v-3.4M101.5 205v-4M103.9 205v-5.9M106.3 205v-3.3M108.5 205v-4.5M110.6 205v-5.6M112.5 205v-6M115 205v-5.5M117.5 205v-5.1M122 205v-4.2M124.3 205v-4.6M126.7 205v-3.6M128.8 205v-4.3M130.8 205v-4.4M132.7 205v-4.5M134.9 205v-4M141.2 205v-4.8M143.2 205v-5.4" stroke="#740f2a" stroke-width="0.8" fill="none"/><path d="M39 212.3L39 210.8L39.7 210.7L40.4 210.6L41.1 210.5L41.8 210.3L42.5 210.3L43.2 210.5L43.9 210.7L44.6 210.8L45.3 210.8L46 210.6L46.7 210.4L47.4 210.2L48.1 210.1L48.8 210.2L49.5 210.3L50.2 210.5L50.9 210.6L51.6 210.5L52.3 210.1L53 209.7L53.7 209.4L54.4 209.4L55.1 209.8L55.8 210.2L56.5 210.5L57.2 210.6L57.9 210.5L58.6 210.2L59.3 209.9L60 209.5L60.7 209.2L61.4 208.8L62.1 208.4L62.8 208.3L63.5 208.2L64.2 207.9L64.9 207.5L65.6 207.3L66.3 207.2L67 207.4L67.7 207.6L68.4 207.8L69.1 207.8L69.8 208L70.5 208.4L71.2 208.8L71.9 208.9L72.6 208.8L73.3 208.4L74 207.9L74.7 207.5L75.4 207.6L76.1 208L76.8 208.5L77.5 208.9L78.2 208.9L78.9 208.8L79.6 208.6L80.3 208.4L81 208.3L81.7 208.1L82.4 207.5L83.1 206.9L83.8 206.6L84.5 206.7L85.2 207.1L85.9 207.6L86.6 207.9L87.3 208L88 208.4L88.7 208.8L89.4 209.2L90.1 209.3L90.8 209.2L91.5 209.1L92.2 209.1L92.9 209.4L93.6 209.7L94.3 210L95 210.4L95.7 210.7L96.4 210.8L97.1 210.7L97.8 210.6L98.5 210.5L99.2 210.4L99.9 210.1L100.6 209.7L101.3 209.4L102 209.3L102.7 209.4L103.4 209.6L104.1 209.9L104.8 210L105.5 210L106.2 209.8L106.9 209.5L107.6 209.3L108.3 209.3L109 209.4L109.7 209.4L110.4 209.5L111.1 209.5L111.8 209.4L112.5 209.2L113.2 208.9L113.9 208.8L114.6 208.9L115.3 209.2L116 209.5L116.7 209.7L117.4 209.7L118.1 209.8L118.8 210L119.5 210.1L120.2 210.1L120.9 209.9L121.6 209.5L122.3 209.1L123 209L123.7 209L124.4 209.1L125.1 209.1L125.8 209.2L126.5 209.3L127.2 209.6L127.9 210L128.6 210.2L129.3 210.3L130 210.2L130.7 210L131.4 209.9L132.1 209.9L132.8 210L133.5 210.2L134.2 210.4L134.9 210.5L135.6 210.4L136.3 210.1L137 209.7L137.7 209.4L138.4 209.3L139.1 209.5L139.8 209.7L140.5 209.9L141.2 209.9L141.9 209.8L142.6 209.6L143.3 209.5L144 209.4L144.7 209.4L145.4 209.4L146.1 209.5L146.8 209.5L147.5 209.5L148.2 209.5L148.9 209.5L149.6 209.5L150 212.3Z" fill="#e8622f"/><line x1="39" y1="212.6" x2="150" y2="212.6" stroke="#ee9272" stroke-width="0.6"/><path d="M39 219.3L39 217L39.7 217.1L40.4 217.4L41.1 217.6L41.8 217.7L42.5 217.7L43.2 217.6L43.9 217.5L44.6 217.4L45.3 217.3L46 217.4L46.7 217.5L47.4 217.6L48.1 217.7L48.8 217.5L49.5 217.2L50.2 216.9L50.9 216.7L51.6 216.7L52.3 216.8L53 216.8L53.7 216.9L54.4 216.9L55.1 217L55.8 217L56.5 217.1L57.2 217.1L57.9 217.1L58.6 216.9L59.3 216.6L60 216.4L60.7 216.1L61.4 216L62.1 215.9L62.8 216L63.5 216.1L64.2 216.2L64.9 216.4L65.6 216.5L66.3 216.5L67 216.4L67.7 216.2L68.4 216L69.1 215.9L69.8 215.7L70.5 215.5L71.2 215.2L71.9 215L72.6 215.1L73.3 215.4L74 215.8L74.7 216L75.4 216L76.1 215.8L76.8 215.6L77.5 215.4L78.2 215.3L78.9 215.3L79.6 215.2L80.3 215.1L81 215.1L81.7 214.9L82.4 214.5L83.1 214L83.8 213.8L84.5 213.9L85.2 214.2L85.9 214.6L86.6 214.9L87.3 215L88 214.9L88.7 214.6L89.4 214.4L90.1 214.4L90.8 214.8L91.5 215.3L92.2 215.8L92.9 216.4L93.6 216.8L94.3 217.2L95 217.6L95.7 218L96.4 218L97.1 217.9L97.8 217.7L98.5 217.6L99.2 217.4L99.9 217.3L100.6 217.4L101.3 217.4L102 217.4L102.7 217.3L103.4 217.1L104.1 216.8L104.8 216.6L105.5 216.6L106.2 216.6L106.9 216.6L107.6 216.6L108.3 216.5L109 216.6L109.7 216.6L110.4 216.6L111.1 216.7L111.8 216.6L112.5 216.5L113.2 216.3L113.9 216.3L114.6 216.3L115.3 216.4L116 216.4L116.7 216.5L117.4 216.5L118.1 216.6L118.8 216.8L119.5 216.9L120.2 217L120.9 216.9L121.6 216.7L122.3 216.5L123 216.4L123.7 216.5L124.4 216.8L125.1 217.1L125.8 217.2L126.5 217.2L127.2 217L127.9 216.7L128.6 216.5L129.3 216.5L130 216.6L130.7 216.7L131.4 216.9L132.1 216.9L132.8 216.8L133.5 216.6L134.2 216.4L134.9 216.3L135.6 216.3L136.3 216.3L137 216.2L137.7 216.2L138.4 216.2L139.1 216.3L139.8 216.5L140.5 216.7L141.2 216.7L141.9 216.8L142.6 216.9L143.3 217.1L144 217.1L144.7 217L145.4 216.7L146.1 216.3L146.8 216.1L147.5 216.1L148.2 216.4L148.9 216.8L149.6 217L150 219.3Z" fill="#e8622f"/><line x1="39" y1="219.6" x2="150" y2="219.6" stroke="#ee9272" stroke-width="0.6"/><path d="M39 226.3L39 223.5L39.7 223.6L40.4 223.8L41.1 224L41.8 224.1L42.5 224.1L43.2 224.1L43.9 224L44.6 224L45.3 224L46 224.2L46.7 224.5L47.4 224.7L48.1 224.8L48.8 224.8L49.5 224.8L50.2 224.8L50.9 224.8L51.6 224.8L52.3 224.7L53 224.7L53.7 224.6L54.4 224.6L55.1 224.7L55.8 224.8L56.5 224.8L57.2 224.8L57.9 224.7L58.6 224.2L59.3 223.6L60 223.1L60.7 222.9L61.4 223L62.1 223.1L62.8 223.3L63.5 223.2L64.2 222.9L64.9 222.5L65.6 222.2L66.3 222.1L67 222L67.7 221.8L68.4 221.6L69.1 221.6L69.8 221.8L70.5 222.3L71.2 222.7L71.9 223L72.6 222.8L73.3 222.2L74 221.5L74.7 220.9L75.4 221L76.1 221.3L76.8 221.7L77.5 222L78.2 222.1L78.9 222.1L79.6 221.9L80.3 221.8L81 221.8L81.7 221.8L82.4 221.8L83.1 221.8L83.8 221.8L84.5 221.8L85.2 221.9L85.9 222L86.6 222.1L87.3 222.1L88 222.2L88.7 222.3L89.4 222.4L90.1 222.5L90.8 222.4L91.5 222.2L92.2 222.1L92.9 222.4L93.6 222.8L94.3 223.2L95 223.7L95.7 224.1L96.4 224.2L97.1 224.2L97.8 224.2L98.5 224.3L99.2 224.2L99.9 224.2L100.6 224.4L101.3 224.6L102 224.7L102.7 224.6L103.4 224.3L104.1 224L104.8 223.8L105.5 223.9L106.2 224.2L106.9 224.5L107.6 224.7L108.3 224.7L109 224.6L109.7 224.3L110.4 224.1L111.1 223.9L111.8 223.8L112.5 223.7L113.2 223.5L113.9 223.4L114.6 223.4L115.3 223.8L116 224.1L116.7 224.3L117.4 224.2L118.1 223.8L118.8 223.2L119.5 222.7L120.2 222.5L120.9 222.6L121.6 223L122.3 223.3L123 223.4L123.7 223.3L124.4 223L125.1 222.7L125.8 222.5L126.5 222.5L127.2 222.6L127.9 222.8L128.6 222.9L129.3 223L130 223.3L130.7 223.6L131.4 223.9L132.1 224L132.8 223.9L133.5 223.7L134.2 223.5L134.9 223.4L135.6 223.5L136.3 223.9L137 224.2L137.7 224.4L138.4 224.4L139.1 224.1L139.8 223.8L140.5 223.4L141.2 223.4L141.9 223.5L142.6 223.7L143.3 223.9L144 224L144.7 224L145.4 223.9L146.1 223.7L146.8 223.7L147.5 223.8L148.2 224L148.9 224.2L149.6 224.4L150 226.3Z" fill="#e8622f"/><line x1="39" y1="226.6" x2="150" y2="226.6" stroke="#ee9272" stroke-width="0.6"/><path d="M39 233.3L39 233L39.7 233L40.4 232.9L41.1 232.9L41.8 232.8L42.5 232.9L43.2 232.9L43.9 232.9L44.6 233L45.3 233L46 233L46.7 233.1L47.4 233.1L48.1 233.1L48.8 233.1L49.5 233L50.2 232.9L50.9 232.9L51.6 232.9L52.3 232.9L53 233L53.7 233L54.4 233L55.1 233L55.8 233.1L56.5 233.1L57.2 233.1L57.9 233.1L58.6 233.1L59.3 233.1L60 233.1L60.7 233L61.4 232.9L62.1 232.7L62.8 232.4L63.5 232.4L64.2 232.5L64.9 232.6L65.6 232.7L66.3 232.7L67 232.7L67.7 232.6L68.4 232.5L69.1 232.5L69.8 232.5L70.5 232.6L71.2 232.6L71.9 232.6L72.6 232.6L73.3 232.4L74 232.2L74.7 232L75.4 232L76.1 232L76.8 232.2L77.5 232.2L78.2 232.2L78.9 232.2L79.6 232L80.3 231.9L81 231.8L81.7 231.8L82.4 231.7L83.1 231.6L83.8 231.6L84.5 231.8L85.2 232.2L85.9 232.5L86.6 232.7L87.3 232.8L88 232.8L88.7 232.8L89.4 232.8L90.1 232.8L90.8 232.8L91.5 232.8L92.2 232.8L92.9 232.7L93.6 232.8L94.3 232.7L95 232.7L95.7 232.7L96.4 232.7L97.1 232.7L97.8 232.7L98.5 232.8L99.2 232.8L99.9 232.8L100.6 232.9L101.3 233L102 233L102.7 233L103.4 233L104.1 233L104.8 233L105.5 233L106.2 233L106.9 233L107.6 233L108.3 233L109 233L109.7 233L110.4 232.9L111.1 232.9L111.8 233L112.5 233L113.2 233.1L113.9 233.1L114.6 233.1L115.3 233.1L116 233.1L116.7 233.1L117.4 233.1L118.1 233.1L118.8 233.1L119.5 233.1L120.2 233.1L120.9 233.1L121.6 233.1L122.3 233.1L123 233.1L123.7 233.1L124.4 233L125.1 233L125.8 233L126.5 233L127.2 233L127.9 233L128.6 233L129.3 233L130 233L130.7 233.1L131.4 233.1L132.1 233.1L132.8 233.1L133.5 233.1L134.2 233.1L134.9 233.1L135.6 233.1L136.3 233.1L137 233.1L137.7 233L138.4 233L139.1 233L139.8 232.9L140.5 232.8L141.2 232.7L141.9 232.8L142.6 232.9L143.3 233L144 233L144.7 233L145.4 232.8L146.1 232.5L146.8 232.3L147.5 232.3L148.2 232.4L148.9 232.5L149.6 232.6L150 233.3Z" fill="#e8622f"/><line x1="39" y1="233.6" x2="150" y2="233.6" stroke="#ee9272" stroke-width="0.6"/><path d="M39 240.3L39 239.3L39.7 239.2L40.4 239.2L41.1 239.2L41.8 239.2L42.5 239.2L43.2 239.1L43.9 238.9L44.6 238.7L45.3 238.7L46 238.9L46.7 239.1L47.4 239.3L48.1 239.3L48.8 239.4L49.5 239.4L50.2 239.5L50.9 239.5L51.6 239.6L52.3 239.7L53 239.7L53.7 239.8L54.4 239.8L55.1 239.8L55.8 239.7L56.5 239.7L57.2 239.7L57.9 239.6L58.6 239.5L59.3 239.3L60 239.2L60.7 239.3L61.4 239.4L62.1 239.5L62.8 239.5L63.5 239.5L64.2 239.5L64.9 239.5L65.6 239.5L66.3 239.5L67 239.4L67.7 239.4L68.4 239.3L69.1 239.3L69.8 239.4L70.5 239.4L71.2 239.4L71.9 239.4L72.6 239.5L73.3 239.5L74 239.5L74.7 239.5L75.4 239.5L76.1 239.5L76.8 239.5L77.5 239.5L78.2 239.5L78.9 239.6L79.6 239.6L80.3 239.6L81 239.6L81.7 239.6L82.4 239.7L83.1 239.7L83.8 239.7L84.5 239.7L85.2 239.8L85.9 239.8L86.6 239.8L87.3 239.8L88 239.9L88.7 239.9L89.4 240L90.1 240L90.8 240L91.5 239.8L92.2 239.6L92.9 239.5L93.6 239.5L94.3 239.6L95 239.7L95.7 239.8L96.4 239.8L97.1 239.8L97.8 239.9L98.5 239.9L99.2 239.9L99.9 240L100.6 240L101.3 240L102 240L102.7 240L103.4 240L104.1 239.9L104.8 239.9L105.5 239.9L106.2 239.9L106.9 239.9L107.6 239.9L108.3 239.9L109 240L109.7 240L110.4 240.1L111.1 240.1L111.8 240.1L112.5 240.1L113.2 240.1L113.9 240.1L114.6 240.1L115.3 240L116 240L116.7 239.9L117.4 239.9L118.1 239.9L118.8 240L119.5 240L120.2 240L120.9 239.9L121.6 239.8L122.3 239.7L123 239.7L123.7 239.6L124.4 239.6L125.1 239.5L125.8 239.4L126.5 239.4L127.2 239.5L127.9 239.6L128.6 239.7L129.3 239.7L130 239.7L130.7 239.7L131.4 239.7L132.1 239.7L132.8 239.6L133.5 239.4L134.2 239L134.9 238.8L135.6 238.9L136.3 239.2L137 239.5L137.7 239.6L138.4 239.7L139.1 239.7L139.8 239.7L140.5 239.8L141.2 239.8L141.9 239.8L142.6 239.8L143.3 239.8L144 239.9L144.7 239.9L145.4 239.9L146.1 239.9L146.8 240L147.5 240L148.2 240L148.9 240.1L149.6 240.1L150 240.3Z" fill="#e8622f"/><line x1="39" y1="240.6" x2="150" y2="240.6" stroke="#ee9272" stroke-width="0.6"/><path d="M39 247.3L39 246.6L39.7 246.6L40.4 246.3L41.1 246L41.8 245.8L42.5 245.9L43.2 246.1L43.9 246.4L44.6 246.5L45.3 246.6L46 246.5L46.7 246.4L47.4 246.3L48.1 246.3L48.8 246.4L49.5 246.5L50.2 246.5L50.9 246.6L51.6 246.5L52.3 246.3L53 245.9L53.7 245.6L54.4 245.7L55.1 246L55.8 246.4L56.5 246.6L57.2 246.7L57.9 246.8L58.6 246.8L59.3 246.8L60 246.9L60.7 246.9L61.4 247L62.1 247L62.8 247L63.5 247L64.2 247.1L64.9 247.1L65.6 247.1L66.3 247.1L67 247.1L67.7 247.1L68.4 247.1L69.1 247.1L69.8 247.1L70.5 247L71.2 246.9L71.9 246.8L72.6 246.8L73.3 246.9L74 247L74.7 247L75.4 247L76.1 247L76.8 246.9L77.5 246.9L78.2 246.8L78.9 246.8L79.6 246.9L80.3 246.9L81 246.9L81.7 246.9L82.4 246.8L83.1 246.7L83.8 246.6L84.5 246.6L85.2 246.6L85.9 246.6L86.6 246.6L87.3 246.6L88 246.5L88.7 246.3L89.4 246.2L90.1 246.1L90.8 246.3L91.5 246.6L92.2 246.8L92.9 246.8L93.6 246.8L94.3 246.6L95 246.3L95.7 246L96.4 246.1L97.1 246.3L97.8 246.6L98.5 246.7L99.2 246.8L99.9 246.8L100.6 246.7L101.3 246.6L102 246.6L102.7 246.5L103.4 246.4L104.1 246.1L104.8 246L105.5 246L106.2 246L106.9 246L107.6 246L108.3 246L109 246L109.7 246L110.4 246L111.1 246.1L111.8 246.3L112.5 246.6L113.2 246.8L113.9 246.9L114.6 247L115.3 247L116 247.1L116.7 247.1L117.4 247.1L118.1 247.1L118.8 247.1L119.5 247.1L120.2 247.1L120.9 247.1L121.6 247.1L122.3 247.1L123 247.1L123.7 247.1L124.4 247.1L125.1 247.1L125.8 247L126.5 247.1L127.2 247.1L127.9 247.1L128.6 247.2L129.3 247.2L130 247.1L130.7 247.1L131.4 247.1L132.1 247L132.8 247.1L133.5 247.1L134.2 247.2L134.9 247.2L135.6 247.2L136.3 247.1L137 247.1L137.7 247.1L138.4 247.1L139.1 247.1L139.8 247.1L140.5 247.1L141.2 247.1L141.9 247.1L142.6 247.1L143.3 247.1L144 247.1L144.7 247.1L145.4 247.1L146.1 247L146.8 247L147.5 247L148.2 247L148.9 247L149.6 247L150 247.3Z" fill="#e8622f"/><line x1="39" y1="247.6" x2="150" y2="247.6" stroke="#ee9272" stroke-width="0.6"/><line x1="40.5" y1="252.6" x2="63.3" y2="252.6" stroke="#8a8f8f" stroke-width="0.7"/><line x1="128.7" y1="252.6" x2="148.5" y2="252.6" stroke="#8a8f8f" stroke-width="0.7"/><path d="M39.5 252.6l2.2 -1.1v2.2z" fill="#333"/><path d="M149.5 252.6l-2.2 -1.1v2.2z" fill="#333"/><text x="96" y="254.2" font-size="4.15" text-anchor="middle" fill="#111" stroke="#111" stroke-width="0.14">chr20:55,830,601-55,840,618</text><text x="212.2" y="138.8" font-size="6.4" text-anchor="middle" font-weight="bold" font-style="italic" stroke="#000" stroke-width="0.08">IHH</text><rect x="169.6" y="145.62" width="67.4" height="1.35" fill="#1c1c9c"/><rect x="169.6" y="145.2" width="7.7" height="2.2" fill="#1c1c9c"/><rect x="233" y="145.2" width="4" height="2.2" fill="#1c1c9c"/><rect x="177.3" y="144.5" width="7.3" height="3.6" fill="#1c1c9c"/><rect x="201.3" y="144.5" width="2" height="3.6" fill="#1c1c9c"/><rect x="229.2" y="144.5" width="3.8" height="3.6" fill="#1c1c9c"/><rect x="214.8" y="144.5" width="1" height="3.6" fill="#1c1c9c"/><path d="M174.1 145.5l-1 0.8l1 0.8M179.1 145.5l-1 0.8l1 0.8M184.1 145.5l-1 0.8l1 0.8M189.1 145.5l-1 0.8l1 0.8M194.1 145.5l-1 0.8l1 0.8M199.1 145.5l-1 0.8l1 0.8M204.1 145.5l-1 0.8l1 0.8M209.1 145.5l-1 0.8l1 0.8M214.1 145.5l-1 0.8l1 0.8M219.1 145.5l-1 0.8l1 0.8M224.1 145.5l-1 0.8l1 0.8M229.1 145.5l-1 0.8l1 0.8M234.1 145.5l-1 0.8l1 0.8" stroke="#6a6ad8" stroke-width="0.45" fill="none"/><rect x="180.2" y="155" width="4.4" height="2.6" fill="#1c1c9c"/><rect x="200.8" y="155" width="10.2" height="2.6" fill="#1c1c9c"/><rect x="217.3" y="155" width="1.7" height="2.6" fill="#1c1c9c"/><rect x="228.8" y="155" width="13.5" height="2.6" fill="#1c1c9c"/><text x="156.4" y="162" font-size="2.8" fill="#666" stroke="#666" stroke-width="0.14">[0-100]</text><text x="156.4" y="207.9" font-size="2.8" fill="#666" stroke="#666" stroke-width="0.14">[0-2.00]</text><line x1="156.4" y1="169.5" x2="266.8" y2="169.5" stroke="#b03c50" stroke-width="1"/><path d="M157.1 170v-5.2M160.6 170v-4.1M162.6 170v-4.1M164.4 170v-4.6M169.9 170v-4.3M171.9 170v-3.8M173.7 170v-5M175.7 170v-4.6M177.7 170v-6.2M179.4 170v-4.4M181.2 170v-4.8M183 170v-5.9M184.6 170v-5.3M189.9 170v-5.6M191.9 170v-3.2M193.4 170v-5.1M202.3 170v-4.8M204.2 170v-4.1M206.1 170v-4.2M207.9 170v-2.6M209.8 170v-3.2M214.9 170v-2.9M227.3 170v-2.4M230.7 170v-2.9M232.4 170v-2.5M236.4 170v-2.5M240.3 170v-2.6M242.2 170v-1.9M243.7 170v-2.6M245.2 170v-2.9M247.1 170v-5M249 170v-5.1M252.7 170v-3.8M254.5 170v-5.3M256.3 170v-5M259.7 170v-2.1M265.3 170v-1.4" stroke="#740f2a" stroke-width="0.85" fill="none"/><line x1="156.4" y1="176.5" x2="266.8" y2="176.5" stroke="#b03c50" stroke-width="1"/><path d="M157.1 177v-4.3M158.6 177v-4.4M160.6 177v-4.8M162.6 177v-4.7M164.4 177v-4.7M169.9 177v-5.2M171.9 177v-4.8M173.7 177v-3.7M175.7 177v-4.4M177.7 177v-5.3M179.4 177v-5M181.2 177v-5.3M183 177v-4.2M184.6 177v-4.7M189.9 177v-4.5M191.9 177v-4M193.4 177v-5.2M200.6 177v-3.9M204.2 177v-3M211.5 177v-3M213.4 177v-2.5M220.2 177v-2.4M222 177v-1.7M225.6 177v-2.5M227.3 177v-2.7M230.7 177v-2.5M232.4 177v-2.9M236.4 177v-3M247.1 177v-4.3M249 177v-4.4M252.7 177v-4.5M254.5 177v-4.9M256.3 177v-5M259.7 177v-1.8" stroke="#740f2a" stroke-width="0.85" fill="none"/><line x1="156.4" y1="183.5" x2="266.8" y2="183.5" stroke="#b03c50" stroke-width="1"/><path d="M157.1 184v-5.7M158.6 184v-5.3M160.6 184v-4.7M162.6 184v-4.3M164.4 184v-4.7M169.9 184v-5.3M171.9 184v-5M173.7 184v-3.8M175.7 184v-4.4M177.7 184v-6M179.4 184v-3.4M181.2 184v-5M183 184v-4.4M184.6 184v-4.4M189.9 184v-5.2M191.9 184v-3.5M200.6 184v-3.8M204.2 184v-2.5M206.1 184v-4M207.9 184v-3.1M213.4 184v-2.4M220.2 184v-2.4M222 184v-2M224 184v-2.5M225.6 184v-2.1M227.3 184v-2.8M230.7 184v-2.3M232.4 184v-3M236.4 184v-2.4M247.1 184v-4.8M249 184v-4.6M252.7 184v-3.6M254.5 184v-5.3M256.3 184v-4.3" stroke="#740f2a" stroke-width="0.85" fill="none"/><line x1="156.4" y1="190.5" x2="266.8" y2="190.5" stroke="#b03c50" stroke-width="1"/><path d="M157.1 191v-5.1M158.6 191v-6M160.6 191v-3.8M162.6 191v-5.5M164.4 191v-5.4M166.4 191v-4.6M168.3 191v-3.9M169.9 191v-5M171.9 191v-3.7M173.7 191v-5.6M175.7 191v-3.9M177.7 191v-6.2M179.4 191v-5.4M181.2 191v-5.3M184.6 191v-5.5M189.9 191v-5.9M191.9 191v-4.3M193.4 191v-5.2M195.2 191v-4.6M196.7 191v-5.6M198.5 191v-3.7M200.6 191v-5.6M202.3 191v-4.2M204.2 191v-5M206.1 191v-4.6M207.9 191v-4.5M209.8 191v-5.8M211.5 191v-4.8M213.4 191v-4.1M214.9 191v-5.4M216.7 191v-4.7M218.6 191v-5.1M220.2 191v-3.8M222 191v-4.6M224 191v-5.4M225.6 191v-5.4M227.3 191v-2.6M230.7 191v-2.5M232.4 191v-2.6M236.4 191v-2.5M240.3 191v-4.2M242.2 191v-3.7M243.7 191v-4.9M245.2 191v-5.3M247.1 191v-3.4M249 191v-3.8M252.7 191v-4.7M254.5 191v-5.7M256.3 191v-5.4M259.7 191v-2.6M265.3 191v-2" stroke="#740f2a" stroke-width="0.85" fill="none"/><line x1="156.4" y1="197.5" x2="266.8" y2="197.5" stroke="#b03c50" stroke-width="1"/><path d="M157.1 198v-6M158.6 198v-5M160.6 198v-4.6M162.6 198v-4.8M164.4 198v-5.6M166.4 198v-4.5M168.3 198v-5M169.9 198v-4.5M171.9 198v-3.8M173.7 198v-4.2M175.7 198v-4.1M177.7 198v-5.2M181.2 198v-4.1M183 198v-3.8M184.6 198v-4.3M189.9 198v-5.1M191.9 198v-4M193.4 198v-4.2M195.2 198v-5.4M196.7 198v-5M198.5 198v-4.8M200.6 198v-4.6M202.3 198v-4.7M204.2 198v-5.1M206.1 198v-4.4M207.9 198v-3.8M209.8 198v-5.5M211.5 198v-4.4M213.4 198v-4.8M214.9 198v-4.9M216.7 198v-5.5M218.6 198v-3.7M220.2 198v-5.1M222 198v-5.4M224 198v-5.4M225.6 198v-4M227.3 198v-2.5M230.7 198v-2.4M232.4 198v-2.4M236.4 198v-2.7M240.3 198v-4M242.2 198v-5.2M243.7 198v-5.5M245.2 198v-5.2M247.1 198v-4.2M249 198v-3.8M252.7 198v-3.3M254.5 198v-4.7M256.3 198v-5.4M259.7 198v-2.1M265.3 198v-1.5" stroke="#740f2a" stroke-width="0.85" fill="none"/><line x1="156.4" y1="204.5" x2="266.8" y2="204.5" stroke="#b03c50" stroke-width="1"/><path d="M157.1 205v-6.2M158.6 205v-5.9M160.6 205v-4.6M162.6 205v-5.4M164.4 205v-5M166.4 205v-6.1M168.3 205v-4.8M169.9 205v-4.3M171.9 205v-4.2M173.7 205v-5.5M175.7 205v-4.7M177.7 205v-5.9M179.4 205v-5.6M181.2 205v-3.6M184.6 205v-5.9M189.9 205v-4.9M191.9 205v-3.8M193.4 205v-5M195.2 205v-5.3M196.7 205v-4.1M198.5 205v-5M200.6 205v-4.6M202.3 205v-5.1M204.2 205v-4.4M206.1 205v-5.1M207.9 205v-4.8M209.8 205v-5.1M211.5 205v-5.2M213.4 205v-5.6M214.9 205v-4.5M216.7 205v-4.7M218.6 205v-4.1M220.2 205v-4.8M222 205v-3.8M224 205v-4.6M225.6 205v-5.5M227.3 205v-2.5M230.7 205v-2.3M232.4 205v-2.7M240.3 205v-5.1M242.2 205v-4.9M243.7 205v-3.9M245.2 205v-5.6M247.1 205v-4.4M249 205v-4.9M252.7 205v-2.9M254.5 205v-4.4M256.3 205v-5.3M259.7 205v-2.3M265.3 205v-1.4" stroke="#740f2a" stroke-width="0.85" fill="none"/><path d="M156.4 212.3L156.4 209L157.1 209L157.8 209L158.5 209.1L159.2 209.1L159.9 209.2L160.6 209.6L161.3 210L162 210.2L162.7 210.3L163.4 210.1L164.1 209.8L164.8 209.5L165.5 209.4L166.2 209.7L166.9 210.1L167.6 210.4L168.3 210.6L169 210.5L169.7 210.5L170.4 210.3L171.1 210.2L171.8 210.2L172.5 210.2L173.2 210.2L173.9 210.2L174.6 210.1L175.3 209.9L176 209.7L176.7 209.5L177.4 209.4L178.1 209.3L178.8 209.4L179.5 209.5L180.2 209.6L180.9 209.5L181.6 209.4L182.3 209.3L183 209.2L183.7 209.2L184.4 209.2L185.1 209.2L185.8 209.2L186.5 209.3L187.2 209.3L187.9 209.2L188.6 209.2L189.3 209.2L190 209.3L190.7 209.6L191.4 209.9L192.1 210L192.8 210.1L193.5 210.1L194.2 210.1L194.9 210L195.6 210L196.3 210.1L197 210.1L197.7 210.1L198.4 210.1L199.1 210L199.8 209.8L200.5 209.6L201.2 209.5L201.9 209.4L202.6 209L203.3 208.6L204 208.2L204.7 208.1L205.4 208.6L206.1 209.2L206.8 209.7L207.5 209.6L208.2 209.1L208.9 208.3L209.6 207.4L210.3 206.6L211 206.3L211.7 206.4L212.4 206.6L213.1 206.7L213.8 206.8L214.5 206.7L215.2 206.5L215.9 206.4L216.6 206.5L217.3 207.2L218 208L218.7 208.7L219.4 209L220.1 208.9L220.8 208.6L221.5 208.3L222.2 208.1L222.9 208.2L223.6 208.5L224.3 208.9L225 209.1L225.7 209.1L226.4 209L227.1 208.9L227.8 208.7L228.5 208.7L229.2 208.4L229.9 207.8L230.6 207.1L231.3 206.8L232 207.1L232.7 207.9L233.4 208.8L234.1 209.2L234.8 209.2L235.5 208.7L236.2 208.1L236.9 208.3L237.6 209.2L238.3 210.3L239 211.3L239.7 211.4L240.4 211.4L241.1 211.4L241.8 211.3L242.5 211.2L243.2 211.1L243.9 211.1L244.6 211.2L245.3 211.2L246 210.8L246.7 210.4L247.4 209.7L248.1 208.8L248.8 208.3L249.5 208.1L250.2 208.3L250.9 208.8L251.6 209.2L252.3 209.4L253 209.3L253.7 209.1L254.4 208.9L255.1 208.8L255.8 208.6L256.5 208.4L257.2 208.1L257.9 207.8L258.6 207.7L259.3 207.7L260 207.7L260.7 207.8L261.4 207.8L262.1 208L262.8 208.5L263.5 208.9L264.2 209.2L264.9 209.2L265.6 209.2L266.3 209.2L266.8 212.3Z" fill="#e8622f"/><line x1="156.4" y1="212.6" x2="266.8" y2="212.6" stroke="#ee9272" stroke-width="0.6"/><path d="M156.4 219.3L156.4 217.5L157.1 217.4L157.8 217.1L158.5 216.8L159.2 216.5L159.9 216.5L160.6 216.5L161.3 216.5L162 216.4L162.7 216.4L163.4 216.7L164.1 217.1L164.8 217.3L165.5 217.4L166.2 217.2L166.9 216.8L167.6 216.4L168.3 216.2L169 216.2L169.7 216.4L170.4 216.7L171.1 216.8L171.8 216.8L172.5 216.9L173.2 216.9L173.9 216.9L174.6 216.9L175.3 216.6L176 216.1L176.7 215.6L177.4 215.4L178.1 215.4L178.8 215.4L179.5 215.5L180.2 215.5L180.9 215.6L181.6 215.6L182.3 215.8L183 215.8L183.7 215.9L184.4 215.9L185.1 216L185.8 216L186.5 216L187.2 216.2L187.9 216.4L188.6 216.7L189.3 216.8L190 216.6L190.7 216.1L191.4 215.5L192.1 215L192.8 214.9L193.5 214.9L194.2 214.9L194.9 214.9L195.6 214.9L196.3 215.2L197 215.6L197.7 216L198.4 216.2L199.1 216.3L199.8 216.6L200.5 216.8L201.2 216.9L201.9 217L202.6 216.9L203.3 216.7L204 216.5L204.7 216.6L205.4 216.7L206.1 216.8L206.8 217L207.5 216.8L208.2 216.5L208.9 216.2L209.6 215.9L210.3 215.6L211 215.2L211.7 215L212.4 214.8L213.1 214.7L213.8 214.7L214.5 214.6L215.2 214.6L215.9 214.5L216.6 214.6L217.3 214.9L218 215.3L218.7 215.7L219.4 215.9L220.1 216L220.8 216.1L221.5 216.2L222.2 216.2L222.9 216.2L223.6 216.1L224.3 215.9L225 215.7L225.7 215.6L226.4 215.5L227.1 215.3L227.8 215.2L228.5 215L229.2 215L229.9 214.9L230.6 214.9L231.3 214.8L232 214.7L232.7 214.5L233.4 214.2L234.1 214.1L234.8 214.1L235.5 214.1L236.2 214.5L236.9 215.6L237.6 216.5L238.3 217.5L239 218.4L239.7 218.5L240.4 218.5L241.1 218.5L241.8 218.4L242.5 218.4L243.2 218.4L243.9 218.3L244.6 218.2L245.3 217.7L246 216.7L246.7 215.9L247.4 215.2L248.1 214.6L248.8 214.6L249.5 214.6L250.2 214.9L250.9 215.4L251.6 215.9L252.3 216.2L253 216.1L253.7 216.1L254.4 216L255.1 216L255.8 215.9L256.5 215.6L257.2 215.1L257.9 214.7L258.6 214.6L259.3 214.9L260 215.3L260.7 215.7L261.4 215.9L262.1 215.9L262.8 215.9L263.5 216L264.2 216L264.9 216.1L265.6 216.2L266.3 216.4L266.8 219.3Z" fill="#e8622f"/><line x1="156.4" y1="219.6" x2="266.8" y2="219.6" stroke="#ee9272" stroke-width="0.6"/><path d="M156.4 226.3L156.4 222.7L157.1 222.6L157.8 222.4L158.5 222.3L159.2 222.2L159.9 222.3L160.6 222.5L161.3 222.7L162 222.9L162.7 223L163.4 222.9L164.1 222.9L164.8 222.8L165.5 222.8L166.2 223.1L166.9 223.5L167.6 223.9L168.3 224.1L169 224L169.7 223.7L170.4 223.3L171.1 223L171.8 223.1L172.5 223.3L173.2 223.6L173.9 223.8L174.6 223.9L175.3 224.1L176 224.3L176.7 224.5L177.4 224.6L178.1 224.6L178.8 224.5L179.5 224.4L180.2 224.3L180.9 224.3L181.6 224.3L182.3 224.3L183 224.4L183.7 224.4L184.4 224.4L185.1 224.5L185.8 224.6L186.5 224.6L187.2 224.6L187.9 224.5L188.6 224.5L189.3 224.4L190 224.4L190.7 224.3L191.4 224.2L192.1 224.1L192.8 224.1L193.5 224.2L194.2 224.2L194.9 224.2L195.6 224.2L196.3 224.2L197 224.1L197.7 223.9L198.4 223.8L199.1 223.8L199.8 223.7L200.5 223.7L201.2 223.6L201.9 223.6L202.6 223.7L203.3 223.9L204 224L204.7 224L205.4 223.9L206.1 223.7L206.8 223.6L207.5 223.3L208.2 222.9L208.9 222.4L209.6 222L210.3 221.6L211 221.2L211.7 221.2L212.4 221.2L213.1 221.2L213.8 221.2L214.5 221.5L215.2 221.9L215.9 222.2L216.6 222.2L217.3 222.3L218 222.3L218.7 222.3L219.4 222.3L220.1 222.2L220.8 222L221.5 221.7L222.2 221.5L222.9 221.6L223.6 221.8L224.3 222L225 222.2L225.7 222.3L226.4 222.2L227.1 222.1L227.8 222L228.5 222L229.2 222L229.9 221.7L230.6 221.4L231.3 221.3L232 221.4L232.7 221.5L233.4 221.6L234.1 221.6L234.8 221.7L235.5 222L236.2 222.6L236.9 223.6L237.6 224.3L238.3 225L239 225.7L239.7 225.7L240.4 225.7L241.1 225.6L241.8 225.5L242.5 225.3L243.2 225.1L243.9 225.1L244.6 225.1L245.3 224.7L246 224L246.7 223.4L247.4 223L248.1 222.9L248.8 223.3L249.5 223.5L250.2 223.5L250.9 223.6L251.6 223.6L252.3 223.7L253 223.8L253.7 223.9L254.4 224L255.1 224.1L255.8 224.1L256.5 224L257.2 223.8L257.9 223.6L258.6 223.6L259.3 223.6L260 223.8L260.7 223.8L261.4 223.9L262.1 223.9L262.8 223.9L263.5 223.9L264.2 223.9L264.9 223.8L265.6 223.6L266.3 223.3L266.8 226.3Z" fill="#e8622f"/><line x1="156.4" y1="226.6" x2="266.8" y2="226.6" stroke="#ee9272" stroke-width="0.6"/><path d="M156.4 233.3L156.4 232.1L157.1 232.1L157.8 232.1L158.5 232.2L159.2 232.3L159.9 232.4L160.6 232.6L161.3 232.7L162 232.8L162.7 232.9L163.4 232.9L164.1 232.9L164.8 232.8L165.5 232.9L166.2 232.9L166.9 233L167.6 233.1L168.3 233.1L169 233.1L169.7 233.1L170.4 233.1L171.1 233L171.8 233L172.5 233.1L173.2 233.1L173.9 233.1L174.6 233.1L175.3 233.1L176 233L176.7 233L177.4 232.9L178.1 232.9L178.8 233L179.5 233L180.2 233.1L180.9 233.1L181.6 233.1L182.3 233.1L183 233.1L183.7 233.1L184.4 233.1L185.1 233L185.8 233L186.5 233L187.2 233L187.9 233L188.6 233.1L189.3 233.1L190 233.1L190.7 233.1L191.4 233.1L192.1 233.1L192.8 233.1L193.5 233L194.2 233L194.9 233L195.6 233L196.3 233L197 233.1L197.7 233.1L198.4 233.1L199.1 233.1L199.8 233.1L200.5 233L201.2 232.9L201.9 232.8L202.6 232.8L203.3 232.9L204 232.9L204.7 232.8L205.4 232.8L206.1 232.7L206.8 232.7L207.5 232.6L208.2 232.5L208.9 232.3L209.6 232.1L210.3 232.1L211 232.2L211.7 232.3L212.4 232.5L213.1 232.6L213.8 232.7L214.5 232.8L215.2 232.8L215.9 232.9L216.6 232.9L217.3 233L218 233.1L218.7 233.1L219.4 233.1L220.1 233.1L220.8 233.1L221.5 233L222.2 233L222.9 233L223.6 233L224.3 232.9L225 232.9L225.7 232.9L226.4 232.9L227.1 232.9L227.8 232.9L228.5 232.9L229.2 232.8L229.9 232.8L230.6 232.8L231.3 232.7L232 232.7L232.7 232.7L233.4 232.7L234.1 232.7L234.8 232.7L235.5 232.6L236.2 232.5L236.9 232.5L237.6 232.5L238.3 232.5L239 232.6L239.7 232.6L240.4 232.7L241.1 232.8L241.8 232.9L242.5 233L243.2 233L243.9 233L244.6 233.1L245.3 233.1L246 233.1L246.7 233.1L247.4 233L248.1 233L248.8 232.9L249.5 232.9L250.2 232.8L250.9 232.8L251.6 232.7L252.3 232.7L253 232.7L253.7 232.7L254.4 232.7L255.1 232.8L255.8 232.8L256.5 232.8L257.2 232.8L257.9 232.8L258.6 232.8L259.3 232.9L260 233L260.7 233L261.4 233L262.1 233L262.8 233L263.5 232.9L264.2 232.9L264.9 232.9L265.6 233L266.3 233L266.8 233.3Z" fill="#e8622f"/><line x1="156.4" y1="233.6" x2="266.8" y2="233.6" stroke="#ee9272" stroke-width="0.6"/><path d="M156.4 240.3L156.4 240.1L157.1 240.1L157.8 240.1L158.5 240.1L159.2 240.1L159.9 240.1L160.6 240.1L161.3 240.1L162 240.1L162.7 240.1L163.4 240.1L164.1 240L164.8 239.8L165.5 239.8L166.2 239.8L166.9 239.8L167.6 239.9L168.3 239.9L169 239.9L169.7 240L170.4 240.1L171.1 240.1L171.8 240.1L172.5 240.1L173.2 240L173.9 239.9L174.6 239.9L175.3 239.9L176 239.9L176.7 239.9L177.4 239.9L178.1 240L178.8 240.1L179.5 240.1L180.2 240.1L180.9 240.1L181.6 240.1L182.3 240.1L183 240.1L183.7 240.1L184.4 240.1L185.1 240.1L185.8 240L186.5 240L187.2 240L187.9 240L188.6 240L189.3 240L190 240L190.7 240L191.4 240L192.1 240L192.8 240L193.5 240L194.2 240L194.9 240L195.6 240L196.3 240L197 240L197.7 240.1L198.4 240.1L199.1 240L199.8 240L200.5 240L201.2 239.9L201.9 239.9L202.6 239.9L203.3 239.9L204 239.8L204.7 239.8L205.4 239.7L206.1 239.5L206.8 239.3L207.5 239.2L208.2 239.2L208.9 239.2L209.6 239.3L210.3 239.3L211 239.4L211.7 239.6L212.4 239.7L213.1 239.8L213.8 239.9L214.5 239.9L215.2 240L215.9 240L216.6 240L217.3 240L218 240L218.7 240L219.4 240L220.1 240L220.8 240.1L221.5 240.1L222.2 240.1L222.9 240.1L223.6 240.1L224.3 240.1L225 240.1L225.7 240.1L226.4 240L227.1 239.9L227.8 239.8L228.5 239.7L229.2 239.7L229.9 239.8L230.6 239.8L231.3 239.9L232 239.8L232.7 239.7L233.4 239.5L234.1 239.4L234.8 239.3L235.5 239.4L236.2 239.5L236.9 239.6L237.6 239.7L238.3 239.7L239 239.8L239.7 239.9L240.4 240L241.1 240L241.8 239.9L242.5 239.9L243.2 239.9L243.9 239.9L244.6 240L245.3 240L246 240.1L246.7 240.1L247.4 240.1L248.1 240.1L248.8 240L249.5 240L250.2 240L250.9 239.9L251.6 239.9L252.3 239.8L253 239.8L253.7 239.9L254.4 240L255.1 240L255.8 240L256.5 239.9L257.2 239.8L257.9 239.7L258.6 239.7L259.3 239.6L260 239.4L260.7 239.3L261.4 239.2L262.1 239.2L262.8 239.3L263.5 239.4L264.2 239.4L264.9 239.5L265.6 239.5L266.3 239.5L266.8 240.3Z" fill="#e8622f"/><line x1="156.4" y1="240.6" x2="266.8" y2="240.6" stroke="#ee9272" stroke-width="0.6"/><path d="M156.4 247.3L156.4 246.9L157.1 246.9L157.8 246.9L158.5 246.9L159.2 246.9L159.9 246.9L160.6 246.8L161.3 246.6L162 246.5L162.7 246.5L163.4 246.5L164.1 246.5L164.8 246.5L165.5 246.5L166.2 246.6L166.9 246.8L167.6 246.9L168.3 246.9L169 246.9L169.7 246.9L170.4 246.9L171.1 246.8L171.8 246.8L172.5 246.8L173.2 246.8L173.9 246.8L174.6 246.8L175.3 246.8L176 246.7L176.7 246.6L177.4 246.5L178.1 246.5L178.8 246.5L179.5 246.6L180.2 246.6L180.9 246.6L181.6 246.5L182.3 246.4L183 246.3L183.7 246.3L184.4 246.4L185.1 246.6L185.8 246.7L186.5 246.7L187.2 246.6L187.9 246.5L188.6 246.3L189.3 246.2L190 246.2L190.7 246.3L191.4 246.3L192.1 246.4L192.8 246.4L193.5 246.5L194.2 246.6L194.9 246.6L195.6 246.6L196.3 246.7L197 246.7L197.7 246.7L198.4 246.8L199.1 246.7L199.8 246.7L200.5 246.6L201.2 246.5L201.9 246.5L202.6 246.5L203.3 246.5L204 246.4L204.7 246.5L205.4 246.6L206.1 246.8L206.8 247L207.5 247L208.2 247L208.9 247L209.6 246.9L210.3 246.9L211 246.9L211.7 246.9L212.4 246.9L213.1 246.9L213.8 246.9L214.5 246.8L215.2 246.6L215.9 246.4L216.6 246.3L217.3 246.4L218 246.6L218.7 246.7L219.4 246.7L220.1 246.6L220.8 246.6L221.5 246.6L222.2 246.6L222.9 246.6L223.6 246.6L224.3 246.6L225 246.6L225.7 246.7L226.4 246.6L227.1 246.6L227.8 246.6L228.5 246.6L229.2 246.6L229.9 246.6L230.6 246.5L231.3 246.5L232 246.5L232.7 246.4L233.4 246.2L234.1 246.1L234.8 246.2L235.5 246.4L236.2 246.7L236.9 246.9L237.6 246.9L238.3 246.9L239 246.8L239.7 246.7L240.4 246.7L241.1 246.8L241.8 246.9L242.5 246.9L243.2 247L243.9 247L244.6 247L245.3 246.9L246 246.9L246.7 246.9L247.4 247L248.1 247L248.8 247L249.5 247L250.2 247L250.9 247L251.6 246.9L252.3 246.9L253 246.8L253.7 246.8L254.4 246.8L255.1 246.8L255.8 246.8L256.5 246.7L257.2 246.7L257.9 246.7L258.6 246.6L259.3 246.6L260 246.6L260.7 246.6L261.4 246.6L262.1 246.6L262.8 246.5L263.5 246.4L264.2 246.3L264.9 246.2L265.6 246.1L266.3 246L266.8 247.3Z" fill="#e8622f"/><line x1="156.4" y1="247.6" x2="266.8" y2="247.6" stroke="#ee9272" stroke-width="0.6"/><line x1="157.9" y1="252.6" x2="175.2" y2="252.6" stroke="#8a8f8f" stroke-width="0.7"/><line x1="242.8" y1="252.6" x2="265.3" y2="252.6" stroke="#8a8f8f" stroke-width="0.7"/><path d="M156.9 252.6l2.2 -1.1v2.2z" fill="#333"/><path d="M266.3 252.6l-2.2 -1.1v2.2z" fill="#333"/><text x="209" y="254.2" font-size="4.15" text-anchor="middle" fill="#111" stroke="#111" stroke-width="0.14">chr2:219,917,001-219,928,458</text><text x="329.3" y="138.8" font-size="6.4" text-anchor="middle" font-weight="bold" font-style="italic" stroke="#000" stroke-width="0.08">GATA5</text><rect x="274.7" y="145.62" width="59.6" height="1.35" fill="#1c1c9c"/><rect x="327.6" y="144.5" width="3.4" height="3.6" fill="#1c1c9c"/><rect x="317.1" y="144.5" width="1" height="3.6" fill="#1c1c9c"/><path d="M279.2 145.5l-1 0.8l1 0.8M284.2 145.5l-1 0.8l1 0.8M289.2 145.5l-1 0.8l1 0.8M294.2 145.5l-1 0.8l1 0.8M299.2 145.5l-1 0.8l1 0.8M304.2 145.5l-1 0.8l1 0.8M309.2 145.5l-1 0.8l1 0.8M314.2 145.5l-1 0.8l1 0.8M319.2 145.5l-1 0.8l1 0.8M324.2 145.5l-1 0.8l1 0.8M329.2 145.5l-1 0.8l1 0.8" stroke="#6a6ad8" stroke-width="0.45" fill="none"/><rect x="323.2" y="155" width="16.3" height="2.6" fill="#1c1c9c"/><text x="273.8" y="162" font-size="2.8" fill="#666" stroke="#666" stroke-width="0.14">[0-100]</text><text x="273.8" y="207.9" font-size="2.8" fill="#666" stroke="#666" stroke-width="0.14">[0-2.00]</text><line x1="273.8" y1="169.5" x2="384.6" y2="169.5" stroke="#b03c50" stroke-width="1"/><path d="M274.5 170v-4.7M275.9 170v-4.1M277.8 170v-5.3M279.6 170v-5.8M281 170v-5.4M282.5 170v-6.2M284.1 170v-4M289.7 170v-3.5M292.7 170v-4.3M299 170v-2M300.9 170v-3.8M304.3 170v-3.6M306.1 170v-4.6M307.9 170v-5.4M309.2 170v-5.6M310.7 170v-4.5M312.5 170v-5M314 170v-5M315.7 170v-4M317.5 170v-5M318.8 170v-5.1M320.6 170v-3.9M325.1 170v-2.2M326.9 170v-3.3M328.6 170v-2.2M330 170v-2.8M332.9 170v-3.8M334.5 170v-3.9M337.5 170v-3.1M340.3 170v-3.4M343.9 170v-4.7M345.3 170v-3.4M348.6 170v-4.6M350.3 170v-4.4M351.8 170v-4.2M353.2 170v-4.8M360.1 170v-4.8M362 170v-5.7M363.9 170v-5.2M365.7 170v-5.5M367.5 170v-5.5M369.1 170v-4.6M370.9 170v-6.1M372.3 170v-4.3M374.1 170v-5.3M375.4 170v-5M377.2 170v-6.2M378.7 170v-4.4M380 170v-5.3M381.7 170v-5.2M383.5 170v-4.4" stroke="#740f2a" stroke-width="0.85" fill="none"/><line x1="273.8" y1="176.5" x2="384.6" y2="176.5" stroke="#b03c50" stroke-width="1"/><path d="M274.5 177v-4.1M275.9 177v-5.1M277.8 177v-5.7M281 177v-3.6M282.5 177v-5.3M285.9 177v-3.4M287.8 177v-3.8M289.7 177v-2.7M291.2 177v-3.1M292.7 177v-3.5M296 177v-3.2M297.3 177v-4M299 177v-2.1M300.9 177v-3.1M304.3 177v-4.3M307.9 177v-4.9M310.7 177v-4.8M312.5 177v-4.7M314 177v-5.5M315.7 177v-3.6M317.5 177v-5M318.8 177v-4.8M320.6 177v-5.4M322.4 177v-3M323.7 177v-3.6M325.1 177v-2.6M326.9 177v-2.8M328.6 177v-2.1M330 177v-2.2M337.5 177v-3.9M338.9 177v-3.6M340.3 177v-3.6M342.1 177v-4.6M343.9 177v-4.3M347 177v-4.7M348.6 177v-4.7M350.3 177v-3.8M354.9 177v-4.6M356.6 177v-3.1M358.5 177v-4.5M360.1 177v-3.8M362 177v-5.3M363.9 177v-5.9M365.7 177v-4.5M367.5 177v-5.2M369.1 177v-4.8M370.9 177v-5.2M372.3 177v-5.5M374.1 177v-6M375.4 177v-5.4M377.2 177v-5.4M378.7 177v-4.2M380 177v-5M381.7 177v-5.1M383.5 177v-4.6" stroke="#740f2a" stroke-width="0.85" fill="none"/><line x1="273.8" y1="183.5" x2="384.6" y2="183.5" stroke="#b03c50" stroke-width="1"/><path d="M275.9 184v-4.5M277.8 184v-4.5M279.6 184v-5.8M282.5 184v-5M289.7 184v-3.7M294.5 184v-3.1M296 184v-2.6M297.3 184v-2.8M299 184v-3M302.4 184v-3.5M306.1 184v-5.5M307.9 184v-5.2M310.7 184v-4.2M312.5 184v-4.6M314 184v-4.1M315.7 184v-3.4M318.8 184v-5.2M320.6 184v-5.2M332.9 184v-3.5M334.5 184v-3.1M337.5 184v-3.4M340.3 184v-3.5M345.3 184v-3.3M348.6 184v-4.8M354.9 184v-4.8M356.6 184v-4.2M358.5 184v-5M360.1 184v-3.8M362 184v-5.4M363.9 184v-5.3M365.7 184v-4.5M369.1 184v-4.6M370.9 184v-6M372.3 184v-5.7M374.1 184v-4.8M375.4 184v-6.2M377.2 184v-5.9M378.7 184v-3.4M380 184v-5.3M383.5 184v-4.8" stroke="#740f2a" stroke-width="0.85" fill="none"/><line x1="273.8" y1="190.5" x2="384.6" y2="190.5" stroke="#b03c50" stroke-width="1"/><path d="M274.5 191v-5.4M275.9 191v-5.1M277.8 191v-6.2M279.6 191v-5.8M281 191v-4.8M282.5 191v-6.1M284.1 191v-5.6M285.9 191v-5.5M287.8 191v-5.9M289.7 191v-4.6M291.2 191v-5.8M292.7 191v-5.4M294.5 191v-5M296 191v-4.4M297.3 191v-5.3M299 191v-4.7M300.9 191v-4.2M302.4 191v-6.2M304.3 191v-5M306.1 191v-5M307.9 191v-4.8M309.2 191v-3.6M310.7 191v-5M312.5 191v-4.3M314 191v-5.4M315.7 191v-5.1M317.5 191v-3.2M318.8 191v-6M320.6 191v-5.2M322.4 191v-5.6M323.7 191v-4.3M325.1 191v-4.8M326.9 191v-5.4M328.6 191v-4.7M330 191v-5.2M331.4 191v-3.7M332.9 191v-5.9M334.5 191v-5.6M336 191v-5.2M337.5 191v-6.2M338.9 191v-4.6M340.3 191v-5.4M342.1 191v-5.6M343.9 191v-3.7M345.3 191v-4.5M347 191v-4.8M348.6 191v-5.8M350.3 191v-4.5M351.8 191v-5.9M353.2 191v-5.4M354.9 191v-5.5M356.6 191v-5M358.5 191v-5.5M360.1 191v-4.7M362 191v-5.6M363.9 191v-5.5M365.7 191v-5.2M367.5 191v-5.5M369.1 191v-5.6M370.9 191v-5.9M372.3 191v-5.2M374.1 191v-4.9M375.4 191v-6.1M377.2 191v-5M378.7 191v-3.4M380 191v-5.3M381.7 191v-4.9M383.5 191v-4.9" stroke="#740f2a" stroke-width="0.85" fill="none"/><line x1="273.8" y1="197.5" x2="384.6" y2="197.5" stroke="#b03c50" stroke-width="1"/><path d="M274.5 198v-5.9M275.9 198v-4.7M277.8 198v-5.2M279.6 198v-5.1M281 198v-4.5M282.5 198v-4.6M284.1 198v-4.6M285.9 198v-5.9M287.8 198v-4.9M289.7 198v-5.7M291.2 198v-4.5M292.7 198v-6.2M294.5 198v-4.7M296 198v-4.1M297.3 198v-5.7M299 198v-3.1M300.9 198v-5.9M302.4 198v-6.1M304.3 198v-6.2M306.1 198v-5.1M307.9 198v-4.2M309.2 198v-4.5M310.7 198v-3.9M312.5 198v-3.3M314 198v-5M315.7 198v-5.7M317.5 198v-4.4M318.8 198v-5.1M320.6 198v-3.5M322.4 198v-6.2M323.7 198v-4.6M325.1 198v-4.1M326.9 198v-5M328.6 198v-5.2M330 198v-3.5M331.4 198v-4.8M332.9 198v-6.2M334.5 198v-6.2M336 198v-5.7M337.5 198v-6.2M338.9 198v-6M340.3 198v-3.4M342.1 198v-5.5M343.9 198v-3.5M345.3 198v-4.3M347 198v-5.6M348.6 198v-5.5M350.3 198v-4.6M351.8 198v-6.2M353.2 198v-6M354.9 198v-5.2M356.6 198v-3.9M358.5 198v-6M360.1 198v-4.9M362 198v-6.1M363.9 198v-4M365.7 198v-4.6M367.5 198v-5.3M369.1 198v-5.9M370.9 198v-5M372.3 198v-4.3M374.1 198v-5.5M375.4 198v-6.2M377.2 198v-5.4M378.7 198v-3.7M380 198v-5M381.7 198v-4.9M383.5 198v-3.7" stroke="#740f2a" stroke-width="0.85" fill="none"/><line x1="273.8" y1="204.5" x2="384.6" y2="204.5" stroke="#b03c50" stroke-width="1"/><path d="M274.5 205v-5.5M275.9 205v-3.9M277.8 205v-5.6M279.6 205v-5.2M281 205v-5.5M282.5 205v-5.8M284.1 205v-6M285.9 205v-5.3M287.8 205v-4.8M289.7 205v-4.2M291.2 205v-5.3M292.7 205v-5.7M294.5 205v-5.5M296 205v-4.2M297.3 205v-5.1M299 205v-4.4M300.9 205v-4.7M302.4 205v-5.5M304.3 205v-5.8M306.1 205v-5.2M307.9 205v-5M309.2 205v-5.7M310.7 205v-5.1M312.5 205v-5.4M314 205v-5.5M315.7 205v-3.7M317.5 205v-4.4M318.8 205v-6.2M320.6 205v-4.1M322.4 205v-5.2M323.7 205v-4.2M325.1 205v-5.6M326.9 205v-5.2M328.6 205v-4.7M330 205v-5.3M331.4 205v-4.8M332.9 205v-6M334.5 205v-5.2M336 205v-6M337.5 205v-5.8M338.9 205v-5.5M340.3 205v-3.3M342.1 205v-5.2M343.9 205v-4.9M345.3 205v-4.1M347 205v-5.1M348.6 205v-5.8M350.3 205v-5.5M351.8 205v-6.1M353.2 205v-5M354.9 205v-5.9M356.6 205v-4.8M358.5 205v-5.1M360.1 205v-6M362 205v-6M363.9 205v-4.4M365.7 205v-5.1M367.5 205v-5.5M369.1 205v-4M370.9 205v-5.8M372.3 205v-4.5M374.1 205v-5.5M375.4 205v-6.2M377.2 205v-6.2M378.7 205v-5.5M380 205v-4.2M381.7 205v-5.4M383.5 205v-5.3" stroke="#740f2a" stroke-width="0.85" fill="none"/><path d="M273.8 212.3L273.8 209.5L274.5 209.5L275.2 209.4L275.9 209.3L276.6 209.2L277.3 209.2L278 209.2L278.7 209.2L279.4 209.2L280.1 209.2L280.8 209.3L281.5 209.4L282.2 209.5L282.9 209.6L283.6 209.5L284.3 209.4L285 209.3L285.7 209.2L286.4 209.2L287.1 209.1L287.8 208.9L288.5 208.8L289.2 208.8L289.9 208.6L290.6 208.6L291.3 208.6L292 208.7L292.7 208.9L293.4 209.2L294.1 209.5L294.8 209.7L295.5 209.7L296.2 209.7L296.9 209.7L297.6 209.8L298.3 210L299 210.3L299.7 210.6L300.4 210.7L301.1 210.7L301.8 210.6L302.5 210.4L303.2 210.3L303.9 210.2L304.6 210.1L305.3 210.1L306 210L306.7 209.9L307.4 209.7L308.1 209.4L308.8 208.9L309.5 208.5L310.2 208.5L310.9 208.9L311.6 209.5L312.3 209.8L313 209.9L313.7 209.7L314.4 209.3L315.1 209L315.8 208.8L316.5 208.9L317.2 209.1L317.9 209.4L318.6 209.5L319.3 209.5L320 209.5L320.7 209.4L321.4 209.4L322.1 209.3L322.8 209L323.5 208.6L324.2 208.2L324.9 208L325.6 208.1L326.3 208.3L327 208.5L327.7 208.5L328.4 208.5L329.1 208.3L329.8 208.1L330.5 208L331.2 207.9L331.9 208L332.6 208.1L333.3 208.1L334 208.2L334.7 208.4L335.4 208.7L336.1 209L336.8 209.1L337.5 209L338.2 208.8L338.9 208.6L339.6 208.5L340.3 208.5L341 208.8L341.7 209.1L342.4 209.3L343.1 209.5L343.8 209.5L344.5 209.4L345.2 209.4L345.9 209.6L346.6 209.8L347.3 210.1L348 210.4L348.7 210.5L349.4 210.4L350.1 210.3L350.8 210.1L351.5 210L352.2 209.9L352.9 209.9L353.6 210L354.3 210L355 209.9L355.7 209.6L356.4 209L357.1 208.4L357.8 208.1L358.5 208.1L359.2 208.5L359.9 208.9L360.6 209.1L361.3 209L362 209L362.7 209L363.4 209L364.1 209L364.8 208.8L365.5 208.8L366.2 208.8L366.9 209L367.6 209.3L368.3 209.4L369 209.3L369.7 209.1L370.4 208.8L371.1 208.3L371.8 207.7L372.5 207.4L373.2 207.5L373.9 208L374.6 208.6L375.3 209.1L376 209.3L376.7 209.3L377.4 209.1L378.1 209L378.8 209L379.5 209L380.2 208.9L380.9 208.7L381.6 208.7L382.3 208.9L383 209.3L383.7 209.8L384.4 210.2L384.6 212.3Z" fill="#e8622f"/><line x1="273.8" y1="212.6" x2="384.6" y2="212.6" stroke="#ee9272" stroke-width="0.6"/><path d="M273.8 219.3L273.8 216.3L274.5 216.2L275.2 216L275.9 215.8L276.6 215.7L277.3 215.7L278 216.1L278.7 216.5L279.4 216.7L280.1 216.8L280.8 216.6L281.5 216.5L282.2 216.3L282.9 216.2L283.6 216.2L284.3 216.1L285 216.1L285.7 216L286.4 216.1L287.1 216.2L287.8 216.4L288.5 216.5L289.2 216.6L289.9 216.6L290.6 216.7L291.3 216.8L292 216.9L292.7 217.1L293.4 217.4L294.1 217.6L294.8 217.7L295.5 217.8L296.2 217.8L296.9 217.8L297.6 217.9L298.3 217.9L299 217.9L299.7 217.9L300.4 217.8L301.1 217.7L301.8 217.5L302.5 217.4L303.2 217.2L303.9 217L304.6 216.8L305.3 216.5L306 216.3L306.7 216.1L307.4 216.1L308.1 216.3L308.8 216.5L309.5 216.7L310.2 216.7L310.9 216.5L311.6 216.2L312.3 216L313 216L313.7 215.9L314.4 215.9L315.1 215.8L315.8 215.8L316.5 215.8L317.2 215.9L317.9 215.9L318.6 215.8L319.3 215.9L320 216.1L320.7 216.3L321.4 216.4L322.1 216.3L322.8 216.2L323.5 215.9L324.2 215.7L324.9 215.6L325.6 215.7L326.3 216.1L327 216.4L327.7 216.6L328.4 216.4L329.1 216L329.8 215.5L330.5 215.1L331.2 215L331.9 214.8L332.6 214.5L333.3 214.2L334 214.2L334.7 214.5L335.4 215L336.1 215.5L336.8 215.7L337.5 215.7L338.2 215.8L338.9 216L339.6 216L340.3 216.1L341 216.2L341.7 216.3L342.4 216.4L343.1 216.6L343.8 216.7L344.5 216.9L345.2 217.1L345.9 217.2L346.6 217L347.3 216.7L348 216.4L348.7 216.1L349.4 215.9L350.1 215.6L350.8 215.3L351.5 215.1L352.2 215L352.9 215L353.6 215L354.3 215L355 215L355.7 215.4L356.4 215.9L357.1 216.4L357.8 216.5L358.5 216.4L359.2 215.8L359.9 215.1L360.6 214.7L361.3 214.6L362 214.6L362.7 214.6L363.4 214.5L364.1 214.5L364.8 214.9L365.5 215.7L366.2 216.3L366.9 216.6L367.6 216.8L368.3 216.7L369 216.3L369.7 216L370.4 215.8L371.1 215.6L371.8 215.5L372.5 215.6L373.2 215.6L373.9 215.4L374.6 215.2L375.3 215.1L376 215.2L376.7 215.3L377.4 215.4L378.1 215.5L378.8 215.6L379.5 216L380.2 216.5L380.9 217L381.6 217.2L382.3 217.3L383 217.1L383.7 216.9L384.4 216.7L384.6 219.3Z" fill="#e8622f"/><line x1="273.8" y1="219.6" x2="384.6" y2="219.6" stroke="#ee9272" stroke-width="0.6"/><path d="M273.8 226.3L273.8 223.9L274.5 223.9L275.2 223.7L275.9 223.4L276.6 223.3L277.3 223.3L278 223.5L278.7 223.7L279.4 223.9L280.1 223.9L280.8 223.7L281.5 223.3L282.2 223L282.9 222.9L283.6 223L284.3 223.2L285 223.3L285.7 223.4L286.4 223.5L287.1 223.7L287.8 223.9L288.5 224.1L289.2 224.1L289.9 223.9L290.6 223.7L291.3 223.6L292 223.7L292.7 223.9L293.4 224.1L294.1 224.4L294.8 224.5L295.5 224.6L296.2 224.7L296.9 224.7L297.6 224.8L298.3 224.8L299 224.6L299.7 224.5L300.4 224.2L301.1 224L301.8 223.8L302.5 223.6L303.2 223.4L303.9 223.2L304.6 223L305.3 222.8L306 222.6L306.7 222.4L307.4 222.4L308.1 222.3L308.8 222.2L309.5 222.2L310.2 222.3L310.9 222.5L311.6 222.8L312.3 223L313 223.1L313.7 223L314.4 222.9L315.1 222.8L315.8 222.7L316.5 222.8L317.2 223L317.9 223.2L318.6 223.3L319.3 223.3L320 223.3L320.7 223.2L321.4 223.2L322.1 223.1L322.8 223.1L323.5 223L324.2 222.9L324.9 222.8L325.6 222.7L326.3 222.6L327 222.4L327.7 222.3L328.4 222.4L329.1 222.8L329.8 223.2L330.5 223.4L331.2 223.4L331.9 223.4L332.6 223.3L333.3 223.3L334 223.4L334.7 223.5L335.4 223.7L336.1 223.8L336.8 223.9L337.5 224L338.2 223.9L338.9 223.8L339.6 223.8L340.3 223.8L341 223.9L341.7 224L342.4 224.1L343.1 224.1L343.8 223.9L344.5 223.6L345.2 223.3L345.9 223.3L346.6 223.3L347.3 223.5L348 223.7L348.7 223.7L349.4 223.6L350.1 223.5L350.8 223.5L351.5 223.5L352.2 223.4L352.9 223.2L353.6 223L354.3 222.8L355 222.8L355.7 222.7L356.4 222.4L357.1 222.2L357.8 222.1L358.5 222.4L359.2 223L359.9 223.5L360.6 223.8L361.3 223.7L362 223.4L362.7 222.9L363.4 222.4L364.1 222.3L364.8 222.4L365.5 222.9L366.2 223.3L366.9 223.6L367.6 223.7L368.3 223.5L369 223L369.7 222.6L370.4 222.3L371.1 222L371.8 221.6L372.5 221.5L373.2 221.6L373.9 222.2L374.6 222.8L375.3 223.3L376 223.4L376.7 223.1L377.4 222.6L378.1 222.1L378.8 221.9L379.5 222L380.2 222.2L380.9 222.4L381.6 222.6L382.3 222.6L383 222.7L383.7 222.8L384.4 222.9L384.6 226.3Z" fill="#e8622f"/><line x1="273.8" y1="226.6" x2="384.6" y2="226.6" stroke="#ee9272" stroke-width="0.6"/><path d="M273.8 233.3L273.8 233L274.5 233L275.2 233.1L275.9 233.1L276.6 233.1L277.3 233.1L278 233.1L278.7 233L279.4 232.9L280.1 232.8L280.8 232.8L281.5 232.7L282.2 232.7L282.9 232.7L283.6 232.6L284.3 232.5L285 232.5L285.7 232.5L286.4 232.5L287.1 232.6L287.8 232.7L288.5 232.7L289.2 232.7L289.9 232.7L290.6 232.7L291.3 232.7L292 232.7L292.7 232.6L293.4 232.6L294.1 232.5L294.8 232.5L295.5 232.6L296.2 232.7L296.9 232.8L297.6 232.9L298.3 232.9L299 232.9L299.7 232.9L300.4 232.9L301.1 232.9L301.8 233L302.5 233.1L303.2 233.1L303.9 233.2L304.6 233.2L305.3 233.2L306 233.2L306.7 233.2L307.4 233.2L308.1 233.2L308.8 233.1L309.5 233.1L310.2 233.1L310.9 233.1L311.6 233L312.3 233L313 232.9L313.7 232.9L314.4 232.8L315.1 232.7L315.8 232.7L316.5 232.6L317.2 232.4L317.9 232.3L318.6 232.2L319.3 232.3L320 232.3L320.7 232.3L321.4 232.4L322.1 232.4L322.8 232.6L323.5 232.7L324.2 232.9L324.9 232.9L325.6 232.9L326.3 232.7L327 232.6L327.7 232.5L328.4 232.5L329.1 232.6L329.8 232.7L330.5 232.7L331.2 232.8L331.9 232.8L332.6 232.8L333.3 232.9L334 232.9L334.7 232.9L335.4 232.9L336.1 232.9L336.8 232.9L337.5 232.9L338.2 232.9L338.9 232.9L339.6 232.9L340.3 232.9L341 232.9L341.7 232.9L342.4 232.9L343.1 232.9L343.8 232.9L344.5 232.9L345.2 232.9L345.9 232.9L346.6 232.9L347.3 232.9L348 232.9L348.7 232.9L349.4 233L350.1 233L350.8 233.1L351.5 233.1L352.2 233.1L352.9 233.1L353.6 233.1L354.3 233.1L355 233.1L355.7 233.1L356.4 233.1L357.1 233.1L357.8 233.1L358.5 233.1L359.2 233L359.9 233L360.6 232.9L361.3 232.9L362 233L362.7 233L363.4 233.1L364.1 233.1L364.8 233.1L365.5 233.1L366.2 233.1L366.9 233.1L367.6 233.1L368.3 233.1L369 233L369.7 233L370.4 233L371.1 233L371.8 233L372.5 233L373.2 233L373.9 233.1L374.6 233.1L375.3 233.2L376 233.2L376.7 233.1L377.4 233.1L378.1 233L378.8 232.9L379.5 232.9L380.2 232.9L380.9 232.9L381.6 232.9L382.3 232.9L383 232.9L383.7 232.9L384.4 233L384.6 233.3Z" fill="#e8622f"/><line x1="273.8" y1="233.6" x2="384.6" y2="233.6" stroke="#ee9272" stroke-width="0.6"/><path d="M273.8 240.3L273.8 240.2L274.5 240.2L275.2 240.1L275.9 240.1L276.6 240.1L277.3 240L278 240L278.7 240L279.4 239.9L280.1 239.9L280.8 239.9L281.5 239.8L282.2 239.8L282.9 239.8L283.6 239.7L284.3 239.7L285 239.7L285.7 239.7L286.4 239.7L287.1 239.8L287.8 239.9L288.5 239.9L289.2 239.9L289.9 239.9L290.6 239.8L291.3 239.7L292 239.7L292.7 239.6L293.4 239.6L294.1 239.6L294.8 239.5L295.5 239.5L296.2 239.5L296.9 239.4L297.6 239.3L298.3 239.3L299 239.4L299.7 239.5L300.4 239.5L301.1 239.5L301.8 239.6L302.5 239.6L303.2 239.7L303.9 239.7L304.6 239.7L305.3 239.6L306 239.6L306.7 239.5L307.4 239.5L308.1 239.5L308.8 239.4L309.5 239.4L310.2 239.4L310.9 239.3L311.6 239.1L312.3 239L313 238.9L313.7 239.1L314.4 239.3L315.1 239.5L315.8 239.6L316.5 239.6L317.2 239.7L317.9 239.8L318.6 239.8L319.3 239.8L320 239.8L320.7 239.8L321.4 239.7L322.1 239.8L322.8 239.8L323.5 239.8L324.2 239.9L324.9 239.9L325.6 239.9L326.3 239.9L327 239.9L327.7 239.9L328.4 239.9L329.1 239.9L329.8 240L330.5 240L331.2 240L331.9 240L332.6 240L333.3 240L334 240L334.7 240L335.4 240.1L336.1 240.1L336.8 240.1L337.5 240.1L338.2 240.1L338.9 240.1L339.6 240.1L340.3 240.1L341 240.1L341.7 240.1L342.4 240.2L343.1 240.2L343.8 240.1L344.5 240.1L345.2 240.1L345.9 240L346.6 240L347.3 240L348 240.1L348.7 240.1L349.4 240.1L350.1 240.1L350.8 240.1L351.5 240.1L352.2 240.1L352.9 240.1L353.6 240.2L354.3 240.2L355 240.2L355.7 240.1L356.4 240L357.1 239.8L357.8 239.7L358.5 239.7L359.2 239.8L359.9 239.8L360.6 239.9L361.3 239.8L362 239.7L362.7 239.5L363.4 239.3L364.1 239.3L364.8 239.3L365.5 239.3L366.2 239.3L366.9 239.3L367.6 239.3L368.3 239.4L369 239.4L369.7 239.4L370.4 239.4L371.1 239.4L371.8 239.5L372.5 239.5L373.2 239.5L373.9 239.5L374.6 239.5L375.3 239.5L376 239.5L376.7 239.6L377.4 239.7L378.1 239.8L378.8 239.8L379.5 239.8L380.2 239.8L380.9 239.8L381.6 239.8L382.3 239.8L383 239.9L383.7 239.9L384.4 239.9L384.6 240.3Z" fill="#e8622f"/><line x1="273.8" y1="240.6" x2="384.6" y2="240.6" stroke="#ee9272" stroke-width="0.6"/><path d="M273.8 247.3L273.8 247.1L274.5 247.1L275.2 247L275.9 246.8L276.6 246.7L277.3 246.7L278 246.8L278.7 246.9L279.4 246.9L280.1 246.9L280.8 246.9L281.5 246.9L282.2 246.9L282.9 246.9L283.6 246.9L284.3 246.9L285 246.9L285.7 246.9L286.4 246.9L287.1 246.9L287.8 246.9L288.5 246.9L289.2 246.9L289.9 246.9L290.6 246.9L291.3 246.9L292 246.9L292.7 247L293.4 247L294.1 247L294.8 247L295.5 247L296.2 247L296.9 246.9L297.6 246.9L298.3 246.9L299 247L299.7 247.1L300.4 247.1L301.1 247.1L301.8 247.1L302.5 247L303.2 247L303.9 247L304.6 247L305.3 247L306 246.9L306.7 246.9L307.4 246.9L308.1 246.9L308.8 247L309.5 247L310.2 247L310.9 247L311.6 247L312.3 247.1L313 247.1L313.7 247.1L314.4 247.1L315.1 247.2L315.8 247.2L316.5 247.2L317.2 247.2L317.9 247.2L318.6 247.2L319.3 247.2L320 247.2L320.7 247.1L321.4 247.1L322.1 247.1L322.8 247.1L323.5 247.1L324.2 247.1L324.9 247L325.6 247.1L326.3 247.1L327 247.1L327.7 247.1L328.4 247.1L329.1 247.1L329.8 247.1L330.5 247.1L331.2 247.1L331.9 247.1L332.6 247L333.3 247L334 246.9L334.7 246.9L335.4 246.9L336.1 246.8L336.8 246.8L337.5 246.7L338.2 246.6L338.9 246.5L339.6 246.5L340.3 246.5L341 246.5L341.7 246.4L342.4 246.4L343.1 246.5L343.8 246.6L344.5 246.7L345.2 246.7L345.9 246.8L346.6 246.9L347.3 247L348 247L348.7 247.1L349.4 247.1L350.1 247.1L350.8 247.1L351.5 247.1L352.2 247.1L352.9 247.1L353.6 247L354.3 246.9L355 246.9L355.7 247L356.4 247L357.1 247.1L357.8 247.1L358.5 247.1L359.2 247.1L359.9 247L360.6 247L361.3 247L362 247.1L362.7 247.1L363.4 247.1L364.1 247.1L364.8 247.1L365.5 247L366.2 246.9L366.9 246.9L367.6 246.9L368.3 247L369 247L369.7 247L370.4 247L371.1 247L371.8 247L372.5 247L373.2 247L373.9 246.9L374.6 246.8L375.3 246.8L376 246.7L376.7 246.7L377.4 246.8L378.1 246.8L378.8 246.8L379.5 246.7L380.2 246.7L380.9 246.6L381.6 246.5L382.3 246.5L383 246.5L383.7 246.5L384.4 246.5L384.6 247.3Z" fill="#e8622f"/><line x1="273.8" y1="247.6" x2="384.6" y2="247.6" stroke="#ee9272" stroke-width="0.6"/><line x1="275.3" y1="252.6" x2="297.3" y2="252.6" stroke="#8a8f8f" stroke-width="0.7"/><line x1="362.7" y1="252.6" x2="383.1" y2="252.6" stroke="#8a8f8f" stroke-width="0.7"/><path d="M274.3 252.6l2.2 -1.1v2.2z" fill="#333"/><path d="M384.1 252.6l-2.2 -1.1v2.2z" fill="#333"/><text x="330" y="254.2" font-size="4.15" text-anchor="middle" fill="#111" stroke="#111" stroke-width="0.14">chr20:61,042,040-61,059,338</text><text x="442.6" y="138.8" font-size="6.4" text-anchor="middle" font-weight="bold" font-style="italic" stroke="#000" stroke-width="0.08">CUX2</text><rect x="422.2" y="145.32" width="79.3" height="1.35" fill="#1c1c9c"/><rect x="422.2" y="144.2" width="1" height="3.6" fill="#1c1c9c"/><path d="M425.7 145.2l1 0.8l-1 0.8M430.7 145.2l1 0.8l-1 0.8M435.7 145.2l1 0.8l-1 0.8M440.7 145.2l1 0.8l-1 0.8M445.7 145.2l1 0.8l-1 0.8M450.7 145.2l1 0.8l-1 0.8M455.7 145.2l1 0.8l-1 0.8M460.7 145.2l1 0.8l-1 0.8M465.7 145.2l1 0.8l-1 0.8M470.7 145.2l1 0.8l-1 0.8M475.7 145.2l1 0.8l-1 0.8M480.7 145.2l1 0.8l-1 0.8M485.7 145.2l1 0.8l-1 0.8M490.7 145.2l1 0.8l-1 0.8M495.7 145.2l1 0.8l-1 0.8" stroke="#6a6ad8" stroke-width="0.45" fill="none"/><rect x="410.6" y="154.3" width="5.9" height="2.6" fill="#1c1c9c"/><rect x="422.2" y="154.3" width="19.7" height="2.6" fill="#1c1c9c"/><rect x="460.9" y="154.3" width="3.6" height="2.6" fill="#1c1c9c"/><text x="391.5" y="162" font-size="2.8" fill="#666" stroke="#666" stroke-width="0.14">[0-100]</text><text x="391.5" y="207.9" font-size="2.8" fill="#666" stroke="#666" stroke-width="0.14">[0-2.00]</text><line x1="391.5" y1="169.5" x2="501.7" y2="169.5" stroke="#b03c50" stroke-width="1"/><path d="M392.2 170v-3.9M393.9 170v-3.7M397.7 170v-5.3M401.9 170v-1.4M405.5 170v-4.9M407.2 170v-1M410.8 170v-1.7M412.8 170v-1.9M466.8 170v-5.2M468.9 170v-6.1M470.6 170v-3.3M472.6 170v-3.6M474.5 170v-4.3M476 170v-5.4M477.6 170v-6M479.7 170v-5.4M481.9 170v-5.5M483.8 170v-5.7M485.5 170v-4.9M487.2 170v-5.1M489.3 170v-5.8M491.5 170v-5.2M493.7 170v-5M495.9 170v-6M497.7 170v-5.4M392.3 170v-5.4M393.6 170v-5.1M397.4 170v-5.3M401 170v-3.2M405.2 170v-5.3M406.3 170v-4.5" stroke="#740f2a" stroke-width="1.1" fill="none"/><line x1="391.5" y1="176.5" x2="501.7" y2="176.5" stroke="#b03c50" stroke-width="1"/><path d="M392.2 177v-5.3M393.9 177v-5M397.7 177v-4.7M401.9 177v-1.2M405.5 177v-4.1M407.2 177v-1.3M410.8 177v-1.6M412.8 177v-1.7M449.7 177v-1.2M466.8 177v-5.8M468.9 177v-5.9M470.6 177v-5.4M472.6 177v-5.4M474.5 177v-5.5M476 177v-4.6M477.6 177v-5.6M479.7 177v-3.5M481.9 177v-6M483.8 177v-5.8M485.5 177v-4.8M487.2 177v-5.6M489.3 177v-5.1M491.5 177v-5.2M493.7 177v-4.7M495.9 177v-4.7M497.7 177v-4.3M392.3 177v-5.3M393.6 177v-5M397.4 177v-5.3M401 177v-3.3M405.2 177v-5.1M406.3 177v-4" stroke="#740f2a" stroke-width="1.1" fill="none"/><line x1="391.5" y1="183.5" x2="501.7" y2="183.5" stroke="#b03c50" stroke-width="1"/><path d="M392.2 184v-3.8M393.9 184v-4.7M397.7 184v-4.6M401.9 184v-1.1M405.5 184v-4.8M407.2 184v-1.2M410.8 184v-1.6M412.8 184v-1.9M466.8 184v-5.8M468.9 184v-5.3M470.6 184v-4.4M472.6 184v-4.9M474.5 184v-4.6M476 184v-4.2M477.6 184v-6.1M479.7 184v-4.4M481.9 184v-5.6M483.8 184v-6.1M485.5 184v-6M487.2 184v-6.1M489.3 184v-6.2M491.5 184v-4.7M493.7 184v-6M495.9 184v-4.7M497.7 184v-5.6M392.3 184v-5.2M393.6 184v-5.1M397.4 184v-5.4M401 184v-3.1M405.2 184v-5M406.3 184v-4.2" stroke="#740f2a" stroke-width="1.1" fill="none"/><line x1="391.5" y1="190.5" x2="501.7" y2="190.5" stroke="#b03c50" stroke-width="1"/><path d="M392.2 191v-5.8M393.9 191v-4.5M397.7 191v-5.4M401.9 191v-1.1M405.5 191v-5.4M407.2 191v-1.2M410.8 191v-1.4M412.8 191v-2M437.9 191v-4.2M439.7 191v-2.2M441.6 191v-3.9M443.8 191v-4.1M446.1 191v-3.6M447.9 191v-3.7M449.7 191v-4M451.9 191v-3.7M453.9 191v-3.2M456 191v-2.9M457.5 191v-3.4M459.1 191v-3.6M461.3 191v-3.2M463.4 191v-3.4M464.9 191v-3.6M466.8 191v-6.1M468.9 191v-5M470.6 191v-3.6M472.6 191v-5.6M474.5 191v-6.1M476 191v-4.9M477.6 191v-5.3M479.7 191v-3.6M481.9 191v-4M483.8 191v-4.6M485.5 191v-4.2M487.2 191v-5M489.3 191v-5.8M491.5 191v-6.1M493.7 191v-5.7M495.9 191v-5.7M497.7 191v-4.8M392.3 191v-5.3M393.6 191v-5M397.4 191v-4.9M401 191v-3.4M405.2 191v-5.1M406.3 191v-4.1" stroke="#740f2a" stroke-width="1.1" fill="none"/><line x1="391.5" y1="197.5" x2="501.7" y2="197.5" stroke="#b03c50" stroke-width="1"/><path d="M392.2 198v-4.2M393.9 198v-5.3M397.7 198v-5.6M401.9 198v-1.4M405.5 198v-5.7M407.2 198v-1.1M410.8 198v-1.2M412.8 198v-2M437.9 198v-3.4M439.7 198v-3.6M441.6 198v-3.8M443.8 198v-3.7M446.1 198v-2.9M447.9 198v-3.4M449.7 198v-4.3M451.9 198v-3.4M453.9 198v-3.8M456 198v-3.5M457.5 198v-4.1M459.1 198v-3.4M461.3 198v-2.4M463.4 198v-3.7M464.9 198v-2.3M466.8 198v-5.4M468.9 198v-4.6M470.6 198v-5.5M472.6 198v-4.9M474.5 198v-5.1M476 198v-5.3M477.6 198v-5.9M479.7 198v-5.4M481.9 198v-4.6M483.8 198v-5.7M485.5 198v-4.5M487.2 198v-6.2M489.3 198v-6.2M491.5 198v-5.4M493.7 198v-5.2M495.9 198v-4.1M497.7 198v-4.5M392.3 198v-5.4M393.6 198v-5.2M397.4 198v-4.8M401 198v-3.3M405.2 198v-5.1M406.3 198v-4.5" stroke="#740f2a" stroke-width="1.1" fill="none"/><line x1="391.5" y1="204.5" x2="501.7" y2="204.5" stroke="#b03c50" stroke-width="1"/><path d="M392.2 205v-5.9M393.9 205v-5.4M397.7 205v-3.2M401.9 205v-1.3M405.5 205v-4.7M407.2 205v-1.4M410.8 205v-1.2M412.8 205v-1.7M437.9 205v-3.4M439.7 205v-3.4M441.6 205v-2.7M443.8 205v-3.7M446.1 205v-2.1M447.9 205v-3M449.7 205v-3.4M451.9 205v-3.7M453.9 205v-3.8M456 205v-3.3M457.5 205v-4.1M459.1 205v-3.5M461.3 205v-3.8M463.4 205v-3.4M464.9 205v-3.5M466.8 205v-6.2M468.9 205v-5.5M470.6 205v-5M472.6 205v-4.9M474.5 205v-6.1M476 205v-3.3M477.6 205v-5.2M479.7 205v-3.6M481.9 205v-4.5M483.8 205v-4.8M485.5 205v-4.2M487.2 205v-4.7M489.3 205v-5.1M491.5 205v-5.3M493.7 205v-5.1M495.9 205v-4.9M497.7 205v-5.4M392.3 205v-5.5M393.6 205v-5.3M397.4 205v-5.1M401 205v-3.4M405.2 205v-4.9M406.3 205v-3.9" stroke="#740f2a" stroke-width="1.1" fill="none"/><path d="M391.5 212.3L391.5 210.9L392.2 210.8L392.9 210.5L393.6 210.2L394.3 210L395 210L395.7 210.1L396.4 210.3L397.1 210.4L397.8 210.4L398.5 210.4L399.2 210.4L399.9 210.4L400.6 210.3L401.3 210.4L402 210.5L402.7 210.6L403.4 210.6L404.1 210.5L404.8 210.6L405.5 210.6L406.2 210.6L406.9 210.6L407.6 210.5L408.3 210.4L409 210.4L409.7 210.3L410.4 210.3L411.1 210.2L411.8 210.1L412.5 210L413.2 210.1L413.9 210.2L414.6 210.4L415.3 210.7L416 210.8L416.7 210.8L417.4 210.8L418.1 210.9L418.8 210.9L419.5 211.1L420.2 211.2L420.9 211.4L421.6 211.4L422.3 211.4L423 211.4L423.7 211.4L424.4 211.4L425.1 211.4L425.8 211.4L426.5 211.4L427.2 211.4L427.9 211.4L428.6 211.2L429.3 211L430 210.8L430.7 210.6L431.4 210.4L432.1 210.3L432.8 210.2L433.5 210L434.2 209.7L434.9 209.3L435.6 208.8L436.3 208.5L437 208.3L437.7 208L438.4 207.7L439.1 207.5L439.8 207.3L440.5 207.4L441.2 207.6L441.9 207.8L442.6 207.9L443.3 208L444 208.3L444.7 208.6L445.4 208.7L446.1 208.6L446.8 208.2L447.5 207.7L448.2 207.4L448.9 207.6L449.6 208.2L450.3 208.8L451 209.3L451.7 209.5L452.4 209.5L453.1 209.4L453.8 209.4L454.5 209.7L455.2 210.1L455.9 210.6L456.6 210.7L457.3 210.8L458 210.8L458.7 210.8L459.4 210.9L460.1 210.9L460.8 210.9L461.5 210.7L462.2 210.3L462.9 210L463.6 209.8L464.3 210L465 210.3L465.7 210.6L466.4 210.7L467.1 210.7L467.8 210.6L468.5 210.5L469.2 210.5L469.9 210.4L470.6 210.3L471.3 210.2L472 210L472.7 210L473.4 210.2L474.1 210.5L474.8 210.7L475.5 210.7L476.2 210.7L476.9 210.4L477.6 210.1L478.3 209.9L479 209.9L479.7 210.2L480.4 210.5L481.1 210.7L481.8 210.7L482.5 210.7L483.2 210.7L483.9 210.6L484.6 210.6L485.3 210.5L486 210.2L486.7 209.9L487.4 209.7L488.1 209.8L488.8 210.2L489.5 210.6L490.2 210.8L490.9 210.8L491.6 210.7L492.3 210.4L493 210.1L493.7 210.1L494.4 210.3L495.1 210.6L495.8 210.8L496.5 210.8L497.2 210.8L497.9 210.7L498.6 210.6L499.3 210.6L500 210.5L500.7 210.6L501.4 210.6L501.7 212.3Z" fill="#e8622f"/><line x1="391.5" y1="212.6" x2="501.7" y2="212.6" stroke="#ee9272" stroke-width="0.6"/><path d="M391.5 219.3L391.5 217.2L392.2 217.2L392.9 217.2L393.6 217.3L394.3 217.4L395 217.3L395.7 217L396.4 216.7L397.1 216.4L397.8 216.4L398.5 216.7L399.2 217.1L399.9 217.3L400.6 217.4L401.3 217.4L402 217.2L402.7 217.1L403.4 216.9L404.1 216.9L404.8 217L405.5 217.1L406.2 217.1L406.9 217.2L407.6 217.2L408.3 217.2L409 217.3L409.7 217.3L410.4 217.3L411.1 217.4L411.8 217.5L412.5 217.5L413.2 217.5L413.9 217.4L414.6 217.4L415.3 217.5L416 217.7L416.7 217.8L417.4 218L418.1 218.1L418.8 218.1L419.5 218.1L420.2 218.1L420.9 218L421.6 218L422.3 218L423 217.9L423.7 217.9L424.4 217.9L425.1 217.8L425.8 217.8L426.5 217.7L427.2 217.6L427.9 217.6L428.6 217.4L429.3 217.2L430 217L430.7 216.8L431.4 216.4L432.1 216.1L432.8 215.7L433.5 215.4L434.2 215.2L434.9 215.4L435.6 215.5L436.3 215.6L437 215.5L437.7 215.2L438.4 215L439.1 214.8L439.8 214.7L440.5 214.8L441.2 215L441.9 215.2L442.6 215.3L443.3 215.2L444 214.9L444.7 214.7L445.4 214.5L446.1 214.7L446.8 215.2L447.5 215.7L448.2 216L448.9 216L449.6 215.8L450.3 215.5L451 215.2L451.7 215.1L452.4 215.4L453.1 216L453.8 216.4L454.5 216.8L455.2 217L455.9 217.1L456.6 216.8L457.3 216.6L458 216.7L458.7 217L459.4 217.3L460.1 217.5L460.8 217.5L461.5 217.4L462.2 217.2L462.9 217L463.6 217L464.3 217L465 217.1L465.7 217.2L466.4 217.3L467.1 217.2L467.8 217.1L468.5 217L469.2 216.9L469.9 216.9L470.6 217.1L471.3 217.4L472 217.5L472.7 217.6L473.4 217.4L474.1 217.1L474.8 216.7L475.5 216.5L476.2 216.6L476.9 216.9L477.6 217.1L478.3 217.2L479 217.2L479.7 217.2L480.4 217.1L481.1 217L481.8 217L482.5 216.9L483.2 216.7L483.9 216.6L484.6 216.5L485.3 216.4L486 216.1L486.7 215.8L487.4 215.7L488.1 215.7L488.8 216L489.5 216.3L490.2 216.5L490.9 216.5L491.6 216.6L492.3 216.7L493 216.8L493.7 216.9L494.4 217.2L495.1 217.4L495.8 217.6L496.5 217.7L497.2 217.8L497.9 217.8L498.6 217.8L499.3 217.8L500 217.8L500.7 217.8L501.4 217.8L501.7 219.3Z" fill="#e8622f"/><line x1="391.5" y1="219.6" x2="501.7" y2="219.6" stroke="#ee9272" stroke-width="0.6"/><path d="M391.5 226.3L391.5 225.1L392.2 225L392.9 224.6L393.6 224.2L394.3 223.8L395 223.7L395.7 223.8L396.4 224L397.1 224.1L397.8 224L398.5 223.8L399.2 223.5L399.9 223.2L400.6 223.1L401.3 222.8L402 222.5L402.7 222.1L403.4 221.9L404.1 222L404.8 222.3L405.5 222.6L406.2 222.9L406.9 223L407.6 222.9L408.3 222.8L409 222.8L409.7 222.9L410.4 223.1L411.1 223.3L411.8 223.5L412.5 223.6L413.2 223.6L413.9 223.6L414.6 223.7L415.3 223.9L416 224.1L416.7 224.3L417.4 224.6L418.1 224.8L418.8 224.8L419.5 224.8L420.2 224.9L420.9 224.9L421.6 224.9L422.3 224.9L423 225L423.7 225L424.4 225.1L425.1 225L425.8 224.9L426.5 224.8L427.2 224.8L427.9 224.8L428.6 224.5L429.3 224.2L430 223.9L430.7 223.6L431.4 223.6L432.1 223.9L432.8 224.1L433.5 224.1L434.2 223.8L434.9 223.3L435.6 222.6L436.3 222.1L437 222L437.7 222.1L438.4 222.2L439.1 222.3L439.8 222.1L440.5 222.1L441.2 222.2L441.9 222.3L442.6 222.3L443.3 222.3L444 222.3L444.7 222.4L445.4 222.4L446.1 222.2L446.8 221.7L447.5 221L448.2 220.6L448.9 220.7L449.6 221.1L450.3 221.5L451 221.9L451.7 222.1L452.4 222.6L453.1 223.4L453.8 223.9L454.5 224.3L455.2 224.6L455.9 224.9L456.6 224.9L457.3 224.8L458 224.8L458.7 224.9L459.4 225L460.1 225L460.8 225L461.5 225L462.2 224.9L462.9 224.9L463.6 224.9L464.3 224.9L465 225L465.7 225L466.4 225.1L467.1 225.1L467.8 225L468.5 224.9L469.2 224.9L469.9 224.9L470.6 224.9L471.3 225L472 225.1L472.7 225.1L473.4 225L474.1 225L474.8 225L475.5 225L476.2 224.9L476.9 224.7L477.6 224.4L478.3 224.2L479 224.2L479.7 224L480.4 223.9L481.1 223.8L481.8 223.7L482.5 223.7L483.2 223.8L483.9 223.8L484.6 223.8L485.3 223.9L486 224.2L486.7 224.4L487.4 224.5L488.1 224.3L488.8 224L489.5 223.6L490.2 223.3L490.9 223.4L491.6 223.5L492.3 223.6L493 223.8L493.7 223.9L494.4 224L495.1 224L495.8 224L496.5 224.1L497.2 224.2L497.9 224.5L498.6 224.7L499.3 224.9L500 224.9L500.7 224.9L501.4 224.8L501.7 226.3Z" fill="#e8622f"/><line x1="391.5" y1="226.6" x2="501.7" y2="226.6" stroke="#ee9272" stroke-width="0.6"/><path d="M391.5 233.3L391.5 231.9L392.2 232L392.9 232.2L393.6 232.3L394.3 232.4L395 232.4L395.7 232.2L396.4 231.9L397.1 231.7L397.8 231.6L398.5 231.5L399.2 231.4L399.9 231.2L400.6 231.2L401.3 231.2L402 231.2L402.7 231.3L403.4 231.3L404.1 231.6L404.8 232.1L405.5 232.5L406.2 232.7L406.9 232.8L407.6 232.8L408.3 232.9L409 232.9L409.7 233L410.4 232.9L411.1 232.8L411.8 232.7L412.5 232.6L413.2 232.7L413.9 232.7L414.6 232.7L415.3 232.7L416 232.7L416.7 232.8L417.4 232.8L418.1 232.9L418.8 232.9L419.5 232.9L420.2 232.9L420.9 232.9L421.6 232.9L422.3 232.9L423 233L423.7 233L424.4 233L425.1 233L425.8 233L426.5 233L427.2 233L427.9 233L428.6 232.9L429.3 232.8L430 232.7L430.7 232.7L431.4 232.7L432.1 232.7L432.8 232.8L433.5 232.8L434.2 232.7L434.9 232.7L435.6 232.7L436.3 232.7L437 232.7L437.7 232.8L438.4 232.8L439.1 232.8L439.8 232.8L440.5 232.7L441.2 232.6L441.9 232.6L442.6 232.5L443.3 232.5L444 232.4L444.7 232.4L445.4 232.3L446.1 232.4L446.8 232.5L447.5 232.6L448.2 232.7L448.9 232.8L449.6 232.8L450.3 232.9L451 232.9L451.7 233L452.4 233L453.1 233L453.8 233.1L454.5 233.1L455.2 233.1L455.9 233.1L456.6 233.1L457.3 233.1L458 233.1L458.7 233.1L459.4 233.1L460.1 233.1L460.8 233.1L461.5 233L462.2 233L462.9 232.9L463.6 232.8L464.3 232.6L465 232.4L465.7 232.2L466.4 232L467.1 231.9L467.8 232L468.5 232.2L469.2 232.3L469.9 232.3L470.6 232.3L471.3 232.3L472 232.4L472.7 232.5L473.4 232.6L474.1 232.8L474.8 232.9L475.5 232.9L476.2 233L476.9 233L477.6 233L478.3 233L479 233L479.7 233L480.4 232.9L481.1 232.8L481.8 232.8L482.5 232.9L483.2 233L483.9 233L484.6 233L485.3 233L486 232.9L486.7 232.7L487.4 232.6L488.1 232.5L488.8 232.6L489.5 232.6L490.2 232.7L490.9 232.7L491.6 232.7L492.3 232.7L493 232.7L493.7 232.7L494.4 232.6L495.1 232.5L495.8 232.4L496.5 232.3L497.2 232.2L497.9 232.1L498.6 231.9L499.3 231.7L500 231.8L500.7 232.2L501.4 232.5L501.7 233.3Z" fill="#e8622f"/><line x1="391.5" y1="233.6" x2="501.7" y2="233.6" stroke="#ee9272" stroke-width="0.6"/><path d="M391.5 240.3L391.5 239L392.2 239.1L392.9 239.3L393.6 239.5L394.3 239.6L395 239.7L395.7 239.6L396.4 239.5L397.1 239.5L397.8 239.6L398.5 239.7L399.2 239.9L399.9 240L400.6 240L401.3 240L402 239.9L402.7 239.9L403.4 239.8L404.1 239.8L404.8 239.9L405.5 239.9L406.2 239.9L406.9 239.9L407.6 239.8L408.3 239.7L409 239.7L409.7 239.6L410.4 239.7L411.1 239.8L411.8 239.9L412.5 240L413.2 240L413.9 240L414.6 240L415.3 240L416 240L416.7 239.9L417.4 239.9L418.1 239.9L418.8 239.9L419.5 239.9L420.2 240L420.9 240L421.6 240L422.3 240L423 240L423.7 240L424.4 240L425.1 240L425.8 240L426.5 240L427.2 240.1L427.9 240.1L428.6 240L429.3 240L430 239.9L430.7 239.9L431.4 239.9L432.1 239.9L432.8 239.9L433.5 239.9L434.2 239.9L434.9 239.9L435.6 239.9L436.3 239.8L437 239.8L437.7 239.8L438.4 239.9L439.1 239.9L439.8 239.8L440.5 239.8L441.2 239.9L441.9 239.9L442.6 239.9L443.3 239.9L444 239.8L444.7 239.8L445.4 239.7L446.1 239.7L446.8 239.5L447.5 239.2L448.2 239L448.9 239L449.6 239.1L450.3 239.2L451 239.2L451.7 239.2L452.4 239.3L453.1 239.5L453.8 239.6L454.5 239.6L455.2 239.6L455.9 239.4L456.6 239.1L457.3 239L458 239L458.7 239.2L459.4 239.3L460.1 239.5L460.8 239.5L461.5 239.4L462.2 239.3L462.9 239.2L463.6 239.2L464.3 239.3L465 239.6L465.7 239.8L466.4 239.8L467.1 239.8L467.8 239.7L468.5 239.5L469.2 239.3L469.9 239.3L470.6 239.4L471.3 239.6L472 239.7L472.7 239.7L473.4 239.6L474.1 239.4L474.8 239.1L475.5 239L476.2 239L476.9 239L477.6 239L478.3 239L479 239L479.7 239.3L480.4 239.5L481.1 239.7L481.8 239.7L482.5 239.7L483.2 239.6L483.9 239.5L484.6 239.5L485.3 239.6L486 239.8L486.7 239.9L487.4 239.9L488.1 239.9L488.8 239.9L489.5 239.8L490.2 239.7L490.9 239.7L491.6 239.8L492.3 239.9L493 239.9L493.7 239.9L494.4 239.8L495.1 239.7L495.8 239.6L496.5 239.5L497.2 239.4L497.9 239.2L498.6 239L499.3 238.8L500 238.8L500.7 239.1L501.4 239.4L501.7 240.3Z" fill="#e8622f"/><line x1="391.5" y1="240.6" x2="501.7" y2="240.6" stroke="#ee9272" stroke-width="0.6"/><path d="M391.5 247.3L391.5 245.1L392.2 245.2L392.9 245.5L393.6 245.8L394.3 245.9L395 246L395.7 246.1L396.4 246.3L397.1 246.3L397.8 246.3L398.5 246.3L399.2 246.3L399.9 246.2L400.6 246.2L401.3 246.2L402 246.2L402.7 246.2L403.4 246.3L404.1 246.2L404.8 246.2L405.5 246.2L406.2 246.1L406.9 246.1L407.6 246.1L408.3 246.1L409 246.1L409.7 246.1L410.4 246L411.1 245.9L411.8 245.7L412.5 245.7L413.2 245.6L413.9 245.6L414.6 245.5L415.3 245.5L416 245.7L416.7 246.1L417.4 246.4L418.1 246.6L418.8 246.7L419.5 246.6L420.2 246.5L420.9 246.4L421.6 246.4L422.3 246.4L423 246.4L423.7 246.4L424.4 246.4L425.1 246.4L425.8 246.5L426.5 246.6L427.2 246.7L427.9 246.7L428.6 246.7L429.3 246.6L430 246.6L430.7 246.6L431.4 246.6L432.1 246.7L432.8 246.7L433.5 246.7L434.2 246.7L434.9 246.6L435.6 246.5L436.3 246.4L437 246.4L437.7 246.5L438.4 246.6L439.1 246.6L439.8 246.6L440.5 246.5L441.2 246.3L441.9 246.1L442.6 246L443.3 246.1L444 246.4L444.7 246.5L445.4 246.6L446.1 246.5L446.8 246.3L447.5 245.8L448.2 245.5L448.9 245.6L449.6 245.8L450.3 246L451 246.2L451.7 246.3L452.4 246.5L453.1 246.7L453.8 246.8L454.5 246.9L455.2 246.9L455.9 246.8L456.6 246.8L457.3 246.8L458 246.8L458.7 246.8L459.4 246.9L460.1 246.9L460.8 247L461.5 247L462.2 247L462.9 247L463.6 247L464.3 247L465 246.9L465.7 246.9L466.4 246.9L467.1 246.9L467.8 246.9L468.5 246.9L469.2 246.9L469.9 246.9L470.6 246.9L471.3 246.9L472 246.9L472.7 246.9L473.4 246.8L474.1 246.7L474.8 246.6L475.5 246.5L476.2 246.4L476.9 246.3L477.6 246.3L478.3 246.3L479 246.3L479.7 246.4L480.4 246.6L481.1 246.7L481.8 246.7L482.5 246.5L483.2 246.2L483.9 245.7L484.6 245.5L485.3 245.8L486 246.2L486.7 246.5L487.4 246.6L488.1 246.5L488.8 246.3L489.5 246L490.2 245.8L490.9 245.8L491.6 245.9L492.3 246.1L493 246.2L493.7 246.3L494.4 246.3L495.1 246.2L495.8 246.2L496.5 246.2L497.2 246.4L497.9 246.6L498.6 246.8L499.3 246.9L500 246.9L500.7 246.8L501.4 246.7L501.7 247.3Z" fill="#e8622f"/><line x1="391.5" y1="247.6" x2="501.7" y2="247.6" stroke="#ee9272" stroke-width="0.6"/><line x1="393" y1="252.6" x2="412.1" y2="252.6" stroke="#8a8f8f" stroke-width="0.7"/><line x1="481.9" y1="252.6" x2="500.2" y2="252.6" stroke="#8a8f8f" stroke-width="0.7"/><path d="M392 252.6l2.2 -1.1v2.2z" fill="#333"/><path d="M501.2 252.6l-2.2 -1.1v2.2z" fill="#333"/><text x="447" y="254.2" font-size="4.15" text-anchor="middle" fill="#111" stroke="#111" stroke-width="0.14">chr12:111,469,615-111,478,040</text><text x="0.3" y="281.7" font-size="13.8" font-weight="bold">B</text><text x="76.4" y="288.9" font-size="5.2" text-anchor="middle" font-weight="bold" stroke="#000" stroke-width="0.08">CGIs</text><rect x="33" y="292.5" width="85.8" height="92.1" fill="none" stroke="#8a8a8a" stroke-width="0.9"/><text x="30.6" y="295.2" font-size="3.8" text-anchor="middle" fill="#333" stroke="#333" stroke-width="0.14" transform="rotate(-90 30.6 295.2)">0.60</text><line x1="31.8" y1="295.2" x2="33" y2="295.2" stroke="#777" stroke-width="0.5"/><text x="30.6" y="323.1" font-size="3.8" text-anchor="middle" fill="#333" stroke="#333" stroke-width="0.14" transform="rotate(-90 30.6 323.1)">0.55</text><line x1="31.8" y1="323.1" x2="33" y2="323.1" stroke="#777" stroke-width="0.5"/><text x="30.6" y="351.1" font-size="3.8" text-anchor="middle" fill="#333" stroke="#333" stroke-width="0.14" transform="rotate(-90 30.6 351.1)">0.50</text><line x1="31.8" y1="351.1" x2="33" y2="351.1" stroke="#777" stroke-width="0.5"/><text x="30.6" y="379" font-size="3.8" text-anchor="middle" fill="#333" stroke="#333" stroke-width="0.14" transform="rotate(-90 30.6 379)">0.45</text><line x1="31.8" y1="379" x2="33" y2="379" stroke="#777" stroke-width="0.5"/><text x="21.2" y="336.8" font-size="5.25" text-anchor="middle" font-weight="bold" stroke="#000" stroke-width="0.08" transform="rotate(-90 21.2 336.8)">DNA methylation × 100%</text><text x="36.4" y="389.6" font-size="3.5" text-anchor="middle" fill="#333" stroke="#333" stroke-width="0.14">Start</text><text x="76.8" y="389.6" font-size="3.5" text-anchor="middle" fill="#333" stroke="#333" stroke-width="0.14">Center</text><text x="116.2" y="389.6" font-size="3.5" text-anchor="middle" fill="#333" stroke="#333" stroke-width="0.14">End</text><line x1="36.4" y1="384.6" x2="36.4" y2="385.8" stroke="#777" stroke-width="0.5"/><line x1="76.8" y1="384.6" x2="76.8" y2="385.8" stroke="#777" stroke-width="0.5"/><line x1="116.2" y1="384.6" x2="116.2" y2="385.8" stroke="#777" stroke-width="0.5"/><text x="76.8" y="395.9" font-size="4.6" text-anchor="middle" font-weight="bold" stroke="#000" stroke-width="0.08">CGIs</text><text x="117" y="383.1" font-size="4.3" text-anchor="end" fill="#222" stroke="#222" stroke-width="0.14"><tspan font-style="italic">P</tspan> &lt; 2.2e-16</text><path d="M36.1 296.9L36.7 309.8L37.7 309.6L38.6 313.3L39.6 313.7L40.5 312.4L41.5 313.8L42.4 314.2L43.4 316.5L44.3 319.1L45.3 322.9L46.2 322.7L47.2 327.4L48.1 325.5L49.1 327.7L50 329L51 333.4L51.9 332.9L52.9 334.2L53.8 334.4L54.8 336.5L55.7 336.4L56.7 336.4L57.6 338.2L58.6 338.4L59.5 338.4L60.5 342L61.4 342.2L62.4 343L63.3 344.6L64.3 343.4L65.2 343.7L66.2 343.7L67.1 343.5L68.1 344.5L69 341.7L70 343.5L70.9 343.6L71.9 342.8L72.8 341.4L73.8 344L74.7 341.1L75.7 343.4L76.6 342L77.6 341.7L78.5 342.6L79.5 342.4L80.4 343L81.4 345.4L82.3 345.8L83.3 340.3L84.2 339.5L85.2 339.5L86.1 340.3L87.1 342.6L88 341.1L89 344.1L89.9 342.8L90.9 341.6L91.8 337.8L92.8 337L93.7 335.6L94.7 335.8L95.6 337.1L96.6 335.6L97.5 334.1L98.5 329.9L99.4 330.9L100.4 329.9L101.3 328.7L102.3 327.3L103.2 323.3L104.2 322.1L105.1 323.1L106.1 321.5L107 320.6L108 317.4L108.9 317.8L109.9 312.9L110.8 314.3L111.8 312.1L112.7 308L113.7 306.8L114.6 311.5L116 296.2" fill="none" stroke="#8e2430" stroke-width="1.25" stroke-linejoin="round"/><path d="M36.1 328L36.7 342.5L37.7 346.6L38.6 346.1L39.6 349.7L40.5 350.8L41.5 351.4L42.4 353.9L43.4 355.2L44.3 354.6L45.3 358.1L46.2 360L47.2 361.1L48.1 364L49.1 364.9L50 365L51 365.9L51.9 367L52.9 371L53.8 371.3L54.8 371.8L55.7 371.9L56.7 372.9L57.6 372.6L58.6 374.6L59.5 373.9L60.5 376.5L61.4 377.2L62.4 377.8L63.3 376.5L64.3 376.3L65.2 377.7L66.2 379.5L67.1 379.2L68.1 380.5L69 379.6L70 379.8L70.9 381.8L71.9 378.8L72.8 378.9L73.8 380.4L74.7 380.6L75.7 379.7L76.6 380.1L77.6 379.5L78.5 380.3L79.5 381L80.4 380.6L81.4 379.8L82.3 378.9L83.3 380.7L84.2 378.6L85.2 379.1L86.1 379.9L87.1 379.1L88 377.8L89 379L89.9 377.8L90.9 378.1L91.8 376L92.8 374.7L93.7 375.5L94.7 372.8L95.6 371.4L96.6 372.6L97.5 371.7L98.5 367.7L99.4 366.3L100.4 368.5L101.3 367.7L102.3 364.7L103.2 363.3L104.2 364.1L105.1 364.2L106.1 360.4L107 360.4L108 360.4L108.9 356L109.9 354L110.8 350.1L111.8 348.6L112.7 344.8L113.7 343.9L114.6 348.6L116 328" fill="none" stroke="#d6202b" stroke-width="1.25" stroke-linejoin="round"/><rect x="122.4" y="299.2" width="2" height="2" fill="#8e2430"/><text x="126" y="301.6" font-size="4" fill="#222" stroke="#222" stroke-width="0.14">Control</text><rect x="122.4" y="305.1" width="2" height="2" fill="#d6202b"/><text x="126" y="307.5" font-size="4" fill="#222" stroke="#222" stroke-width="0.14">QKO</text><text x="156.2" y="282" font-size="13.8" font-weight="bold">C</text><text x="222" y="287.8" font-size="5.2" text-anchor="middle" font-weight="bold" stroke="#000" stroke-width="0.08">H2AK119ub1 targeted CGIs</text><rect x="178.4" y="292.4" width="84.1" height="90.8" fill="none" stroke="#8a8a8a" stroke-width="0.9"/><text x="176.9" y="302.3" font-size="3.8" text-anchor="middle" fill="#333" stroke="#333" stroke-width="0.14" transform="rotate(-90 176.9 302.3)">0.55</text><line x1="177.2" y1="302.3" x2="178.4" y2="302.3" stroke="#777" stroke-width="0.5"/><text x="176.9" y="320.5" font-size="3.8" text-anchor="middle" fill="#333" stroke="#333" stroke-width="0.14" transform="rotate(-90 176.9 320.5)">0.50</text><line x1="177.2" y1="320.5" x2="178.4" y2="320.5" stroke="#777" stroke-width="0.5"/><text x="176.9" y="338.6" font-size="3.8" text-anchor="middle" fill="#333" stroke="#333" stroke-width="0.14" transform="rotate(-90 176.9 338.6)">0.45</text><line x1="177.2" y1="338.6" x2="178.4" y2="338.6" stroke="#777" stroke-width="0.5"/><text x="176.9" y="356.8" font-size="3.8" text-anchor="middle" fill="#333" stroke="#333" stroke-width="0.14" transform="rotate(-90 176.9 356.8)">0.40</text><line x1="177.2" y1="356.8" x2="178.4" y2="356.8" stroke="#777" stroke-width="0.5"/><text x="176.9" y="374.9" font-size="3.8" text-anchor="middle" fill="#333" stroke="#333" stroke-width="0.14" transform="rotate(-90 176.9 374.9)">0.35</text><line x1="177.2" y1="374.9" x2="178.4" y2="374.9" stroke="#777" stroke-width="0.5"/><text x="165.2" y="339.5" font-size="5.25" text-anchor="middle" font-weight="bold" stroke="#000" stroke-width="0.08" transform="rotate(-90 165.2 339.5)">DNA methylation × 100%</text><text x="181.8" y="388.2" font-size="3.5" text-anchor="middle" fill="#333" stroke="#333" stroke-width="0.14">Start</text><text x="221.35" y="388.2" font-size="3.5" text-anchor="middle" fill="#333" stroke="#333" stroke-width="0.14">Center</text><text x="259.9" y="388.2" font-size="3.5" text-anchor="middle" fill="#333" stroke="#333" stroke-width="0.14">End</text><line x1="181.8" y1="383.2" x2="181.8" y2="384.4" stroke="#777" stroke-width="0.5"/><line x1="221.35" y1="383.2" x2="221.35" y2="384.4" stroke="#777" stroke-width="0.5"/><line x1="259.9" y1="383.2" x2="259.9" y2="384.4" stroke="#777" stroke-width="0.5"/><text x="221.35" y="394.5" font-size="4.6" text-anchor="middle" font-weight="bold" stroke="#000" stroke-width="0.08">CGIs</text><text x="260.7" y="381.6" font-size="4.3" text-anchor="end" fill="#222" stroke="#222" stroke-width="0.14"><tspan font-style="italic">P</tspan> &lt; 2.2e-16</text><path d="M181.1 295.5L181.7 298.8L182.6 298.8L183.6 301.9L184.5 304.1L185.5 304.2L186.4 305.7L187.4 309.6L188.3 309.5L189.3 312.4L190.2 316.2L191.2 318L192.1 316.7L193.1 318.2L194 320.4L195 324.5L195.9 322.9L196.9 325.4L197.8 326.2L198.8 327.2L199.7 329.6L200.7 329.1L201.6 330.9L202.6 333L203.5 333.8L204.5 333.5L205.4 335.3L206.4 334.9L207.3 336.3L208.3 334.4L209.2 335.3L210.2 336.5L211.1 338.4L212.1 337.5L213 337.2L214 336.5L214.9 336.7L215.9 336.6L216.8 339.8L217.8 339.6L218.7 339.7L219.7 338.4L220.6 339.3L221.6 337.6L222.5 338L223.5 336.4L224.4 337.2L225.4 336.2L226.3 335.3L227.3 338.3L228.2 334.7L229.2 337.3L230.1 336.6L231.1 333.8L232 335.1L233 336.7L233.9 336.2L234.9 334L235.8 334.3L236.8 333.6L237.7 331.5L238.7 332L239.6 331.2L240.6 329.2L241.5 329.7L242.5 327L243.4 327.1L244.4 323.2L245.3 323.4L246.3 320.5L247.2 321.5L248.2 321.1L249.1 318.5L250.1 317.1L251 314.9L252 310.9L252.9 309L253.9 307.3L254.8 305.6L255.8 302.8L256.7 301.5L257.7 299.3L258.6 298.5L259.8 296.2" fill="none" stroke="#e2683f" stroke-width="1.25" stroke-linejoin="round"/><path d="M181.1 335.2L181.7 338.3L182.6 339.9L183.6 341.4L184.5 341.3L185.5 343.7L186.4 347.2L187.4 349.1L188.3 347.3L189.3 349.4L190.2 353.8L191.2 352.1L192.1 355.8L193.1 356.1L194 359L195 361.5L195.9 362L196.9 362.9L197.8 364.1L198.8 366.3L199.7 367.4L200.7 367.6L201.6 368.8L202.6 370.2L203.5 370.1L204.5 370.8L205.4 372.8L206.4 371.3L207.3 373.7L208.3 374.9L209.2 375.4L210.2 373.5L211.1 374.6L212.1 377L213 375.1L214 377.9L214.9 374.9L215.9 377.7L216.8 374.8L217.8 377.5L218.7 378.3L219.7 377.5L220.6 378.1L221.6 379.3L222.5 379.4L223.5 376L224.4 377.2L225.4 375.1L226.3 376.3L227.3 375.2L228.2 375L229.2 376.7L230.1 374.4L231.1 374.5L232 373.7L233 376.1L233.9 373.1L234.9 371.6L235.8 373.1L236.8 372.7L237.7 371.6L238.7 370.5L239.6 369.3L240.6 368.9L241.5 366L242.5 367L243.4 365.2L244.4 364.7L245.3 363.6L246.3 362.2L247.2 359.7L248.2 358.5L249.1 358.2L250.1 356.3L251 351.9L252 353.3L252.9 348.3L253.9 347.2L254.8 345.1L255.8 341.7L256.7 341.7L257.7 339.8L258.6 338.8L259.8 335.2" fill="none" stroke="#f2b42a" stroke-width="1.25" stroke-linejoin="round"/><rect x="266.3" y="299.4" width="2" height="2" fill="#f2b42a"/><text x="269.9" y="301.8" font-size="4" fill="#222" stroke="#222" stroke-width="0.14">Control</text><rect x="266.3" y="305.3" width="2" height="2" fill="#e2683f"/><text x="269.9" y="307.7" font-size="4" fill="#222" stroke="#222" stroke-width="0.14">QKO</text><text x="0.6" y="415.6" font-size="13.8" font-weight="bold">D</text><text x="76.2" y="421.3" font-size="5.2" text-anchor="middle" font-weight="bold" stroke="#000" stroke-width="0.08">H3K27me3 targeted CGIs</text><rect x="31.4" y="426.4" width="85.9" height="92.8" fill="none" stroke="#8a8a8a" stroke-width="0.9"/><text x="28.9" y="444.4" font-size="3.8" text-anchor="middle" fill="#333" stroke="#333" stroke-width="0.14" transform="rotate(-90 28.9 444.4)">0.50</text><line x1="30.2" y1="444.4" x2="31.4" y2="444.4" stroke="#777" stroke-width="0.5"/><text x="28.9" y="461.4" font-size="3.8" text-anchor="middle" fill="#333" stroke="#333" stroke-width="0.14" transform="rotate(-90 28.9 461.4)">0.45</text><line x1="30.2" y1="461.4" x2="31.4" y2="461.4" stroke="#777" stroke-width="0.5"/><text x="28.9" y="478.6" font-size="3.8" text-anchor="middle" fill="#333" stroke="#333" stroke-width="0.14" transform="rotate(-90 28.9 478.6)">0.40</text><line x1="30.2" y1="478.6" x2="31.4" y2="478.6" stroke="#777" stroke-width="0.5"/><text x="28.9" y="495.6" font-size="3.8" text-anchor="middle" fill="#333" stroke="#333" stroke-width="0.14" transform="rotate(-90 28.9 495.6)">0.35</text><line x1="30.2" y1="495.6" x2="31.4" y2="495.6" stroke="#777" stroke-width="0.5"/><text x="28.9" y="511.7" font-size="3.8" text-anchor="middle" fill="#333" stroke="#333" stroke-width="0.14" transform="rotate(-90 28.9 511.7)">0.30</text><line x1="30.2" y1="511.7" x2="31.4" y2="511.7" stroke="#777" stroke-width="0.5"/><text x="19" y="473" font-size="5.25" text-anchor="middle" font-weight="bold" stroke="#000" stroke-width="0.08" transform="rotate(-90 19 473)">DNA methylation × 100%</text><text x="34.8" y="524.2" font-size="3.5" text-anchor="middle" fill="#333" stroke="#333" stroke-width="0.14">Start</text><text x="75.25" y="524.2" font-size="3.5" text-anchor="middle" fill="#333" stroke="#333" stroke-width="0.14">Center</text><text x="114.7" y="524.2" font-size="3.5" text-anchor="middle" fill="#333" stroke="#333" stroke-width="0.14">End</text><line x1="34.8" y1="519.2" x2="34.8" y2="520.4" stroke="#777" stroke-width="0.5"/><line x1="75.25" y1="519.2" x2="75.25" y2="520.4" stroke="#777" stroke-width="0.5"/><line x1="114.7" y1="519.2" x2="114.7" y2="520.4" stroke="#777" stroke-width="0.5"/><text x="75.25" y="530.5" font-size="4.6" text-anchor="middle" font-weight="bold" stroke="#000" stroke-width="0.08">CGIs</text><text x="115.5" y="517.4" font-size="4.3" text-anchor="end" fill="#222" stroke="#222" stroke-width="0.14"><tspan font-style="italic">P</tspan> &lt; 2.2e-16</text><path d="M35 430.2L35.6 438.5L36.6 437.6L37.5 440.6L38.5 442.6L39.4 441.7L40.4 445.1L41.3 444.9L42.3 445.8L43.2 448.1L44.2 451.3L45.1 450.5L46.1 454.1L47 454.2L48 454.5L48.9 456.6L49.9 457.5L50.8 458.9L51.8 461.6L52.7 462.5L53.7 460.2L54.6 463.8L55.6 462.7L56.5 464.6L57.5 464.5L58.4 463.8L59.4 463.2L60.3 466.4L61.3 467.1L62.2 466.1L63.2 464.5L64.1 467.8L65.1 468L66 469L67 469.6L67.9 469.8L68.9 469.1L69.8 467.9L70.8 468.6L71.7 468.7L72.7 469.9L73.6 469.4L74.6 469.8L75.5 468.3L76.5 468.2L77.4 469.4L78.4 468.3L79.3 468.5L80.3 467.3L81.2 464.6L82.2 465.5L83.1 464.7L84.1 464.3L85 463.5L86 463.1L86.9 464.3L87.9 465.2L88.8 465L89.8 464.7L90.7 462.5L91.7 459.6L92.6 459.7L93.6 458.5L94.5 461.1L95.5 458.1L96.4 458.5L97.4 456.2L98.3 455.6L99.3 455.4L100.2 453.5L101.2 450L102.1 451.2L103.1 449L104 450.3L105 446.4L105.9 445.2L106.9 446.6L107.8 442.8L108.8 439.8L109.7 441L110.7 439.8L111.6 436.6L112.6 433.9L113.5 435.3L114.9 437.3" fill="none" stroke="#4b1e9e" stroke-width="1.25" stroke-linejoin="round"/><path d="M35 478.2L35.6 481.8L36.6 484.8L37.5 483.5L38.5 488.9L39.4 489.5L40.4 487.6L41.3 491.7L42.3 492.8L43.2 491.7L44.2 496.3L45.1 495.3L46.1 497L47 499L48 500.1L48.9 501.3L49.9 500.4L50.8 502.1L51.8 501.7L52.7 503.1L53.7 504.7L54.6 503.8L55.6 505.7L56.5 508.3L57.5 506.5L58.4 508.3L59.4 507.4L60.3 510.4L61.3 508L62.2 508.5L63.2 511L64.1 509.9L65.1 510.6L66 511L67 510.8L67.9 510.9L68.9 510.2L69.8 510.6L70.8 511.2L71.7 511.7L72.7 512.4L73.6 514.9L74.6 511.8L75.5 511.1L76.5 511.3L77.4 510.4L78.4 512.9L79.3 513L80.3 511.9L81.2 512.4L82.2 510.6L83.1 510L84.1 509.5L85 510.4L86 508.6L86.9 509.5L87.9 508.8L88.8 509.4L89.8 509.5L90.7 508L91.7 505.3L92.6 506.5L93.6 506.4L94.5 504.9L95.5 502.2L96.4 501L97.4 501.5L98.3 500.9L99.3 498.6L100.2 498.3L101.2 496.3L102.1 496.5L103.1 493.1L104 494.6L105 493.3L105.9 489.9L106.9 489.2L107.8 488.2L108.8 488.9L109.7 487.1L110.7 483.5L111.6 484.8L112.6 481.7L113.5 482.5L114.9 483.8" fill="none" stroke="#8e2b9a" stroke-width="1.25" stroke-linejoin="round"/><rect x="122.4" y="433.5" width="2" height="2" fill="#a23ab0"/><text x="126" y="435.9" font-size="4" fill="#222" stroke="#222" stroke-width="0.14">Control</text><rect x="122.4" y="439.4" width="2" height="2" fill="#4b1e9e"/><text x="126" y="441.8" font-size="4" fill="#222" stroke="#222" stroke-width="0.14">QKO</text><text x="154.6" y="415.6" font-size="13.8" font-weight="bold">E</text><text x="221.9" y="421.3" font-size="5.2" text-anchor="middle" font-weight="bold" stroke="#000" stroke-width="0.08">RYBP targeted CGIs</text><rect x="176.4" y="425.8" width="86.3" height="93" fill="none" stroke="#8a8a8a" stroke-width="0.9"/><text x="172.7" y="433.4" font-size="3.8" text-anchor="middle" fill="#333" stroke="#333" stroke-width="0.14" transform="rotate(-90 172.7 433.4)">0.25</text><line x1="175.2" y1="433.4" x2="176.4" y2="433.4" stroke="#777" stroke-width="0.5"/><text x="172.7" y="455.1" font-size="3.8" text-anchor="middle" fill="#333" stroke="#333" stroke-width="0.14" transform="rotate(-90 172.7 455.1)">0.20</text><line x1="175.2" y1="455.1" x2="176.4" y2="455.1" stroke="#777" stroke-width="0.5"/><text x="172.7" y="476.8" font-size="3.8" text-anchor="middle" fill="#333" stroke="#333" stroke-width="0.14" transform="rotate(-90 172.7 476.8)">0.15</text><line x1="175.2" y1="476.8" x2="176.4" y2="476.8" stroke="#777" stroke-width="0.5"/><text x="172.7" y="498.6" font-size="3.8" text-anchor="middle" fill="#333" stroke="#333" stroke-width="0.14" transform="rotate(-90 172.7 498.6)">0.10</text><line x1="175.2" y1="498.6" x2="176.4" y2="498.6" stroke="#777" stroke-width="0.5"/><text x="164.8" y="471" font-size="5.25" text-anchor="middle" font-weight="bold" stroke="#000" stroke-width="0.08" transform="rotate(-90 164.8 471)">DNA methylation × 100%</text><text x="179.8" y="523.8" font-size="3.5" text-anchor="middle" fill="#333" stroke="#333" stroke-width="0.14">Start</text><text x="220.45" y="523.8" font-size="3.5" text-anchor="middle" fill="#333" stroke="#333" stroke-width="0.14">Center</text><text x="260.1" y="523.8" font-size="3.5" text-anchor="middle" fill="#333" stroke="#333" stroke-width="0.14">End</text><line x1="179.8" y1="518.8" x2="179.8" y2="520" stroke="#777" stroke-width="0.5"/><line x1="220.45" y1="518.8" x2="220.45" y2="520" stroke="#777" stroke-width="0.5"/><line x1="260.1" y1="518.8" x2="260.1" y2="520" stroke="#777" stroke-width="0.5"/><text x="220.45" y="530.1" font-size="4.6" text-anchor="middle" font-weight="bold" stroke="#000" stroke-width="0.08">CGIs</text><text x="260.9" y="517" font-size="4.3" text-anchor="end" fill="#222" stroke="#222" stroke-width="0.14"><tspan font-style="italic">P</tspan> &lt; 2.2e-16</text><path d="M179.5 442.9L180.1 436.5L181 440.8L182 446.7L182.9 449.7L183.9 450.1L184.8 450.3L185.8 450.6L186.7 456.9L187.7 459L188.6 460.1L189.6 463.5L190.5 465.8L191.5 468.5L192.4 467.9L193.4 471.3L194.3 475.3L195.3 479.9L196.2 480.9L197.2 479.8L198.1 477.1L199.1 477.8L200 478L201 480.2L201.9 483.5L202.9 483.3L203.8 484.9L204.8 485.9L205.7 487.7L206.7 490.6L207.6 488.8L208.6 490.8L209.5 490.4L210.5 490.5L211.4 491.3L212.4 493.9L213.3 494.8L214.3 493.4L215.2 492.9L216.2 491.2L217.1 488.7L218.1 488.7L219 490.2L220 490.6L220.9 490.7L221.9 490.2L222.8 488.7L223.8 488.4L224.7 486.2L225.7 485.7L226.6 485.7L227.6 484.2L228.5 485L229.5 484.9L230.4 483.1L231.4 482L232.3 481.9L233.3 482.5L234.2 482L235.2 481.5L236.1 480.8L237.1 481.8L238 479.7L239 478.9L239.9 477.6L240.9 472.5L241.8 472.8L242.8 472.9L243.7 470.5L244.7 469L245.6 465.6L246.6 464.2L247.5 464.2L248.5 461.6L249.4 460.5L250.4 458.8L251.3 457L252.3 454.9L253.2 451.5L254.2 447.1L255.1 443L256.1 437.6L257 434.7L258 432L258.9 431.1L259.6 437.3" fill="none" stroke="#1c2070" stroke-width="1.25" stroke-linejoin="round"/><path d="M179.5 477.5L180.1 473L181 477L182 479.1L182.9 479L183.9 480L184.8 481.1L185.8 482.1L186.7 484.1L187.7 485.4L188.6 489.4L189.6 488.3L190.5 489.7L191.5 494.2L192.4 495.6L193.4 493.8L194.3 496.2L195.3 500.2L196.2 498.7L197.2 500.6L198.1 501.8L199.1 502.6L200 501.2L201 504.8L201.9 506.1L202.9 505.5L203.8 505.9L204.8 508.2L205.7 510.1L206.7 510.7L207.6 508.5L208.6 511.5L209.5 511.2L210.5 513.9L211.4 514.6L212.4 513.4L213.3 515.8L214.3 515.7L215.2 512.6L216.2 513.8L217.1 516L218.1 513.1L219 514L220 514.7L220.9 513.3L221.9 514.6L222.8 511.8L223.8 513L224.7 512.3L225.7 510L226.6 512.8L227.6 512.6L228.5 512.7L229.5 509.9L230.4 511.1L231.4 509.3L232.3 511.5L233.3 510.7L234.2 511.6L235.2 508.3L236.1 508.5L237.1 507.4L238 509.6L239 507.2L239.9 504.1L240.9 505.4L241.8 503.1L242.8 501.8L243.7 502.2L244.7 500.7L245.6 498.5L246.6 496.5L247.5 495.6L248.5 494.3L249.4 492L250.4 490.4L251.3 490.4L252.3 490.5L253.2 486.8L254.2 483.7L255.1 479.8L256.1 481.3L257 477L258 475L258.9 475L259.6 475.4" fill="none" stroke="#2d92d8" stroke-width="1.25" stroke-linejoin="round"/><rect x="266.4" y="433.5" width="2" height="2" fill="#38a6e6"/><text x="270" y="435.9" font-size="4" fill="#222" stroke="#222" stroke-width="0.14">Control</text><rect x="266.4" y="439.4" width="2" height="2" fill="#1c2070"/><text x="270" y="441.8" font-size="4" fill="#222" stroke="#222" stroke-width="0.14">QKO</text><text x="301" y="282" font-size="13.8" font-weight="bold">F</text><line x1="327.1" y1="280.2" x2="327.1" y2="374.6" stroke="#888" stroke-width="0.8"/><line x1="327.1" y1="374.6" x2="467" y2="374.6" stroke="#888" stroke-width="0.8"/><line x1="327.1" y1="374.6" x2="327.1" y2="376" stroke="#777" stroke-width="0.6"/><text x="327.1" y="381.6" font-size="4.6" text-anchor="middle" fill="#222" stroke="#222" stroke-width="0.14">0</text><line x1="355.08" y1="374.6" x2="355.08" y2="376" stroke="#777" stroke-width="0.6"/><text x="355.08" y="381.6" font-size="4.6" text-anchor="middle" fill="#222" stroke="#222" stroke-width="0.14">1,000</text><line x1="383.06" y1="374.6" x2="383.06" y2="376" stroke="#777" stroke-width="0.6"/><text x="383.06" y="381.6" font-size="4.6" text-anchor="middle" fill="#222" stroke="#222" stroke-width="0.14">2,000</text><line x1="411.04" y1="374.6" x2="411.04" y2="376" stroke="#777" stroke-width="0.6"/><text x="411.04" y="381.6" font-size="4.6" text-anchor="middle" fill="#222" stroke="#222" stroke-width="0.14">3,000</text><line x1="439.02" y1="374.6" x2="439.02" y2="376" stroke="#777" stroke-width="0.6"/><text x="439.02" y="381.6" font-size="4.6" text-anchor="middle" fill="#222" stroke="#222" stroke-width="0.14">4,000</text><line x1="467" y1="374.6" x2="467" y2="376" stroke="#777" stroke-width="0.6"/><text x="467" y="381.6" font-size="4.6" text-anchor="middle" fill="#222" stroke="#222" stroke-width="0.14">5,000</text><text x="400" y="390.6" font-size="5.72" text-anchor="middle" font-weight="bold" stroke="#000" stroke-width="0.08">PcG-targeted CGI at DMRs in QKOvsCon</text><rect x="327.1" y="286" width="1.1" height="11.8" fill="#1e1686"/><text x="334.9" y="292.2" font-size="5.2" fill="#222" stroke="#222" stroke-width="0.14">27</text><rect x="327.1" y="297.8" width="2.57" height="11" fill="#6a11b2"/><text x="334.9" y="304.4" font-size="5.2" fill="#222" stroke="#222" stroke-width="0.14">92</text><rect x="327.1" y="308.8" width="4.34" height="11.8" fill="#ef7f5c"/><text x="333.8" y="316.5" font-size="5.2" fill="#222" stroke="#222" stroke-width="0.14">155</text><text x="323" y="305" font-size="5.9" text-anchor="end" font-weight="bold" stroke="#000" stroke-width="0.08">Hypo</text><line x1="323.4" y1="302.7" x2="327.1" y2="302.7" stroke="#555" stroke-width="0.6"/><rect x="327.1" y="332.7" width="22.66" height="12.3" fill="#1e1686"/><text x="354.56" y="340.75" font-size="5.2" fill="#222" stroke="#222" stroke-width="0.14">810</text><rect x="327.1" y="345" width="56.63" height="12" fill="#6a11b2"/><text x="388.53" y="352.9" font-size="5.2" fill="#222" stroke="#222" stroke-width="0.14">2,024</text><rect x="327.1" y="357" width="111.78" height="11" fill="#ef7f5c"/><text x="443.68" y="364.4" font-size="5.2" fill="#222" stroke="#222" stroke-width="0.14">3,995</text><text x="322.8" y="352" font-size="5.9" text-anchor="end" font-weight="bold" stroke="#000" stroke-width="0.08">Hyper</text><line x1="323.4" y1="350.2" x2="327.1" y2="350.2" stroke="#555" stroke-width="0.6"/><rect x="420.2" y="288.5" width="9.8" height="5.6" fill="#1e1686"/><text x="432" y="293.1" font-size="5.1" fill="#222" stroke="#222" stroke-width="0.14">RYBP</text><rect x="420.2" y="300.3" width="9.8" height="5.6" fill="#6a11b2"/><text x="432" y="304.9" font-size="5.1" fill="#222" stroke="#222" stroke-width="0.14">H3K27me3</text><rect x="420.2" y="311.8" width="9.8" height="5.6" fill="#ef7f5c"/><text x="432" y="316.4" font-size="5.1" fill="#222" stroke="#222" stroke-width="0.14">H2AK119ub1</text><text x="295.3" y="414.6" font-size="13.8" font-weight="bold">G</text><line x1="325.4" y1="440" x2="325.4" y2="493.6" stroke="#888" stroke-width="0.8"/><line x1="325.4" y1="493.6" x2="494.4" y2="493.6" stroke="#888" stroke-width="0.8"/><line x1="325.4" y1="493.6" x2="325.4" y2="495" stroke="#777" stroke-width="0.6"/><text x="325.4" y="500.8" font-size="4.5" text-anchor="middle" fill="#222" stroke="#222" stroke-width="0.14">0</text><line x1="367.65" y1="493.6" x2="367.65" y2="495" stroke="#777" stroke-width="0.6"/><text x="367.65" y="500.8" font-size="4.5" text-anchor="middle" fill="#222" stroke="#222" stroke-width="0.14">20,000</text><line x1="409.9" y1="493.6" x2="409.9" y2="495" stroke="#777" stroke-width="0.6"/><text x="409.9" y="500.8" font-size="4.5" text-anchor="middle" fill="#222" stroke="#222" stroke-width="0.14">40,000</text><line x1="452.15" y1="493.6" x2="452.15" y2="495" stroke="#777" stroke-width="0.6"/><text x="452.15" y="500.8" font-size="4.5" text-anchor="middle" fill="#222" stroke="#222" stroke-width="0.14">60,000</text><line x1="494.4" y1="493.6" x2="494.4" y2="495" stroke="#777" stroke-width="0.6"/><text x="494.4" y="500.8" font-size="4.5" text-anchor="middle" fill="#222" stroke="#222" stroke-width="0.14">80,000</text><text x="414" y="509.2" font-size="5.9" text-anchor="middle" font-weight="bold" stroke="#000" stroke-width="0.08">The number of DMRs</text><rect x="325.4" y="445.4" width="24.6" height="17.6" fill="#1b158a"/><rect x="350" y="445.4" width="24.6" height="17.6" fill="#9d22aa"/><rect x="374.6" y="445.4" width="1" height="17.6" fill="#f8b23a"/><line x1="375.6" y1="454.2" x2="379.2" y2="454.2" stroke="#444" stroke-width="0.5"/><text x="379.6" y="455.8" font-size="4.5" fill="#222" stroke="#222" stroke-width="0.14">503</text><text x="323" y="456.4" font-size="5.8" text-anchor="end" font-weight="bold" stroke="#000" stroke-width="0.08">Hypo</text><line x1="323.2" y1="454.2" x2="325.4" y2="454.2" stroke="#555" stroke-width="0.6"/><rect x="325.4" y="471.7" width="61.3" height="17.9" fill="#1b158a"/><rect x="386.7" y="471.7" width="59.3" height="17.9" fill="#9d22aa"/><rect x="446" y="471.7" width="11.3" height="17.9" fill="#f8b23a"/><line x1="457.3" y1="480.6" x2="461" y2="480.6" stroke="#444" stroke-width="0.5"/><text x="462" y="482.2" font-size="4.5" fill="#222" stroke="#222" stroke-width="0.14">5,341</text><text x="323" y="483.4" font-size="5.8" text-anchor="end" font-weight="bold" stroke="#000" stroke-width="0.08">Hyper</text><line x1="323.2" y1="481.2" x2="325.4" y2="481.2" stroke="#555" stroke-width="0.6"/><rect x="466" y="443.8" width="6.3" height="3.8" fill="#f8b23a"/><text x="475.6" y="447.5" font-size="5.1" fill="#222" stroke="#222" stroke-width="0.14">CGI</text><rect x="466" y="451.6" width="6.3" height="3.8" fill="#9d22aa"/><text x="475.6" y="455.3" font-size="5.1" fill="#222" stroke="#222" stroke-width="0.14">Intergenic</text><rect x="466" y="459.3" width="6.3" height="3.8" fill="#1b158a"/><text x="475.6" y="463" font-size="5.1" fill="#222" stroke="#222" stroke-width="0.14">Genic</text><text x="0.6" y="554.5" font-size="13.8" font-weight="bold">H</text><rect x="80.7" y="565.2" width="49.8" height="30.2" fill="#fffefd" stroke="#b4b0b0" stroke-width="0.7"/><text x="105.6" y="582.5" font-size="6.1" text-anchor="middle" fill="#222" stroke="#222" stroke-width="0.14">2.09</text><rect x="130.5" y="565.2" width="50.1" height="30.2" fill="#fce2d8" stroke="#b4b0b0" stroke-width="0.7"/><text x="155.55" y="582.5" font-size="6.1" text-anchor="middle" fill="#222" stroke="#222" stroke-width="0.14">10.64</text><rect x="180.6" y="565.2" width="49.4" height="30.2" fill="#fbd7ca" stroke="#b4b0b0" stroke-width="0.7"/><text x="205.3" y="582.5" font-size="6.1" text-anchor="middle" fill="#222" stroke="#222" stroke-width="0.14">14.41</text><rect x="80.7" y="595.4" width="49.8" height="29.7" fill="#fce8e1" stroke="#b4b0b0" stroke-width="0.7"/><text x="105.6" y="612.45" font-size="6.1" text-anchor="middle" fill="#222" stroke="#222" stroke-width="0.14">8.52</text><rect x="130.5" y="595.4" width="50.1" height="29.7" fill="#f6957b" stroke="#b4b0b0" stroke-width="0.7"/><text x="155.55" y="612.45" font-size="6.1" text-anchor="middle" fill="#222" stroke="#222" stroke-width="0.14">34.31</text><rect x="180.6" y="595.4" width="49.4" height="29.7" fill="#f81d0e" stroke="#b4b0b0" stroke-width="0.7"/><text x="205.3" y="612.45" font-size="6.1" text-anchor="middle" fill="#222" stroke="#222" stroke-width="0.14">61.47</text><rect x="80.7" y="625.1" width="49.8" height="29.7" fill="#fdf2ee" stroke="#b4b0b0" stroke-width="0.7"/><text x="105.6" y="642.15" font-size="6.1" text-anchor="middle" fill="#222" stroke="#222" stroke-width="0.14">5.68</text><rect x="130.5" y="625.1" width="50.1" height="29.7" fill="#f9baa6" stroke="#b4b0b0" stroke-width="0.7"/><text x="155.55" y="642.15" font-size="6.1" text-anchor="middle" fill="#222" stroke="#222" stroke-width="0.14">25.46</text><rect x="180.6" y="625.1" width="49.4" height="29.7" fill="#f58367" stroke="#b4b0b0" stroke-width="0.7"/><text x="205.3" y="642.15" font-size="6.1" text-anchor="middle" fill="#222" stroke="#222" stroke-width="0.14">41.04</text><text x="105.6" y="559.5" font-size="4.9" text-anchor="middle" font-weight="bold" stroke="#000" stroke-width="0.08">RKO vs. Con</text><text x="155.55" y="559.5" font-size="4.9" text-anchor="middle" font-weight="bold" stroke="#000" stroke-width="0.08">T123 TKO vs. Con</text><text x="205.3" y="559.5" font-size="4.9" text-anchor="middle" font-weight="bold" stroke="#000" stroke-width="0.08">R/T123 QKO vs. Con</text><text x="78.4" y="582" font-size="5" text-anchor="end" font-weight="bold" stroke="#000" stroke-width="0.08">RYBP targeted CGIs</text><text x="78.4" y="611.95" font-size="5" text-anchor="end" font-weight="bold" stroke="#000" stroke-width="0.08">H3K27me3 targeted CGIs</text><text x="78.4" y="641.65" font-size="5" text-anchor="end" font-weight="bold" stroke="#000" stroke-width="0.08">H2AK119ub1 targeted CGIs</text><text x="156.2" y="664.3" font-size="4.9" text-anchor="middle" font-weight="bold" stroke="#000" stroke-width="0.08">Percentage of CGIs with DMRs</text><defs><linearGradient id="hg" x1="0" y1="1" x2="0" y2="0"><stop offset="0" stop-color="#ffffff"/><stop offset="0.3" stop-color="#fcd9cd"/><stop offset="0.65" stop-color="#f6907a"/><stop offset="1" stop-color="#ee2a1c"/></linearGradient></defs><rect x="237" y="566" width="7.6" height="36" fill="url(#hg)"/><text x="246.8" y="568.7" font-size="4.4" fill="#222" stroke="#222" stroke-width="0.14">60</text><text x="246.8" y="581.3" font-size="4.4" fill="#222" stroke="#222" stroke-width="0.14">40</text><text x="246.8" y="593.7" font-size="4.4" fill="#222" stroke="#222" stroke-width="0.14">20</text><text x="246.8" y="605.7" font-size="4.4" fill="#222" stroke="#222" stroke-width="0.14">0</text><text x="295.3" y="553.6" font-size="13.8" font-weight="bold">I</text><path d="M386.79 559.99A25.4 25.4 0 0 1 399.47 609.02L395.5 597.48A13.2 13.2 0 0 0 388.91 572Z" fill="#1e0f8c" stroke="#fff" stroke-width="0.5"/><path d="M399.47 609.02A25.4 25.4 0 1 1 386.79 559.99L388.91 572A13.2 13.2 0 1 0 395.5 597.48Z" fill="#e6e6e8" stroke="#fff" stroke-width="0.5"/><path d="M385 549.84A35.7 35.7 0 1 1 383.47 619.85L385.44 610.97A26.6 26.6 0 1 0 386.58 558.8Z" fill="#a11fb0" stroke="#fff" stroke-width="0.5"/><path d="M383.47 619.85A35.7 35.7 0 0 1 385 549.84L386.58 558.8A26.6 26.6 0 0 0 385.44 610.97Z" fill="#dadadc" stroke="#fff" stroke-width="0.5"/><path d="M383.3 540.19A45.5 45.5 0 0 1 431 607.06L423.47 602.89A36.9 36.9 0 0 0 384.79 548.66Z" fill="#f17e4c" stroke="#fff" stroke-width="0.5"/><path d="M431 607.06A45.5 45.5 0 0 1 381.74 629.51L383.53 621.09A36.9 36.9 0 0 0 423.47 602.89Z" fill="#efefef" stroke="#fff" stroke-width="0.5"/><path d="M381.74 629.51A45.5 45.5 0 0 1 383.3 540.19L384.79 548.66A36.9 36.9 0 0 0 383.53 621.09Z" fill="#c6c6c8" stroke="#fff" stroke-width="0.5"/><text x="391.2" y="586.4" font-size="3.7" text-anchor="middle" font-weight="bold" fill="#111" stroke="#111" stroke-width="0.08">Total = 3,690</text><text x="408.4" y="593.2" font-size="3.6" text-anchor="middle" fill="#dcdcff" stroke="#dcdcff" stroke-width="0.14">47.49%</text><text x="393.3" y="616.6" font-size="3.6" text-anchor="middle" fill="#f6d8f8" stroke="#f6d8f8" stroke-width="0.14">56.88%</text><text x="403" y="545.5" font-size="3.6" text-anchor="middle" fill="#ffe0d0" stroke="#ffe0d0" stroke-width="0.14">36.27%</text><rect x="288.5" y="639.2" width="10.8" height="4" fill="#1e0f8c"/><text x="303" y="643.2" font-size="5.97" fill="#111" stroke="#111" stroke-width="0.14">Common Hyper-CGIs in TCGA and QKO (<tspan font-style="italic">P</tspan> &lt; 4.941e-324)</text><rect x="288.5" y="649" width="10.8" height="4" fill="#a11fb0"/><text x="303" y="653" font-size="5.97" fill="#111" stroke="#111" stroke-width="0.14">H2AK119ub1 targeted Hyper-CGIs in TCGA (<tspan font-style="italic">P</tspan> &lt; 1.204e-113)</text><rect x="288.5" y="658.8" width="10.8" height="4" fill="#f08a68"/><text x="303" y="662.8" font-size="5.97" fill="#111" stroke="#111" stroke-width="0.14">H2AK119ub1 targeted common Hyper-CGIs in TCGA and QKO (<tspan font-style="italic">P</tspan> &lt; 3.992e-267)</text>
</g>
</svg></body></html>
